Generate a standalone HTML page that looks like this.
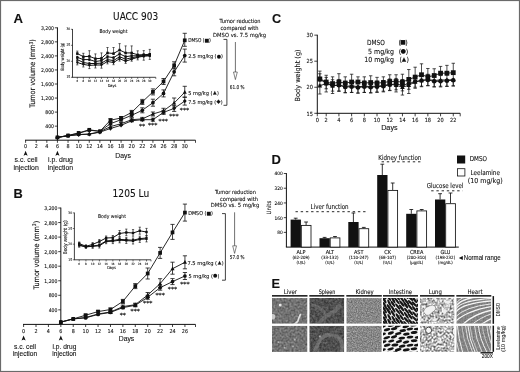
<!DOCTYPE html>
<html lang="en"><head><meta charset="utf-8"><title>Figure</title>
<style>html,body{margin:0;padding:0;background:#fff;width:520px;height:372px;overflow:hidden}svg{display:block}text{white-space:pre;stroke-width:0.1px}</style>
</head><body>
<svg width="520" height="372" viewBox="0 0 520 372">
<defs><filter id="soft" x="0" y="0" width="520" height="372" filterUnits="userSpaceOnUse" color-interpolation-filters="sRGB"><feGaussianBlur stdDeviation="0.32"/></filter><filter id="fliv" x="0" y="0" width="100%" height="100%" color-interpolation-filters="sRGB"><feTurbulence type="fractalNoise" baseFrequency="0.5" numOctaves="2" seed="4"/><feColorMatrix type="matrix" values="0 0 0 0.42 0.235  0 0 0 0.42 0.235  0 0 0 0.42 0.235  0 0 0 0 1" result="n"/><feComposite in="n" in2="SourceGraphic" operator="in"/></filter><filter id="fspl" x="0" y="0" width="100%" height="100%" color-interpolation-filters="sRGB"><feTurbulence type="fractalNoise" baseFrequency="0.45" numOctaves="2" seed="9"/><feColorMatrix type="matrix" values="0 0 0 0.36 0.13  0 0 0 0.36 0.13  0 0 0 0.36 0.13  0 0 0 0 1" result="n"/><feComposite in="n" in2="SourceGraphic" operator="in"/></filter><filter id="fkid" x="0" y="0" width="100%" height="100%" color-interpolation-filters="sRGB"><feTurbulence type="fractalNoise" baseFrequency="0.8" numOctaves="2" seed="17"/><feColorMatrix type="matrix" values="0 0 0 0.46 0.3  0 0 0 0.46 0.3  0 0 0 0.46 0.3  0 0 0 0 1" result="n"/><feComposite in="n" in2="SourceGraphic" operator="in"/></filter><filter id="flun" x="0" y="0" width="100%" height="100%" color-interpolation-filters="sRGB"><feTurbulence type="fractalNoise" baseFrequency="0.5" numOctaves="2" seed="31"/><feColorMatrix type="matrix" values="0 0 0 1.35 0.02  0 0 0 1.35 0.02  0 0 0 1.35 0.02  0 0 0 0 1" result="n"/><feComposite in="n" in2="SourceGraphic" operator="in"/></filter><filter id="fhea" x="0" y="0" width="100%" height="100%" color-interpolation-filters="sRGB"><feTurbulence type="fractalNoise" baseFrequency="0.6" numOctaves="2" seed="23"/><feColorMatrix type="matrix" values="0 0 0 0.24 0.39  0 0 0 0.24 0.39  0 0 0 0.24 0.39  0 0 0 0 1" result="n"/><feComposite in="n" in2="SourceGraphic" operator="in"/></filter><clipPath id="c00"><rect x="272.0" y="297.9" width="35.50" height="25.90"/></clipPath><clipPath id="c01"><rect x="272.0" y="325.7" width="35.50" height="26.20"/></clipPath><clipPath id="c10"><rect x="309.3" y="297.9" width="35.00" height="25.90"/></clipPath><clipPath id="c11"><rect x="309.3" y="325.7" width="35.00" height="26.20"/></clipPath><clipPath id="c20"><rect x="346.3" y="297.9" width="35.50" height="25.90"/></clipPath><clipPath id="c21"><rect x="346.3" y="325.7" width="35.50" height="26.20"/></clipPath><clipPath id="c30"><rect x="383.0" y="297.9" width="35.00" height="25.90"/></clipPath><clipPath id="c31"><rect x="383.0" y="325.7" width="35.00" height="26.20"/></clipPath><clipPath id="c40"><rect x="420.0" y="297.9" width="34.50" height="25.90"/></clipPath><clipPath id="c41"><rect x="420.0" y="325.7" width="34.50" height="26.20"/></clipPath><clipPath id="c50"><rect x="456.3" y="297.9" width="35.00" height="25.90"/></clipPath><clipPath id="c51"><rect x="456.3" y="325.7" width="35.00" height="26.20"/></clipPath></defs>
<rect x="0" y="0" width="520" height="372" fill="#fff"/>
<g filter="url(#soft)">
<text x="13.60" y="23.45" font-family="Liberation Sans,sans-serif" font-size="13.2" text-anchor="start" fill="#111" font-weight="bold" stroke="#111">A</text>
<text x="135.60" y="20.37" font-family="DejaVu Sans Condensed,DejaVu Sans,sans-serif" font-size="10.2" text-anchor="middle" fill="#111" stroke="#111" textLength="45" lengthAdjust="spacingAndGlyphs">UACC 903</text>
<line x1="25.00" y1="140.20" x2="195.50" y2="140.20" stroke="#111" stroke-width="1.0"/>
<line x1="57.43" y1="140.20" x2="57.43" y2="27.40" stroke="#111" stroke-width="1.0"/>
<line x1="54.83" y1="126.15" x2="57.43" y2="126.15" stroke="#111" stroke-width="0.8"/>
<text x="54.03" y="128.29" font-family="DejaVu Sans Condensed,DejaVu Sans,sans-serif" font-size="5.1" text-anchor="end" fill="#111" stroke="#111">400</text>
<line x1="54.83" y1="112.10" x2="57.43" y2="112.10" stroke="#111" stroke-width="0.8"/>
<text x="54.03" y="114.24" font-family="DejaVu Sans Condensed,DejaVu Sans,sans-serif" font-size="5.1" text-anchor="end" fill="#111" stroke="#111">800</text>
<line x1="54.83" y1="98.05" x2="57.43" y2="98.05" stroke="#111" stroke-width="0.8"/>
<text x="54.03" y="100.19" font-family="DejaVu Sans Condensed,DejaVu Sans,sans-serif" font-size="5.1" text-anchor="end" fill="#111" stroke="#111">1,200</text>
<line x1="54.83" y1="84.00" x2="57.43" y2="84.00" stroke="#111" stroke-width="0.8"/>
<text x="54.03" y="86.14" font-family="DejaVu Sans Condensed,DejaVu Sans,sans-serif" font-size="5.1" text-anchor="end" fill="#111" stroke="#111">1,600</text>
<line x1="54.83" y1="69.95" x2="57.43" y2="69.95" stroke="#111" stroke-width="0.8"/>
<text x="54.03" y="72.09" font-family="DejaVu Sans Condensed,DejaVu Sans,sans-serif" font-size="5.1" text-anchor="end" fill="#111" stroke="#111">2,000</text>
<line x1="54.83" y1="55.90" x2="57.43" y2="55.90" stroke="#111" stroke-width="0.8"/>
<text x="54.03" y="58.04" font-family="DejaVu Sans Condensed,DejaVu Sans,sans-serif" font-size="5.1" text-anchor="end" fill="#111" stroke="#111">2,400</text>
<line x1="54.83" y1="41.85" x2="57.43" y2="41.85" stroke="#111" stroke-width="0.8"/>
<text x="54.03" y="43.99" font-family="DejaVu Sans Condensed,DejaVu Sans,sans-serif" font-size="5.1" text-anchor="end" fill="#111" stroke="#111">2,800</text>
<line x1="54.83" y1="27.80" x2="57.43" y2="27.80" stroke="#111" stroke-width="0.8"/>
<text x="54.03" y="29.94" font-family="DejaVu Sans Condensed,DejaVu Sans,sans-serif" font-size="5.1" text-anchor="end" fill="#111" stroke="#111">3,200</text>
<line x1="25.60" y1="140.20" x2="25.60" y2="142.80" stroke="#111" stroke-width="0.8"/>
<text x="25.60" y="148.34" font-family="DejaVu Sans Condensed,DejaVu Sans,sans-serif" font-size="5.4" text-anchor="middle" fill="#111" stroke="#111">0</text>
<line x1="36.21" y1="140.20" x2="36.21" y2="142.80" stroke="#111" stroke-width="0.8"/>
<text x="36.21" y="148.34" font-family="DejaVu Sans Condensed,DejaVu Sans,sans-serif" font-size="5.4" text-anchor="middle" fill="#111" stroke="#111">2</text>
<line x1="46.82" y1="140.20" x2="46.82" y2="142.80" stroke="#111" stroke-width="0.8"/>
<text x="46.82" y="148.34" font-family="DejaVu Sans Condensed,DejaVu Sans,sans-serif" font-size="5.4" text-anchor="middle" fill="#111" stroke="#111">4</text>
<line x1="57.43" y1="140.20" x2="57.43" y2="142.80" stroke="#111" stroke-width="0.8"/>
<text x="57.43" y="148.34" font-family="DejaVu Sans Condensed,DejaVu Sans,sans-serif" font-size="5.4" text-anchor="middle" fill="#111" stroke="#111">6</text>
<line x1="68.04" y1="140.20" x2="68.04" y2="142.80" stroke="#111" stroke-width="0.8"/>
<text x="68.04" y="148.34" font-family="DejaVu Sans Condensed,DejaVu Sans,sans-serif" font-size="5.4" text-anchor="middle" fill="#111" stroke="#111">8</text>
<line x1="78.65" y1="140.20" x2="78.65" y2="142.80" stroke="#111" stroke-width="0.8"/>
<text x="78.65" y="148.34" font-family="DejaVu Sans Condensed,DejaVu Sans,sans-serif" font-size="5.4" text-anchor="middle" fill="#111" stroke="#111">10</text>
<line x1="89.26" y1="140.20" x2="89.26" y2="142.80" stroke="#111" stroke-width="0.8"/>
<text x="89.26" y="148.34" font-family="DejaVu Sans Condensed,DejaVu Sans,sans-serif" font-size="5.4" text-anchor="middle" fill="#111" stroke="#111">12</text>
<line x1="99.87" y1="140.20" x2="99.87" y2="142.80" stroke="#111" stroke-width="0.8"/>
<text x="99.87" y="148.34" font-family="DejaVu Sans Condensed,DejaVu Sans,sans-serif" font-size="5.4" text-anchor="middle" fill="#111" stroke="#111">14</text>
<line x1="110.48" y1="140.20" x2="110.48" y2="142.80" stroke="#111" stroke-width="0.8"/>
<text x="110.48" y="148.34" font-family="DejaVu Sans Condensed,DejaVu Sans,sans-serif" font-size="5.4" text-anchor="middle" fill="#111" stroke="#111">16</text>
<line x1="121.09" y1="140.20" x2="121.09" y2="142.80" stroke="#111" stroke-width="0.8"/>
<text x="121.09" y="148.34" font-family="DejaVu Sans Condensed,DejaVu Sans,sans-serif" font-size="5.4" text-anchor="middle" fill="#111" stroke="#111">18</text>
<line x1="131.70" y1="140.20" x2="131.70" y2="142.80" stroke="#111" stroke-width="0.8"/>
<text x="131.70" y="148.34" font-family="DejaVu Sans Condensed,DejaVu Sans,sans-serif" font-size="5.4" text-anchor="middle" fill="#111" stroke="#111">20</text>
<line x1="142.31" y1="140.20" x2="142.31" y2="142.80" stroke="#111" stroke-width="0.8"/>
<text x="142.31" y="148.34" font-family="DejaVu Sans Condensed,DejaVu Sans,sans-serif" font-size="5.4" text-anchor="middle" fill="#111" stroke="#111">22</text>
<line x1="152.92" y1="140.20" x2="152.92" y2="142.80" stroke="#111" stroke-width="0.8"/>
<text x="152.92" y="148.34" font-family="DejaVu Sans Condensed,DejaVu Sans,sans-serif" font-size="5.4" text-anchor="middle" fill="#111" stroke="#111">24</text>
<line x1="163.53" y1="140.20" x2="163.53" y2="142.80" stroke="#111" stroke-width="0.8"/>
<text x="163.53" y="148.34" font-family="DejaVu Sans Condensed,DejaVu Sans,sans-serif" font-size="5.4" text-anchor="middle" fill="#111" stroke="#111">26</text>
<line x1="174.14" y1="140.20" x2="174.14" y2="142.80" stroke="#111" stroke-width="0.8"/>
<text x="174.14" y="148.34" font-family="DejaVu Sans Condensed,DejaVu Sans,sans-serif" font-size="5.4" text-anchor="middle" fill="#111" stroke="#111">28</text>
<line x1="184.75" y1="140.20" x2="184.75" y2="142.80" stroke="#111" stroke-width="0.8"/>
<text x="184.75" y="148.34" font-family="DejaVu Sans Condensed,DejaVu Sans,sans-serif" font-size="5.4" text-anchor="middle" fill="#111" stroke="#111">30</text>
<line x1="195.50" y1="140.20" x2="195.50" y2="142.80" stroke="#111" stroke-width="0.8"/>
<text x="123.10" y="158.08" font-family="Liberation Sans,sans-serif" font-size="6.9" text-anchor="middle" fill="#111" stroke="#111" textLength="15.6" lengthAdjust="spacingAndGlyphs">Days</text>
<text x="32.60" y="76.10" font-family="DejaVu Sans Condensed,DejaVu Sans,sans-serif" font-size="7.5" text-anchor="middle" fill="#111" stroke="#111" textLength="68.6" lengthAdjust="spacingAndGlyphs" transform="rotate(-90 32.60 73.40)">Tumor volume (mm<tspan dy="-2.4" font-size="5.2">3</tspan><tspan dy="2.4">)</tspan></text>
<polygon points="25.60,150.80 27.65,155.80 25.60,154.80 23.55,155.80" fill="#111"/>
<text x="26.10" y="162.48" font-family="Liberation Sans,sans-serif" font-size="6.9" text-anchor="middle" fill="#111" stroke="#111">s.c. cell</text>
<text x="26.10" y="169.78" font-family="Liberation Sans,sans-serif" font-size="6.9" text-anchor="middle" fill="#111" stroke="#111">injection</text>
<polygon points="57.43,150.80 59.48,155.80 57.43,154.80 55.38,155.80" fill="#111"/>
<text x="60.43" y="162.48" font-family="Liberation Sans,sans-serif" font-size="6.9" text-anchor="middle" fill="#111" stroke="#111">i.p. drug</text>
<text x="60.43" y="169.78" font-family="Liberation Sans,sans-serif" font-size="6.9" text-anchor="middle" fill="#111" stroke="#111">injection</text>
<polyline fill="none" stroke="#111" stroke-width="0.9" points="57.43,137.40 68.04,135.90 78.65,134.70 89.26,134.20 99.87,132.20 110.48,128.50 121.09,125.30 131.70,120.80 142.31,119.70 152.92,119.70 163.53,112.40 174.14,108.40 184.75,101.10"/>
<polygon points="57.43,135.18 59.37,137.40 57.43,139.62 55.49,137.40" fill="#111"/>
<polygon points="68.04,133.68 69.98,135.90 68.04,138.12 66.10,135.90" fill="#111"/>
<polygon points="78.65,132.48 80.59,134.70 78.65,136.92 76.71,134.70" fill="#111"/>
<polygon points="89.26,131.98 91.20,134.20 89.26,136.42 87.32,134.20" fill="#111"/>
<polygon points="99.87,129.98 101.81,132.20 99.87,134.42 97.93,132.20" fill="#111"/>
<polygon points="110.48,126.28 112.42,128.50 110.48,130.72 108.54,128.50" fill="#111"/>
<polygon points="121.09,123.08 123.03,125.30 121.09,127.52 119.15,125.30" fill="#111"/>
<line x1="131.70" y1="120.80" x2="131.70" y2="119.80" stroke="#111" stroke-width="0.8"/>
<line x1="129.60" y1="119.80" x2="133.80" y2="119.80" stroke="#111" stroke-width="0.8"/>
<line x1="131.70" y1="120.80" x2="131.70" y2="121.80" stroke="#111" stroke-width="0.8"/>
<line x1="129.60" y1="121.80" x2="133.80" y2="121.80" stroke="#111" stroke-width="0.8"/>
<polygon points="131.70,118.58 133.64,120.80 131.70,123.02 129.76,120.80" fill="#111"/>
<line x1="142.31" y1="119.70" x2="142.31" y2="118.50" stroke="#111" stroke-width="0.8"/>
<line x1="140.21" y1="118.50" x2="144.41" y2="118.50" stroke="#111" stroke-width="0.8"/>
<line x1="142.31" y1="119.70" x2="142.31" y2="120.90" stroke="#111" stroke-width="0.8"/>
<line x1="140.21" y1="120.90" x2="144.41" y2="120.90" stroke="#111" stroke-width="0.8"/>
<polygon points="142.31,117.48 144.25,119.70 142.31,121.92 140.37,119.70" fill="#111"/>
<line x1="152.92" y1="119.70" x2="152.92" y2="118.20" stroke="#111" stroke-width="0.8"/>
<line x1="150.82" y1="118.20" x2="155.02" y2="118.20" stroke="#111" stroke-width="0.8"/>
<line x1="152.92" y1="119.70" x2="152.92" y2="121.20" stroke="#111" stroke-width="0.8"/>
<line x1="150.82" y1="121.20" x2="155.02" y2="121.20" stroke="#111" stroke-width="0.8"/>
<polygon points="152.92,117.48 154.86,119.70 152.92,121.92 150.98,119.70" fill="#111"/>
<line x1="163.53" y1="112.40" x2="163.53" y2="110.40" stroke="#111" stroke-width="0.8"/>
<line x1="161.43" y1="110.40" x2="165.63" y2="110.40" stroke="#111" stroke-width="0.8"/>
<line x1="163.53" y1="112.40" x2="163.53" y2="114.40" stroke="#111" stroke-width="0.8"/>
<line x1="161.43" y1="114.40" x2="165.63" y2="114.40" stroke="#111" stroke-width="0.8"/>
<polygon points="163.53,110.18 165.47,112.40 163.53,114.62 161.59,112.40" fill="#111"/>
<line x1="174.14" y1="108.40" x2="174.14" y2="105.40" stroke="#111" stroke-width="0.8"/>
<line x1="172.04" y1="105.40" x2="176.24" y2="105.40" stroke="#111" stroke-width="0.8"/>
<line x1="174.14" y1="108.40" x2="174.14" y2="111.40" stroke="#111" stroke-width="0.8"/>
<line x1="172.04" y1="111.40" x2="176.24" y2="111.40" stroke="#111" stroke-width="0.8"/>
<polygon points="174.14,106.18 176.08,108.40 174.14,110.62 172.20,108.40" fill="#111"/>
<line x1="184.75" y1="101.10" x2="184.75" y2="97.10" stroke="#111" stroke-width="0.8"/>
<line x1="182.65" y1="97.10" x2="186.85" y2="97.10" stroke="#111" stroke-width="0.8"/>
<line x1="184.75" y1="101.10" x2="184.75" y2="105.10" stroke="#111" stroke-width="0.8"/>
<line x1="182.65" y1="105.10" x2="186.85" y2="105.10" stroke="#111" stroke-width="0.8"/>
<polygon points="184.75,98.88 186.69,101.10 184.75,103.32 182.81,101.10" fill="#111"/>
<polyline fill="none" stroke="#111" stroke-width="0.9" points="57.43,137.40 68.04,135.70 78.65,134.50 89.26,134.00 99.87,131.80 110.48,126.60 121.09,123.70 131.70,119.70 142.31,118.90 152.92,114.00 163.53,110.80 174.14,103.00 184.75,92.30"/>
<polygon points="57.43,135.18 59.47,138.97 55.39,138.97" fill="#111"/>
<polygon points="68.04,133.48 70.07,137.27 66.00,137.27" fill="#111"/>
<polygon points="78.65,132.28 80.69,136.07 76.62,136.07" fill="#111"/>
<polygon points="89.26,131.78 91.29,135.57 87.22,135.57" fill="#111"/>
<polygon points="99.87,129.58 101.91,133.37 97.84,133.37" fill="#111"/>
<polygon points="110.48,124.38 112.51,128.17 108.44,128.17" fill="#111"/>
<line x1="121.09" y1="123.70" x2="121.09" y2="122.50" stroke="#111" stroke-width="0.8"/>
<line x1="118.99" y1="122.50" x2="123.19" y2="122.50" stroke="#111" stroke-width="0.8"/>
<line x1="121.09" y1="123.70" x2="121.09" y2="124.90" stroke="#111" stroke-width="0.8"/>
<line x1="118.99" y1="124.90" x2="123.19" y2="124.90" stroke="#111" stroke-width="0.8"/>
<polygon points="121.09,121.48 123.12,125.27 119.06,125.27" fill="#111"/>
<line x1="131.70" y1="119.70" x2="131.70" y2="118.20" stroke="#111" stroke-width="0.8"/>
<line x1="129.60" y1="118.20" x2="133.80" y2="118.20" stroke="#111" stroke-width="0.8"/>
<line x1="131.70" y1="119.70" x2="131.70" y2="121.20" stroke="#111" stroke-width="0.8"/>
<line x1="129.60" y1="121.20" x2="133.80" y2="121.20" stroke="#111" stroke-width="0.8"/>
<polygon points="131.70,117.48 133.73,121.27 129.66,121.27" fill="#111"/>
<line x1="142.31" y1="118.90" x2="142.31" y2="117.40" stroke="#111" stroke-width="0.8"/>
<line x1="140.21" y1="117.40" x2="144.41" y2="117.40" stroke="#111" stroke-width="0.8"/>
<line x1="142.31" y1="118.90" x2="142.31" y2="120.40" stroke="#111" stroke-width="0.8"/>
<line x1="140.21" y1="120.40" x2="144.41" y2="120.40" stroke="#111" stroke-width="0.8"/>
<polygon points="142.31,116.68 144.34,120.47 140.28,120.47" fill="#111"/>
<line x1="152.92" y1="114.00" x2="152.92" y2="112.00" stroke="#111" stroke-width="0.8"/>
<line x1="150.82" y1="112.00" x2="155.02" y2="112.00" stroke="#111" stroke-width="0.8"/>
<line x1="152.92" y1="114.00" x2="152.92" y2="116.00" stroke="#111" stroke-width="0.8"/>
<line x1="150.82" y1="116.00" x2="155.02" y2="116.00" stroke="#111" stroke-width="0.8"/>
<polygon points="152.92,111.78 154.95,115.57 150.88,115.57" fill="#111"/>
<line x1="163.53" y1="110.80" x2="163.53" y2="108.30" stroke="#111" stroke-width="0.8"/>
<line x1="161.43" y1="108.30" x2="165.63" y2="108.30" stroke="#111" stroke-width="0.8"/>
<line x1="163.53" y1="110.80" x2="163.53" y2="113.30" stroke="#111" stroke-width="0.8"/>
<line x1="161.43" y1="113.30" x2="165.63" y2="113.30" stroke="#111" stroke-width="0.8"/>
<polygon points="163.53,108.58 165.56,112.37 161.50,112.37" fill="#111"/>
<line x1="174.14" y1="103.00" x2="174.14" y2="98.00" stroke="#111" stroke-width="0.8"/>
<line x1="172.04" y1="98.00" x2="176.24" y2="98.00" stroke="#111" stroke-width="0.8"/>
<line x1="174.14" y1="103.00" x2="174.14" y2="107.00" stroke="#111" stroke-width="0.8"/>
<line x1="172.04" y1="107.00" x2="176.24" y2="107.00" stroke="#111" stroke-width="0.8"/>
<polygon points="174.14,100.78 176.17,104.57 172.10,104.57" fill="#111"/>
<line x1="184.75" y1="92.30" x2="184.75" y2="86.30" stroke="#111" stroke-width="0.8"/>
<line x1="182.65" y1="86.30" x2="186.85" y2="86.30" stroke="#111" stroke-width="0.8"/>
<line x1="184.75" y1="92.30" x2="184.75" y2="97.30" stroke="#111" stroke-width="0.8"/>
<line x1="182.65" y1="97.30" x2="186.85" y2="97.30" stroke="#111" stroke-width="0.8"/>
<polygon points="184.75,90.08 186.78,93.87 182.71,93.87" fill="#111"/>
<polyline fill="none" stroke="#111" stroke-width="0.9" points="57.43,137.40 68.04,135.50 78.65,133.30 89.26,130.20 99.87,131.30 110.48,123.70 121.09,119.70 131.70,115.30 142.31,110.30 152.92,102.70 163.53,93.40 174.14,71.80 184.75,55.60"/>
<circle cx="57.43" cy="137.40" r="1.85" fill="#111"/>
<circle cx="68.04" cy="135.50" r="1.85" fill="#111"/>
<circle cx="78.65" cy="133.30" r="1.85" fill="#111"/>
<circle cx="89.26" cy="130.20" r="1.85" fill="#111"/>
<circle cx="99.87" cy="131.30" r="1.85" fill="#111"/>
<line x1="110.48" y1="123.70" x2="110.48" y2="122.50" stroke="#111" stroke-width="0.8"/>
<line x1="108.38" y1="122.50" x2="112.58" y2="122.50" stroke="#111" stroke-width="0.8"/>
<line x1="110.48" y1="123.70" x2="110.48" y2="124.90" stroke="#111" stroke-width="0.8"/>
<line x1="108.38" y1="124.90" x2="112.58" y2="124.90" stroke="#111" stroke-width="0.8"/>
<circle cx="110.48" cy="123.70" r="1.85" fill="#111"/>
<line x1="121.09" y1="119.70" x2="121.09" y2="118.20" stroke="#111" stroke-width="0.8"/>
<line x1="118.99" y1="118.20" x2="123.19" y2="118.20" stroke="#111" stroke-width="0.8"/>
<line x1="121.09" y1="119.70" x2="121.09" y2="121.20" stroke="#111" stroke-width="0.8"/>
<line x1="118.99" y1="121.20" x2="123.19" y2="121.20" stroke="#111" stroke-width="0.8"/>
<circle cx="121.09" cy="119.70" r="1.85" fill="#111"/>
<line x1="131.70" y1="115.30" x2="131.70" y2="113.30" stroke="#111" stroke-width="0.8"/>
<line x1="129.60" y1="113.30" x2="133.80" y2="113.30" stroke="#111" stroke-width="0.8"/>
<line x1="131.70" y1="115.30" x2="131.70" y2="117.30" stroke="#111" stroke-width="0.8"/>
<line x1="129.60" y1="117.30" x2="133.80" y2="117.30" stroke="#111" stroke-width="0.8"/>
<circle cx="131.70" cy="115.30" r="1.85" fill="#111"/>
<line x1="142.31" y1="110.30" x2="142.31" y2="107.80" stroke="#111" stroke-width="0.8"/>
<line x1="140.21" y1="107.80" x2="144.41" y2="107.80" stroke="#111" stroke-width="0.8"/>
<line x1="142.31" y1="110.30" x2="142.31" y2="112.80" stroke="#111" stroke-width="0.8"/>
<line x1="140.21" y1="112.80" x2="144.41" y2="112.80" stroke="#111" stroke-width="0.8"/>
<circle cx="142.31" cy="110.30" r="1.85" fill="#111"/>
<line x1="152.92" y1="102.70" x2="152.92" y2="99.20" stroke="#111" stroke-width="0.8"/>
<line x1="150.82" y1="99.20" x2="155.02" y2="99.20" stroke="#111" stroke-width="0.8"/>
<line x1="152.92" y1="102.70" x2="152.92" y2="106.20" stroke="#111" stroke-width="0.8"/>
<line x1="150.82" y1="106.20" x2="155.02" y2="106.20" stroke="#111" stroke-width="0.8"/>
<circle cx="152.92" cy="102.70" r="1.85" fill="#111"/>
<line x1="163.53" y1="93.40" x2="163.53" y2="89.90" stroke="#111" stroke-width="0.8"/>
<line x1="161.43" y1="89.90" x2="165.63" y2="89.90" stroke="#111" stroke-width="0.8"/>
<line x1="163.53" y1="93.40" x2="163.53" y2="96.90" stroke="#111" stroke-width="0.8"/>
<line x1="161.43" y1="96.90" x2="165.63" y2="96.90" stroke="#111" stroke-width="0.8"/>
<circle cx="163.53" cy="93.40" r="1.85" fill="#111"/>
<line x1="174.14" y1="71.80" x2="174.14" y2="67.80" stroke="#111" stroke-width="0.8"/>
<line x1="172.04" y1="67.80" x2="176.24" y2="67.80" stroke="#111" stroke-width="0.8"/>
<line x1="174.14" y1="71.80" x2="174.14" y2="75.80" stroke="#111" stroke-width="0.8"/>
<line x1="172.04" y1="75.80" x2="176.24" y2="75.80" stroke="#111" stroke-width="0.8"/>
<circle cx="174.14" cy="71.80" r="1.85" fill="#111"/>
<line x1="184.75" y1="55.60" x2="184.75" y2="49.10" stroke="#111" stroke-width="0.8"/>
<line x1="182.65" y1="49.10" x2="186.85" y2="49.10" stroke="#111" stroke-width="0.8"/>
<line x1="184.75" y1="55.60" x2="184.75" y2="62.10" stroke="#111" stroke-width="0.8"/>
<line x1="182.65" y1="62.10" x2="186.85" y2="62.10" stroke="#111" stroke-width="0.8"/>
<circle cx="184.75" cy="55.60" r="1.85" fill="#111"/>
<polyline fill="none" stroke="#111" stroke-width="0.9" points="57.43,137.40 68.04,135.50 78.65,132.90 89.26,129.80 99.87,131.30 110.48,120.20 121.09,118.00 131.70,112.40 142.31,101.90 152.92,91.90 163.53,81.50 174.14,65.30 184.75,40.30"/>
<rect x="55.58" y="135.55" width="3.7" height="3.7" fill="#111"/>
<rect x="66.19" y="133.65" width="3.7" height="3.7" fill="#111"/>
<rect x="76.80" y="131.05" width="3.7" height="3.7" fill="#111"/>
<rect x="87.41" y="127.95" width="3.7" height="3.7" fill="#111"/>
<rect x="98.02" y="129.45" width="3.7" height="3.7" fill="#111"/>
<line x1="110.48" y1="120.20" x2="110.48" y2="118.70" stroke="#111" stroke-width="0.8"/>
<line x1="108.38" y1="118.70" x2="112.58" y2="118.70" stroke="#111" stroke-width="0.8"/>
<line x1="110.48" y1="120.20" x2="110.48" y2="121.70" stroke="#111" stroke-width="0.8"/>
<line x1="108.38" y1="121.70" x2="112.58" y2="121.70" stroke="#111" stroke-width="0.8"/>
<rect x="108.63" y="118.35" width="3.7" height="3.7" fill="#111"/>
<line x1="121.09" y1="118.00" x2="121.09" y2="116.50" stroke="#111" stroke-width="0.8"/>
<line x1="118.99" y1="116.50" x2="123.19" y2="116.50" stroke="#111" stroke-width="0.8"/>
<line x1="121.09" y1="118.00" x2="121.09" y2="119.50" stroke="#111" stroke-width="0.8"/>
<line x1="118.99" y1="119.50" x2="123.19" y2="119.50" stroke="#111" stroke-width="0.8"/>
<rect x="119.24" y="116.15" width="3.7" height="3.7" fill="#111"/>
<line x1="131.70" y1="112.40" x2="131.70" y2="110.40" stroke="#111" stroke-width="0.8"/>
<line x1="129.60" y1="110.40" x2="133.80" y2="110.40" stroke="#111" stroke-width="0.8"/>
<line x1="131.70" y1="112.40" x2="131.70" y2="114.40" stroke="#111" stroke-width="0.8"/>
<line x1="129.60" y1="114.40" x2="133.80" y2="114.40" stroke="#111" stroke-width="0.8"/>
<rect x="129.85" y="110.55" width="3.7" height="3.7" fill="#111"/>
<line x1="142.31" y1="101.90" x2="142.31" y2="99.40" stroke="#111" stroke-width="0.8"/>
<line x1="140.21" y1="99.40" x2="144.41" y2="99.40" stroke="#111" stroke-width="0.8"/>
<line x1="142.31" y1="101.90" x2="142.31" y2="104.40" stroke="#111" stroke-width="0.8"/>
<line x1="140.21" y1="104.40" x2="144.41" y2="104.40" stroke="#111" stroke-width="0.8"/>
<rect x="140.46" y="100.05" width="3.7" height="3.7" fill="#111"/>
<line x1="152.92" y1="91.90" x2="152.92" y2="88.90" stroke="#111" stroke-width="0.8"/>
<line x1="150.82" y1="88.90" x2="155.02" y2="88.90" stroke="#111" stroke-width="0.8"/>
<line x1="152.92" y1="91.90" x2="152.92" y2="94.90" stroke="#111" stroke-width="0.8"/>
<line x1="150.82" y1="94.90" x2="155.02" y2="94.90" stroke="#111" stroke-width="0.8"/>
<rect x="151.07" y="90.05" width="3.7" height="3.7" fill="#111"/>
<line x1="163.53" y1="81.50" x2="163.53" y2="78.50" stroke="#111" stroke-width="0.8"/>
<line x1="161.43" y1="78.50" x2="165.63" y2="78.50" stroke="#111" stroke-width="0.8"/>
<line x1="163.53" y1="81.50" x2="163.53" y2="84.50" stroke="#111" stroke-width="0.8"/>
<line x1="161.43" y1="84.50" x2="165.63" y2="84.50" stroke="#111" stroke-width="0.8"/>
<rect x="161.68" y="79.65" width="3.7" height="3.7" fill="#111"/>
<line x1="174.14" y1="65.30" x2="174.14" y2="61.80" stroke="#111" stroke-width="0.8"/>
<line x1="172.04" y1="61.80" x2="176.24" y2="61.80" stroke="#111" stroke-width="0.8"/>
<line x1="174.14" y1="65.30" x2="174.14" y2="68.80" stroke="#111" stroke-width="0.8"/>
<line x1="172.04" y1="68.80" x2="176.24" y2="68.80" stroke="#111" stroke-width="0.8"/>
<rect x="172.29" y="63.45" width="3.7" height="3.7" fill="#111"/>
<line x1="184.75" y1="40.30" x2="184.75" y2="33.30" stroke="#111" stroke-width="0.8"/>
<line x1="182.65" y1="33.30" x2="186.85" y2="33.30" stroke="#111" stroke-width="0.8"/>
<line x1="184.75" y1="40.30" x2="184.75" y2="46.30" stroke="#111" stroke-width="0.8"/>
<line x1="182.65" y1="46.30" x2="186.85" y2="46.30" stroke="#111" stroke-width="0.8"/>
<rect x="182.90" y="38.45" width="3.7" height="3.7" fill="#111"/>
<text x="142.01" y="128.00" font-family="DejaVu Sans,sans-serif" font-size="5.8" text-anchor="middle" fill="#111" font-weight="bold" stroke="#111" textLength="6.2" lengthAdjust="spacingAndGlyphs">**</text>
<text x="152.62" y="127.30" font-family="DejaVu Sans,sans-serif" font-size="5.8" text-anchor="middle" fill="#111" font-weight="bold" stroke="#111" textLength="9.3" lengthAdjust="spacingAndGlyphs">***</text>
<text x="163.23" y="122.70" font-family="DejaVu Sans,sans-serif" font-size="5.8" text-anchor="middle" fill="#111" font-weight="bold" stroke="#111" textLength="9.3" lengthAdjust="spacingAndGlyphs">***</text>
<text x="173.84" y="118.30" font-family="DejaVu Sans,sans-serif" font-size="5.8" text-anchor="middle" fill="#111" font-weight="bold" stroke="#111" textLength="9.3" lengthAdjust="spacingAndGlyphs">***</text>
<text x="184.45" y="111.50" font-family="DejaVu Sans,sans-serif" font-size="5.8" text-anchor="middle" fill="#111" font-weight="bold" stroke="#111" textLength="9.3" lengthAdjust="spacingAndGlyphs">***</text>
<text x="188.20" y="42.11" font-family="DejaVu Sans Condensed,DejaVu Sans,sans-serif" font-size="5.3" text-anchor="start" fill="#111" stroke="#111" textLength="16.2" lengthAdjust="spacingAndGlyphs">DMSO (</text>
<text x="206.80" y="41.53" font-family="DejaVu Sans,sans-serif" font-size="5.0" text-anchor="middle" fill="#111" stroke="#111">■</text>
<text x="209.00" y="42.11" font-family="DejaVu Sans Condensed,DejaVu Sans,sans-serif" font-size="5.3" text-anchor="start" fill="#111" stroke="#111">)</text>
<text x="188.20" y="58.21" font-family="DejaVu Sans Condensed,DejaVu Sans,sans-serif" font-size="5.3" text-anchor="start" fill="#111" stroke="#111" textLength="28.3" lengthAdjust="spacingAndGlyphs">2.5 mg/kg (</text>
<text x="218.90" y="57.62" font-family="DejaVu Sans,sans-serif" font-size="5.0" text-anchor="middle" fill="#111" stroke="#111">●</text>
<text x="221.10" y="58.21" font-family="DejaVu Sans Condensed,DejaVu Sans,sans-serif" font-size="5.3" text-anchor="start" fill="#111" stroke="#111">)</text>
<text x="188.20" y="94.71" font-family="DejaVu Sans Condensed,DejaVu Sans,sans-serif" font-size="5.3" text-anchor="start" fill="#111" stroke="#111" textLength="24.2" lengthAdjust="spacingAndGlyphs">5 mg/kg (</text>
<text x="214.80" y="94.06" font-family="DejaVu Sans,sans-serif" font-size="4.74" text-anchor="middle" fill="#111" stroke="#111">▲</text>
<text x="217.00" y="94.71" font-family="DejaVu Sans Condensed,DejaVu Sans,sans-serif" font-size="5.3" text-anchor="start" fill="#111" stroke="#111">)</text>
<text x="188.20" y="103.51" font-family="DejaVu Sans Condensed,DejaVu Sans,sans-serif" font-size="5.3" text-anchor="start" fill="#111" stroke="#111" textLength="27.9" lengthAdjust="spacingAndGlyphs">7.5 mg/kg (</text>
<text x="218.50" y="102.99" font-family="DejaVu Sans,sans-serif" font-size="5.26" text-anchor="middle" fill="#111" stroke="#111">◆</text>
<text x="220.70" y="103.51" font-family="DejaVu Sans Condensed,DejaVu Sans,sans-serif" font-size="5.3" text-anchor="start" fill="#111" stroke="#111">)</text>
<text x="240.00" y="22.92" font-family="DejaVu Sans Condensed,DejaVu Sans,sans-serif" font-size="5.6" text-anchor="middle" fill="#111" stroke="#111" textLength="41" lengthAdjust="spacingAndGlyphs">Tumor reduction</text>
<text x="239.50" y="29.72" font-family="DejaVu Sans Condensed,DejaVu Sans,sans-serif" font-size="5.6" text-anchor="middle" fill="#111" stroke="#111" textLength="38" lengthAdjust="spacingAndGlyphs">compared with</text>
<text x="239.60" y="36.92" font-family="DejaVu Sans Condensed,DejaVu Sans,sans-serif" font-size="5.6" text-anchor="middle" fill="#111" stroke="#111" textLength="53" lengthAdjust="spacingAndGlyphs">DMSO vs. 7.5 mg/kg</text>
<polyline fill="none" stroke="#111" stroke-width="0.8" points="223.50,39.40 226.90,39.40 226.90,105.30 223.50,105.30"/>
<line x1="235.40" y1="42.00" x2="235.40" y2="72.60" stroke="#333" stroke-width="0.7"/>
<polygon points="233.50,72.00 237.30,72.00 235.40,79.60" fill="#fff" stroke="#333" stroke-width="0.6"/>
<text x="229.80" y="89.31" font-family="DejaVu Sans Condensed,DejaVu Sans,sans-serif" font-size="5.3" text-anchor="start" fill="#111" stroke="#111" textLength="14.8" lengthAdjust="spacingAndGlyphs">61.0 %</text>
<line x1="72.50" y1="29.00" x2="72.50" y2="77.30" stroke="#111" stroke-width="0.8"/>
<line x1="72.10" y1="77.30" x2="155.80" y2="77.30" stroke="#111" stroke-width="0.8"/>
<line x1="70.90" y1="29.30" x2="72.50" y2="29.30" stroke="#111" stroke-width="0.6"/>
<text x="70.20" y="30.49" font-family="DejaVu Sans Condensed,DejaVu Sans,sans-serif" font-size="3.3" text-anchor="end" fill="#111" stroke="#111">30</text>
<line x1="70.90" y1="45.30" x2="72.50" y2="45.30" stroke="#111" stroke-width="0.6"/>
<text x="70.20" y="46.49" font-family="DejaVu Sans Condensed,DejaVu Sans,sans-serif" font-size="3.3" text-anchor="end" fill="#111" stroke="#111">25</text>
<line x1="70.90" y1="61.30" x2="72.50" y2="61.30" stroke="#111" stroke-width="0.6"/>
<text x="70.20" y="62.49" font-family="DejaVu Sans Condensed,DejaVu Sans,sans-serif" font-size="3.3" text-anchor="end" fill="#111" stroke="#111">20</text>
<line x1="70.90" y1="77.30" x2="72.50" y2="77.30" stroke="#111" stroke-width="0.6"/>
<text x="70.20" y="78.49" font-family="DejaVu Sans Condensed,DejaVu Sans,sans-serif" font-size="3.3" text-anchor="end" fill="#111" stroke="#111">15</text>
<line x1="77.30" y1="77.30" x2="77.30" y2="78.90" stroke="#111" stroke-width="0.6"/>
<text x="77.30" y="82.04" font-family="DejaVu Sans Condensed,DejaVu Sans,sans-serif" font-size="2.9" text-anchor="middle" fill="#111" stroke="#111">6</text>
<line x1="83.34" y1="77.30" x2="83.34" y2="78.90" stroke="#111" stroke-width="0.6"/>
<text x="83.34" y="82.04" font-family="DejaVu Sans Condensed,DejaVu Sans,sans-serif" font-size="2.9" text-anchor="middle" fill="#111" stroke="#111">8</text>
<line x1="89.38" y1="77.30" x2="89.38" y2="78.90" stroke="#111" stroke-width="0.6"/>
<text x="89.38" y="82.04" font-family="DejaVu Sans Condensed,DejaVu Sans,sans-serif" font-size="2.9" text-anchor="middle" fill="#111" stroke="#111">10</text>
<line x1="95.42" y1="77.30" x2="95.42" y2="78.90" stroke="#111" stroke-width="0.6"/>
<text x="95.42" y="82.04" font-family="DejaVu Sans Condensed,DejaVu Sans,sans-serif" font-size="2.9" text-anchor="middle" fill="#111" stroke="#111">12</text>
<line x1="101.46" y1="77.30" x2="101.46" y2="78.90" stroke="#111" stroke-width="0.6"/>
<text x="101.46" y="82.04" font-family="DejaVu Sans Condensed,DejaVu Sans,sans-serif" font-size="2.9" text-anchor="middle" fill="#111" stroke="#111">14</text>
<line x1="107.50" y1="77.30" x2="107.50" y2="78.90" stroke="#111" stroke-width="0.6"/>
<text x="107.50" y="82.04" font-family="DejaVu Sans Condensed,DejaVu Sans,sans-serif" font-size="2.9" text-anchor="middle" fill="#111" stroke="#111">16</text>
<line x1="113.54" y1="77.30" x2="113.54" y2="78.90" stroke="#111" stroke-width="0.6"/>
<text x="113.54" y="82.04" font-family="DejaVu Sans Condensed,DejaVu Sans,sans-serif" font-size="2.9" text-anchor="middle" fill="#111" stroke="#111">18</text>
<line x1="119.58" y1="77.30" x2="119.58" y2="78.90" stroke="#111" stroke-width="0.6"/>
<text x="119.58" y="82.04" font-family="DejaVu Sans Condensed,DejaVu Sans,sans-serif" font-size="2.9" text-anchor="middle" fill="#111" stroke="#111">20</text>
<line x1="125.62" y1="77.30" x2="125.62" y2="78.90" stroke="#111" stroke-width="0.6"/>
<text x="125.62" y="82.04" font-family="DejaVu Sans Condensed,DejaVu Sans,sans-serif" font-size="2.9" text-anchor="middle" fill="#111" stroke="#111">22</text>
<line x1="131.66" y1="77.30" x2="131.66" y2="78.90" stroke="#111" stroke-width="0.6"/>
<text x="131.66" y="82.04" font-family="DejaVu Sans Condensed,DejaVu Sans,sans-serif" font-size="2.9" text-anchor="middle" fill="#111" stroke="#111">24</text>
<line x1="137.70" y1="77.30" x2="137.70" y2="78.90" stroke="#111" stroke-width="0.6"/>
<text x="137.70" y="82.04" font-family="DejaVu Sans Condensed,DejaVu Sans,sans-serif" font-size="2.9" text-anchor="middle" fill="#111" stroke="#111">26</text>
<line x1="143.74" y1="77.30" x2="143.74" y2="78.90" stroke="#111" stroke-width="0.6"/>
<text x="143.74" y="82.04" font-family="DejaVu Sans Condensed,DejaVu Sans,sans-serif" font-size="2.9" text-anchor="middle" fill="#111" stroke="#111">28</text>
<line x1="149.78" y1="77.30" x2="149.78" y2="78.90" stroke="#111" stroke-width="0.6"/>
<text x="149.78" y="82.04" font-family="DejaVu Sans Condensed,DejaVu Sans,sans-serif" font-size="2.9" text-anchor="middle" fill="#111" stroke="#111">30</text>
<line x1="155.80" y1="77.30" x2="155.80" y2="78.90" stroke="#111" stroke-width="0.6"/>
<text x="113.50" y="32.80" font-family="DejaVu Sans Condensed,DejaVu Sans,sans-serif" font-size="5.0" text-anchor="middle" fill="#111" stroke="#111">Body weight</text>
<text x="112.00" y="87.40" font-family="DejaVu Sans Condensed,DejaVu Sans,sans-serif" font-size="3.9" text-anchor="middle" fill="#111" stroke="#111">Days</text>
<text x="62.30" y="58.12" font-family="DejaVu Sans Condensed,DejaVu Sans,sans-serif" font-size="4.5" text-anchor="middle" fill="#111" stroke="#111" textLength="28" lengthAdjust="spacingAndGlyphs" transform="rotate(-90 62.30 56.50)">Body weight (g)</text>
<polyline fill="none" stroke="#111" stroke-width="1.0" points="77.30,53.50 83.34,56.70 89.38,56.30 95.42,58.70 101.46,58.30 107.50,52.90 113.54,53.50 119.58,50.00 125.62,52.90 131.66,52.90 137.70,54.80 143.74,54.80 149.78,54.20"/>
<line x1="77.30" y1="53.50" x2="77.30" y2="51.10" stroke="#111" stroke-width="0.65"/>
<line x1="76.20" y1="51.10" x2="78.40" y2="51.10" stroke="#111" stroke-width="0.65"/>
<line x1="77.30" y1="53.50" x2="77.30" y2="54.50" stroke="#111" stroke-width="0.65"/>
<line x1="76.20" y1="54.50" x2="78.40" y2="54.50" stroke="#111" stroke-width="0.65"/>
<rect x="76.10" y="52.30" width="2.4" height="2.4" fill="#111"/>
<line x1="83.34" y1="56.70" x2="83.34" y2="53.30" stroke="#111" stroke-width="0.65"/>
<line x1="82.24" y1="53.30" x2="84.44" y2="53.30" stroke="#111" stroke-width="0.65"/>
<line x1="83.34" y1="56.70" x2="83.34" y2="57.70" stroke="#111" stroke-width="0.65"/>
<line x1="82.24" y1="57.70" x2="84.44" y2="57.70" stroke="#111" stroke-width="0.65"/>
<rect x="82.14" y="55.50" width="2.4" height="2.4" fill="#111"/>
<line x1="89.38" y1="56.30" x2="89.38" y2="50.70" stroke="#111" stroke-width="0.65"/>
<line x1="88.28" y1="50.70" x2="90.48" y2="50.70" stroke="#111" stroke-width="0.65"/>
<line x1="89.38" y1="56.30" x2="89.38" y2="57.30" stroke="#111" stroke-width="0.65"/>
<line x1="88.28" y1="57.30" x2="90.48" y2="57.30" stroke="#111" stroke-width="0.65"/>
<rect x="88.18" y="55.10" width="2.4" height="2.4" fill="#111"/>
<line x1="95.42" y1="58.70" x2="95.42" y2="53.90" stroke="#111" stroke-width="0.65"/>
<line x1="94.32" y1="53.90" x2="96.52" y2="53.90" stroke="#111" stroke-width="0.65"/>
<line x1="95.42" y1="58.70" x2="95.42" y2="59.70" stroke="#111" stroke-width="0.65"/>
<line x1="94.32" y1="59.70" x2="96.52" y2="59.70" stroke="#111" stroke-width="0.65"/>
<rect x="94.22" y="57.50" width="2.4" height="2.4" fill="#111"/>
<line x1="101.46" y1="58.30" x2="101.46" y2="52.90" stroke="#111" stroke-width="0.65"/>
<line x1="100.36" y1="52.90" x2="102.56" y2="52.90" stroke="#111" stroke-width="0.65"/>
<line x1="101.46" y1="58.30" x2="101.46" y2="59.30" stroke="#111" stroke-width="0.65"/>
<line x1="100.36" y1="59.30" x2="102.56" y2="59.30" stroke="#111" stroke-width="0.65"/>
<rect x="100.26" y="57.10" width="2.4" height="2.4" fill="#111"/>
<line x1="107.50" y1="52.90" x2="107.50" y2="47.50" stroke="#111" stroke-width="0.65"/>
<line x1="106.40" y1="47.50" x2="108.60" y2="47.50" stroke="#111" stroke-width="0.65"/>
<line x1="107.50" y1="52.90" x2="107.50" y2="53.90" stroke="#111" stroke-width="0.65"/>
<line x1="106.40" y1="53.90" x2="108.60" y2="53.90" stroke="#111" stroke-width="0.65"/>
<rect x="106.30" y="51.70" width="2.4" height="2.4" fill="#111"/>
<line x1="113.54" y1="53.50" x2="113.54" y2="47.50" stroke="#111" stroke-width="0.65"/>
<line x1="112.44" y1="47.50" x2="114.64" y2="47.50" stroke="#111" stroke-width="0.65"/>
<line x1="113.54" y1="53.50" x2="113.54" y2="54.50" stroke="#111" stroke-width="0.65"/>
<line x1="112.44" y1="54.50" x2="114.64" y2="54.50" stroke="#111" stroke-width="0.65"/>
<rect x="112.34" y="52.30" width="2.4" height="2.4" fill="#111"/>
<line x1="119.58" y1="50.00" x2="119.58" y2="43.60" stroke="#111" stroke-width="0.65"/>
<line x1="118.48" y1="43.60" x2="120.68" y2="43.60" stroke="#111" stroke-width="0.65"/>
<line x1="119.58" y1="50.00" x2="119.58" y2="51.00" stroke="#111" stroke-width="0.65"/>
<line x1="118.48" y1="51.00" x2="120.68" y2="51.00" stroke="#111" stroke-width="0.65"/>
<rect x="118.38" y="48.80" width="2.4" height="2.4" fill="#111"/>
<line x1="125.62" y1="52.90" x2="125.62" y2="45.90" stroke="#111" stroke-width="0.65"/>
<line x1="124.52" y1="45.90" x2="126.72" y2="45.90" stroke="#111" stroke-width="0.65"/>
<line x1="125.62" y1="52.90" x2="125.62" y2="53.90" stroke="#111" stroke-width="0.65"/>
<line x1="124.52" y1="53.90" x2="126.72" y2="53.90" stroke="#111" stroke-width="0.65"/>
<rect x="124.42" y="51.70" width="2.4" height="2.4" fill="#111"/>
<line x1="131.66" y1="52.90" x2="131.66" y2="45.90" stroke="#111" stroke-width="0.65"/>
<line x1="130.56" y1="45.90" x2="132.76" y2="45.90" stroke="#111" stroke-width="0.65"/>
<line x1="131.66" y1="52.90" x2="131.66" y2="53.90" stroke="#111" stroke-width="0.65"/>
<line x1="130.56" y1="53.90" x2="132.76" y2="53.90" stroke="#111" stroke-width="0.65"/>
<rect x="130.46" y="51.70" width="2.4" height="2.4" fill="#111"/>
<line x1="137.70" y1="54.80" x2="137.70" y2="50.80" stroke="#111" stroke-width="0.65"/>
<line x1="136.60" y1="50.80" x2="138.80" y2="50.80" stroke="#111" stroke-width="0.65"/>
<line x1="137.70" y1="54.80" x2="137.70" y2="55.80" stroke="#111" stroke-width="0.65"/>
<line x1="136.60" y1="55.80" x2="138.80" y2="55.80" stroke="#111" stroke-width="0.65"/>
<rect x="136.50" y="53.60" width="2.4" height="2.4" fill="#111"/>
<line x1="143.74" y1="54.80" x2="143.74" y2="50.60" stroke="#111" stroke-width="0.65"/>
<line x1="142.64" y1="50.60" x2="144.84" y2="50.60" stroke="#111" stroke-width="0.65"/>
<line x1="143.74" y1="54.80" x2="143.74" y2="55.80" stroke="#111" stroke-width="0.65"/>
<line x1="142.64" y1="55.80" x2="144.84" y2="55.80" stroke="#111" stroke-width="0.65"/>
<rect x="142.54" y="53.60" width="2.4" height="2.4" fill="#111"/>
<line x1="149.78" y1="54.20" x2="149.78" y2="49.40" stroke="#111" stroke-width="0.65"/>
<line x1="148.68" y1="49.40" x2="150.88" y2="49.40" stroke="#111" stroke-width="0.65"/>
<line x1="149.78" y1="54.20" x2="149.78" y2="55.20" stroke="#111" stroke-width="0.65"/>
<line x1="148.68" y1="55.20" x2="150.88" y2="55.20" stroke="#111" stroke-width="0.65"/>
<rect x="148.58" y="53.00" width="2.4" height="2.4" fill="#111"/>
<polyline fill="none" stroke="#111" stroke-width="1.0" points="77.30,57.30 83.34,59.60 89.38,59.60 95.42,61.50 101.46,60.60 107.50,56.70 113.54,57.70 119.58,53.80 125.62,56.70 131.66,55.80 137.70,55.80 143.74,55.00 149.78,54.80"/>
<line x1="77.30" y1="57.30" x2="77.30" y2="56.30" stroke="#111" stroke-width="0.65"/>
<line x1="76.20" y1="56.30" x2="78.40" y2="56.30" stroke="#111" stroke-width="0.65"/>
<line x1="77.30" y1="57.30" x2="77.30" y2="58.30" stroke="#111" stroke-width="0.65"/>
<line x1="76.20" y1="58.30" x2="78.40" y2="58.30" stroke="#111" stroke-width="0.65"/>
<circle cx="77.30" cy="57.30" r="1.20" fill="#111"/>
<line x1="83.34" y1="59.60" x2="83.34" y2="58.60" stroke="#111" stroke-width="0.65"/>
<line x1="82.24" y1="58.60" x2="84.44" y2="58.60" stroke="#111" stroke-width="0.65"/>
<line x1="83.34" y1="59.60" x2="83.34" y2="60.60" stroke="#111" stroke-width="0.65"/>
<line x1="82.24" y1="60.60" x2="84.44" y2="60.60" stroke="#111" stroke-width="0.65"/>
<circle cx="83.34" cy="59.60" r="1.20" fill="#111"/>
<line x1="89.38" y1="59.60" x2="89.38" y2="58.60" stroke="#111" stroke-width="0.65"/>
<line x1="88.28" y1="58.60" x2="90.48" y2="58.60" stroke="#111" stroke-width="0.65"/>
<line x1="89.38" y1="59.60" x2="89.38" y2="60.60" stroke="#111" stroke-width="0.65"/>
<line x1="88.28" y1="60.60" x2="90.48" y2="60.60" stroke="#111" stroke-width="0.65"/>
<circle cx="89.38" cy="59.60" r="1.20" fill="#111"/>
<line x1="95.42" y1="61.50" x2="95.42" y2="60.50" stroke="#111" stroke-width="0.65"/>
<line x1="94.32" y1="60.50" x2="96.52" y2="60.50" stroke="#111" stroke-width="0.65"/>
<line x1="95.42" y1="61.50" x2="95.42" y2="62.50" stroke="#111" stroke-width="0.65"/>
<line x1="94.32" y1="62.50" x2="96.52" y2="62.50" stroke="#111" stroke-width="0.65"/>
<circle cx="95.42" cy="61.50" r="1.20" fill="#111"/>
<line x1="101.46" y1="60.60" x2="101.46" y2="59.60" stroke="#111" stroke-width="0.65"/>
<line x1="100.36" y1="59.60" x2="102.56" y2="59.60" stroke="#111" stroke-width="0.65"/>
<line x1="101.46" y1="60.60" x2="101.46" y2="61.60" stroke="#111" stroke-width="0.65"/>
<line x1="100.36" y1="61.60" x2="102.56" y2="61.60" stroke="#111" stroke-width="0.65"/>
<circle cx="101.46" cy="60.60" r="1.20" fill="#111"/>
<line x1="107.50" y1="56.70" x2="107.50" y2="55.70" stroke="#111" stroke-width="0.65"/>
<line x1="106.40" y1="55.70" x2="108.60" y2="55.70" stroke="#111" stroke-width="0.65"/>
<line x1="107.50" y1="56.70" x2="107.50" y2="57.70" stroke="#111" stroke-width="0.65"/>
<line x1="106.40" y1="57.70" x2="108.60" y2="57.70" stroke="#111" stroke-width="0.65"/>
<circle cx="107.50" cy="56.70" r="1.20" fill="#111"/>
<line x1="113.54" y1="57.70" x2="113.54" y2="56.70" stroke="#111" stroke-width="0.65"/>
<line x1="112.44" y1="56.70" x2="114.64" y2="56.70" stroke="#111" stroke-width="0.65"/>
<line x1="113.54" y1="57.70" x2="113.54" y2="58.70" stroke="#111" stroke-width="0.65"/>
<line x1="112.44" y1="58.70" x2="114.64" y2="58.70" stroke="#111" stroke-width="0.65"/>
<circle cx="113.54" cy="57.70" r="1.20" fill="#111"/>
<line x1="119.58" y1="53.80" x2="119.58" y2="52.80" stroke="#111" stroke-width="0.65"/>
<line x1="118.48" y1="52.80" x2="120.68" y2="52.80" stroke="#111" stroke-width="0.65"/>
<line x1="119.58" y1="53.80" x2="119.58" y2="54.80" stroke="#111" stroke-width="0.65"/>
<line x1="118.48" y1="54.80" x2="120.68" y2="54.80" stroke="#111" stroke-width="0.65"/>
<circle cx="119.58" cy="53.80" r="1.20" fill="#111"/>
<line x1="125.62" y1="56.70" x2="125.62" y2="55.70" stroke="#111" stroke-width="0.65"/>
<line x1="124.52" y1="55.70" x2="126.72" y2="55.70" stroke="#111" stroke-width="0.65"/>
<line x1="125.62" y1="56.70" x2="125.62" y2="57.70" stroke="#111" stroke-width="0.65"/>
<line x1="124.52" y1="57.70" x2="126.72" y2="57.70" stroke="#111" stroke-width="0.65"/>
<circle cx="125.62" cy="56.70" r="1.20" fill="#111"/>
<line x1="131.66" y1="55.80" x2="131.66" y2="54.80" stroke="#111" stroke-width="0.65"/>
<line x1="130.56" y1="54.80" x2="132.76" y2="54.80" stroke="#111" stroke-width="0.65"/>
<line x1="131.66" y1="55.80" x2="131.66" y2="56.80" stroke="#111" stroke-width="0.65"/>
<line x1="130.56" y1="56.80" x2="132.76" y2="56.80" stroke="#111" stroke-width="0.65"/>
<circle cx="131.66" cy="55.80" r="1.20" fill="#111"/>
<line x1="137.70" y1="55.80" x2="137.70" y2="54.80" stroke="#111" stroke-width="0.65"/>
<line x1="136.60" y1="54.80" x2="138.80" y2="54.80" stroke="#111" stroke-width="0.65"/>
<line x1="137.70" y1="55.80" x2="137.70" y2="56.80" stroke="#111" stroke-width="0.65"/>
<line x1="136.60" y1="56.80" x2="138.80" y2="56.80" stroke="#111" stroke-width="0.65"/>
<circle cx="137.70" cy="55.80" r="1.20" fill="#111"/>
<line x1="143.74" y1="55.00" x2="143.74" y2="54.00" stroke="#111" stroke-width="0.65"/>
<line x1="142.64" y1="54.00" x2="144.84" y2="54.00" stroke="#111" stroke-width="0.65"/>
<line x1="143.74" y1="55.00" x2="143.74" y2="56.00" stroke="#111" stroke-width="0.65"/>
<line x1="142.64" y1="56.00" x2="144.84" y2="56.00" stroke="#111" stroke-width="0.65"/>
<circle cx="143.74" cy="55.00" r="1.20" fill="#111"/>
<line x1="149.78" y1="54.80" x2="149.78" y2="53.80" stroke="#111" stroke-width="0.65"/>
<line x1="148.68" y1="53.80" x2="150.88" y2="53.80" stroke="#111" stroke-width="0.65"/>
<line x1="149.78" y1="54.80" x2="149.78" y2="55.80" stroke="#111" stroke-width="0.65"/>
<line x1="148.68" y1="55.80" x2="150.88" y2="55.80" stroke="#111" stroke-width="0.65"/>
<circle cx="149.78" cy="54.80" r="1.20" fill="#111"/>
<polyline fill="none" stroke="#111" stroke-width="1.0" points="77.30,59.60 83.34,62.50 89.38,63.50 95.42,63.50 101.46,63.10 107.50,59.60 113.54,60.60 119.58,56.70 125.62,59.20 131.66,57.70 137.70,56.70 143.74,55.80 149.78,55.40"/>
<line x1="77.30" y1="59.60" x2="77.30" y2="58.60" stroke="#111" stroke-width="0.65"/>
<line x1="76.20" y1="58.60" x2="78.40" y2="58.60" stroke="#111" stroke-width="0.65"/>
<line x1="77.30" y1="59.60" x2="77.30" y2="60.80" stroke="#111" stroke-width="0.65"/>
<line x1="76.20" y1="60.80" x2="78.40" y2="60.80" stroke="#111" stroke-width="0.65"/>
<polygon points="77.30,58.16 78.62,60.62 75.98,60.62" fill="#111"/>
<line x1="83.34" y1="62.50" x2="83.34" y2="61.50" stroke="#111" stroke-width="0.65"/>
<line x1="82.24" y1="61.50" x2="84.44" y2="61.50" stroke="#111" stroke-width="0.65"/>
<line x1="83.34" y1="62.50" x2="83.34" y2="63.70" stroke="#111" stroke-width="0.65"/>
<line x1="82.24" y1="63.70" x2="84.44" y2="63.70" stroke="#111" stroke-width="0.65"/>
<polygon points="83.34,61.06 84.66,63.52 82.02,63.52" fill="#111"/>
<line x1="89.38" y1="63.50" x2="89.38" y2="62.50" stroke="#111" stroke-width="0.65"/>
<line x1="88.28" y1="62.50" x2="90.48" y2="62.50" stroke="#111" stroke-width="0.65"/>
<line x1="89.38" y1="63.50" x2="89.38" y2="64.70" stroke="#111" stroke-width="0.65"/>
<line x1="88.28" y1="64.70" x2="90.48" y2="64.70" stroke="#111" stroke-width="0.65"/>
<polygon points="89.38,62.06 90.70,64.52 88.06,64.52" fill="#111"/>
<line x1="95.42" y1="63.50" x2="95.42" y2="62.50" stroke="#111" stroke-width="0.65"/>
<line x1="94.32" y1="62.50" x2="96.52" y2="62.50" stroke="#111" stroke-width="0.65"/>
<line x1="95.42" y1="63.50" x2="95.42" y2="64.70" stroke="#111" stroke-width="0.65"/>
<line x1="94.32" y1="64.70" x2="96.52" y2="64.70" stroke="#111" stroke-width="0.65"/>
<polygon points="95.42,62.06 96.74,64.52 94.10,64.52" fill="#111"/>
<line x1="101.46" y1="63.10" x2="101.46" y2="62.10" stroke="#111" stroke-width="0.65"/>
<line x1="100.36" y1="62.10" x2="102.56" y2="62.10" stroke="#111" stroke-width="0.65"/>
<line x1="101.46" y1="63.10" x2="101.46" y2="64.30" stroke="#111" stroke-width="0.65"/>
<line x1="100.36" y1="64.30" x2="102.56" y2="64.30" stroke="#111" stroke-width="0.65"/>
<polygon points="101.46,61.66 102.78,64.12 100.14,64.12" fill="#111"/>
<line x1="107.50" y1="59.60" x2="107.50" y2="58.60" stroke="#111" stroke-width="0.65"/>
<line x1="106.40" y1="58.60" x2="108.60" y2="58.60" stroke="#111" stroke-width="0.65"/>
<line x1="107.50" y1="59.60" x2="107.50" y2="60.80" stroke="#111" stroke-width="0.65"/>
<line x1="106.40" y1="60.80" x2="108.60" y2="60.80" stroke="#111" stroke-width="0.65"/>
<polygon points="107.50,58.16 108.82,60.62 106.18,60.62" fill="#111"/>
<line x1="113.54" y1="60.60" x2="113.54" y2="59.60" stroke="#111" stroke-width="0.65"/>
<line x1="112.44" y1="59.60" x2="114.64" y2="59.60" stroke="#111" stroke-width="0.65"/>
<line x1="113.54" y1="60.60" x2="113.54" y2="61.80" stroke="#111" stroke-width="0.65"/>
<line x1="112.44" y1="61.80" x2="114.64" y2="61.80" stroke="#111" stroke-width="0.65"/>
<polygon points="113.54,59.16 114.86,61.62 112.22,61.62" fill="#111"/>
<line x1="119.58" y1="56.70" x2="119.58" y2="55.70" stroke="#111" stroke-width="0.65"/>
<line x1="118.48" y1="55.70" x2="120.68" y2="55.70" stroke="#111" stroke-width="0.65"/>
<line x1="119.58" y1="56.70" x2="119.58" y2="57.90" stroke="#111" stroke-width="0.65"/>
<line x1="118.48" y1="57.90" x2="120.68" y2="57.90" stroke="#111" stroke-width="0.65"/>
<polygon points="119.58,55.26 120.90,57.72 118.26,57.72" fill="#111"/>
<line x1="125.62" y1="59.20" x2="125.62" y2="58.20" stroke="#111" stroke-width="0.65"/>
<line x1="124.52" y1="58.20" x2="126.72" y2="58.20" stroke="#111" stroke-width="0.65"/>
<line x1="125.62" y1="59.20" x2="125.62" y2="60.40" stroke="#111" stroke-width="0.65"/>
<line x1="124.52" y1="60.40" x2="126.72" y2="60.40" stroke="#111" stroke-width="0.65"/>
<polygon points="125.62,57.76 126.94,60.22 124.30,60.22" fill="#111"/>
<line x1="131.66" y1="57.70" x2="131.66" y2="56.70" stroke="#111" stroke-width="0.65"/>
<line x1="130.56" y1="56.70" x2="132.76" y2="56.70" stroke="#111" stroke-width="0.65"/>
<line x1="131.66" y1="57.70" x2="131.66" y2="58.90" stroke="#111" stroke-width="0.65"/>
<line x1="130.56" y1="58.90" x2="132.76" y2="58.90" stroke="#111" stroke-width="0.65"/>
<polygon points="131.66,56.26 132.98,58.72 130.34,58.72" fill="#111"/>
<line x1="137.70" y1="56.70" x2="137.70" y2="55.70" stroke="#111" stroke-width="0.65"/>
<line x1="136.60" y1="55.70" x2="138.80" y2="55.70" stroke="#111" stroke-width="0.65"/>
<line x1="137.70" y1="56.70" x2="137.70" y2="57.90" stroke="#111" stroke-width="0.65"/>
<line x1="136.60" y1="57.90" x2="138.80" y2="57.90" stroke="#111" stroke-width="0.65"/>
<polygon points="137.70,55.26 139.02,57.72 136.38,57.72" fill="#111"/>
<line x1="143.74" y1="55.80" x2="143.74" y2="54.80" stroke="#111" stroke-width="0.65"/>
<line x1="142.64" y1="54.80" x2="144.84" y2="54.80" stroke="#111" stroke-width="0.65"/>
<line x1="143.74" y1="55.80" x2="143.74" y2="57.00" stroke="#111" stroke-width="0.65"/>
<line x1="142.64" y1="57.00" x2="144.84" y2="57.00" stroke="#111" stroke-width="0.65"/>
<polygon points="143.74,54.36 145.06,56.82 142.42,56.82" fill="#111"/>
<line x1="149.78" y1="55.40" x2="149.78" y2="54.40" stroke="#111" stroke-width="0.65"/>
<line x1="148.68" y1="54.40" x2="150.88" y2="54.40" stroke="#111" stroke-width="0.65"/>
<line x1="149.78" y1="55.40" x2="149.78" y2="56.60" stroke="#111" stroke-width="0.65"/>
<line x1="148.68" y1="56.60" x2="150.88" y2="56.60" stroke="#111" stroke-width="0.65"/>
<polygon points="149.78,53.96 151.10,56.42 148.46,56.42" fill="#111"/>
<polyline fill="none" stroke="#111" stroke-width="1.0" points="77.30,62.50 83.34,64.40 89.38,65.40 95.42,65.00 101.46,65.00 107.50,61.50 113.54,62.50 119.58,58.70 125.62,61.20 131.66,59.20 137.70,57.30 143.74,56.20 149.78,55.80"/>
<line x1="77.30" y1="62.50" x2="77.30" y2="61.70" stroke="#111" stroke-width="0.65"/>
<line x1="76.20" y1="61.70" x2="78.40" y2="61.70" stroke="#111" stroke-width="0.65"/>
<line x1="77.30" y1="62.50" x2="77.30" y2="64.90" stroke="#111" stroke-width="0.65"/>
<line x1="76.20" y1="64.90" x2="78.40" y2="64.90" stroke="#111" stroke-width="0.65"/>
<polygon points="77.30,61.06 78.56,62.50 77.30,63.94 76.04,62.50" fill="#111"/>
<line x1="83.34" y1="64.40" x2="83.34" y2="63.60" stroke="#111" stroke-width="0.65"/>
<line x1="82.24" y1="63.60" x2="84.44" y2="63.60" stroke="#111" stroke-width="0.65"/>
<line x1="83.34" y1="64.40" x2="83.34" y2="67.00" stroke="#111" stroke-width="0.65"/>
<line x1="82.24" y1="67.00" x2="84.44" y2="67.00" stroke="#111" stroke-width="0.65"/>
<polygon points="83.34,62.96 84.60,64.40 83.34,65.84 82.08,64.40" fill="#111"/>
<line x1="89.38" y1="65.40" x2="89.38" y2="64.60" stroke="#111" stroke-width="0.65"/>
<line x1="88.28" y1="64.60" x2="90.48" y2="64.60" stroke="#111" stroke-width="0.65"/>
<line x1="89.38" y1="65.40" x2="89.38" y2="68.60" stroke="#111" stroke-width="0.65"/>
<line x1="88.28" y1="68.60" x2="90.48" y2="68.60" stroke="#111" stroke-width="0.65"/>
<polygon points="89.38,63.96 90.64,65.40 89.38,66.84 88.12,65.40" fill="#111"/>
<line x1="95.42" y1="65.00" x2="95.42" y2="64.20" stroke="#111" stroke-width="0.65"/>
<line x1="94.32" y1="64.20" x2="96.52" y2="64.20" stroke="#111" stroke-width="0.65"/>
<line x1="95.42" y1="65.00" x2="95.42" y2="68.00" stroke="#111" stroke-width="0.65"/>
<line x1="94.32" y1="68.00" x2="96.52" y2="68.00" stroke="#111" stroke-width="0.65"/>
<polygon points="95.42,63.56 96.68,65.00 95.42,66.44 94.16,65.00" fill="#111"/>
<line x1="101.46" y1="65.00" x2="101.46" y2="64.20" stroke="#111" stroke-width="0.65"/>
<line x1="100.36" y1="64.20" x2="102.56" y2="64.20" stroke="#111" stroke-width="0.65"/>
<line x1="101.46" y1="65.00" x2="101.46" y2="68.20" stroke="#111" stroke-width="0.65"/>
<line x1="100.36" y1="68.20" x2="102.56" y2="68.20" stroke="#111" stroke-width="0.65"/>
<polygon points="101.46,63.56 102.72,65.00 101.46,66.44 100.20,65.00" fill="#111"/>
<line x1="107.50" y1="61.50" x2="107.50" y2="60.70" stroke="#111" stroke-width="0.65"/>
<line x1="106.40" y1="60.70" x2="108.60" y2="60.70" stroke="#111" stroke-width="0.65"/>
<line x1="107.50" y1="61.50" x2="107.50" y2="63.90" stroke="#111" stroke-width="0.65"/>
<line x1="106.40" y1="63.90" x2="108.60" y2="63.90" stroke="#111" stroke-width="0.65"/>
<polygon points="107.50,60.06 108.76,61.50 107.50,62.94 106.24,61.50" fill="#111"/>
<line x1="113.54" y1="62.50" x2="113.54" y2="61.70" stroke="#111" stroke-width="0.65"/>
<line x1="112.44" y1="61.70" x2="114.64" y2="61.70" stroke="#111" stroke-width="0.65"/>
<line x1="113.54" y1="62.50" x2="113.54" y2="64.70" stroke="#111" stroke-width="0.65"/>
<line x1="112.44" y1="64.70" x2="114.64" y2="64.70" stroke="#111" stroke-width="0.65"/>
<polygon points="113.54,61.06 114.80,62.50 113.54,63.94 112.28,62.50" fill="#111"/>
<line x1="119.58" y1="58.70" x2="119.58" y2="57.90" stroke="#111" stroke-width="0.65"/>
<line x1="118.48" y1="57.90" x2="120.68" y2="57.90" stroke="#111" stroke-width="0.65"/>
<line x1="119.58" y1="58.70" x2="119.58" y2="61.10" stroke="#111" stroke-width="0.65"/>
<line x1="118.48" y1="61.10" x2="120.68" y2="61.10" stroke="#111" stroke-width="0.65"/>
<polygon points="119.58,57.26 120.84,58.70 119.58,60.14 118.32,58.70" fill="#111"/>
<line x1="125.62" y1="61.20" x2="125.62" y2="60.40" stroke="#111" stroke-width="0.65"/>
<line x1="124.52" y1="60.40" x2="126.72" y2="60.40" stroke="#111" stroke-width="0.65"/>
<line x1="125.62" y1="61.20" x2="125.62" y2="63.40" stroke="#111" stroke-width="0.65"/>
<line x1="124.52" y1="63.40" x2="126.72" y2="63.40" stroke="#111" stroke-width="0.65"/>
<polygon points="125.62,59.76 126.88,61.20 125.62,62.64 124.36,61.20" fill="#111"/>
<line x1="131.66" y1="59.20" x2="131.66" y2="58.40" stroke="#111" stroke-width="0.65"/>
<line x1="130.56" y1="58.40" x2="132.76" y2="58.40" stroke="#111" stroke-width="0.65"/>
<line x1="131.66" y1="59.20" x2="131.66" y2="61.20" stroke="#111" stroke-width="0.65"/>
<line x1="130.56" y1="61.20" x2="132.76" y2="61.20" stroke="#111" stroke-width="0.65"/>
<polygon points="131.66,57.76 132.92,59.20 131.66,60.64 130.40,59.20" fill="#111"/>
<line x1="137.70" y1="57.30" x2="137.70" y2="56.50" stroke="#111" stroke-width="0.65"/>
<line x1="136.60" y1="56.50" x2="138.80" y2="56.50" stroke="#111" stroke-width="0.65"/>
<line x1="137.70" y1="57.30" x2="137.70" y2="59.90" stroke="#111" stroke-width="0.65"/>
<line x1="136.60" y1="59.90" x2="138.80" y2="59.90" stroke="#111" stroke-width="0.65"/>
<polygon points="137.70,55.86 138.96,57.30 137.70,58.74 136.44,57.30" fill="#111"/>
<line x1="143.74" y1="56.20" x2="143.74" y2="55.40" stroke="#111" stroke-width="0.65"/>
<line x1="142.64" y1="55.40" x2="144.84" y2="55.40" stroke="#111" stroke-width="0.65"/>
<line x1="143.74" y1="56.20" x2="143.74" y2="60.20" stroke="#111" stroke-width="0.65"/>
<line x1="142.64" y1="60.20" x2="144.84" y2="60.20" stroke="#111" stroke-width="0.65"/>
<polygon points="143.74,54.76 145.00,56.20 143.74,57.64 142.48,56.20" fill="#111"/>
<line x1="149.78" y1="55.80" x2="149.78" y2="55.00" stroke="#111" stroke-width="0.65"/>
<line x1="148.68" y1="55.00" x2="150.88" y2="55.00" stroke="#111" stroke-width="0.65"/>
<line x1="149.78" y1="55.80" x2="149.78" y2="59.40" stroke="#111" stroke-width="0.65"/>
<line x1="148.68" y1="59.40" x2="150.88" y2="59.40" stroke="#111" stroke-width="0.65"/>
<polygon points="149.78,54.36 151.04,55.80 149.78,57.24 148.52,55.80" fill="#111"/>
<text x="13.60" y="198.31" font-family="Liberation Sans,sans-serif" font-size="12.8" text-anchor="start" fill="#111" font-weight="bold" stroke="#111">B</text>
<text x="130.90" y="196.60" font-family="DejaVu Sans Condensed,DejaVu Sans,sans-serif" font-size="10.0" text-anchor="middle" fill="#111" stroke="#111" textLength="36.6" lengthAdjust="spacingAndGlyphs">1205 Lu</text>
<line x1="23.00" y1="324.40" x2="195.50" y2="324.40" stroke="#111" stroke-width="1.0"/>
<line x1="60.83" y1="324.40" x2="60.83" y2="207.60" stroke="#111" stroke-width="1.0"/>
<line x1="58.23" y1="309.85" x2="60.83" y2="309.85" stroke="#111" stroke-width="0.8"/>
<text x="57.43" y="311.99" font-family="DejaVu Sans Condensed,DejaVu Sans,sans-serif" font-size="5.1" text-anchor="end" fill="#111" stroke="#111">400</text>
<line x1="58.23" y1="295.30" x2="60.83" y2="295.30" stroke="#111" stroke-width="0.8"/>
<text x="57.43" y="297.44" font-family="DejaVu Sans Condensed,DejaVu Sans,sans-serif" font-size="5.1" text-anchor="end" fill="#111" stroke="#111">800</text>
<line x1="58.23" y1="280.75" x2="60.83" y2="280.75" stroke="#111" stroke-width="0.8"/>
<text x="57.43" y="282.89" font-family="DejaVu Sans Condensed,DejaVu Sans,sans-serif" font-size="5.1" text-anchor="end" fill="#111" stroke="#111">1,200</text>
<line x1="58.23" y1="266.20" x2="60.83" y2="266.20" stroke="#111" stroke-width="0.8"/>
<text x="57.43" y="268.34" font-family="DejaVu Sans Condensed,DejaVu Sans,sans-serif" font-size="5.1" text-anchor="end" fill="#111" stroke="#111">1,600</text>
<line x1="58.23" y1="251.65" x2="60.83" y2="251.65" stroke="#111" stroke-width="0.8"/>
<text x="57.43" y="253.79" font-family="DejaVu Sans Condensed,DejaVu Sans,sans-serif" font-size="5.1" text-anchor="end" fill="#111" stroke="#111">2,000</text>
<line x1="58.23" y1="237.10" x2="60.83" y2="237.10" stroke="#111" stroke-width="0.8"/>
<text x="57.43" y="239.24" font-family="DejaVu Sans Condensed,DejaVu Sans,sans-serif" font-size="5.1" text-anchor="end" fill="#111" stroke="#111">2,400</text>
<line x1="58.23" y1="222.55" x2="60.83" y2="222.55" stroke="#111" stroke-width="0.8"/>
<text x="57.43" y="224.69" font-family="DejaVu Sans Condensed,DejaVu Sans,sans-serif" font-size="5.1" text-anchor="end" fill="#111" stroke="#111">2,800</text>
<line x1="58.23" y1="208.00" x2="60.83" y2="208.00" stroke="#111" stroke-width="0.8"/>
<text x="57.43" y="210.14" font-family="DejaVu Sans Condensed,DejaVu Sans,sans-serif" font-size="5.1" text-anchor="end" fill="#111" stroke="#111">3,200</text>
<line x1="23.60" y1="324.40" x2="23.60" y2="327.00" stroke="#111" stroke-width="0.8"/>
<text x="23.60" y="332.54" font-family="DejaVu Sans Condensed,DejaVu Sans,sans-serif" font-size="5.4" text-anchor="middle" fill="#111" stroke="#111">0</text>
<line x1="36.01" y1="324.40" x2="36.01" y2="327.00" stroke="#111" stroke-width="0.8"/>
<text x="36.01" y="332.54" font-family="DejaVu Sans Condensed,DejaVu Sans,sans-serif" font-size="5.4" text-anchor="middle" fill="#111" stroke="#111">2</text>
<line x1="48.42" y1="324.40" x2="48.42" y2="327.00" stroke="#111" stroke-width="0.8"/>
<text x="48.42" y="332.54" font-family="DejaVu Sans Condensed,DejaVu Sans,sans-serif" font-size="5.4" text-anchor="middle" fill="#111" stroke="#111">4</text>
<line x1="60.83" y1="324.40" x2="60.83" y2="327.00" stroke="#111" stroke-width="0.8"/>
<text x="60.83" y="332.54" font-family="DejaVu Sans Condensed,DejaVu Sans,sans-serif" font-size="5.4" text-anchor="middle" fill="#111" stroke="#111">6</text>
<line x1="73.24" y1="324.40" x2="73.24" y2="327.00" stroke="#111" stroke-width="0.8"/>
<text x="73.24" y="332.54" font-family="DejaVu Sans Condensed,DejaVu Sans,sans-serif" font-size="5.4" text-anchor="middle" fill="#111" stroke="#111">8</text>
<line x1="85.65" y1="324.40" x2="85.65" y2="327.00" stroke="#111" stroke-width="0.8"/>
<text x="85.65" y="332.54" font-family="DejaVu Sans Condensed,DejaVu Sans,sans-serif" font-size="5.4" text-anchor="middle" fill="#111" stroke="#111">10</text>
<line x1="98.06" y1="324.40" x2="98.06" y2="327.00" stroke="#111" stroke-width="0.8"/>
<text x="98.06" y="332.54" font-family="DejaVu Sans Condensed,DejaVu Sans,sans-serif" font-size="5.4" text-anchor="middle" fill="#111" stroke="#111">12</text>
<line x1="110.47" y1="324.40" x2="110.47" y2="327.00" stroke="#111" stroke-width="0.8"/>
<text x="110.47" y="332.54" font-family="DejaVu Sans Condensed,DejaVu Sans,sans-serif" font-size="5.4" text-anchor="middle" fill="#111" stroke="#111">14</text>
<line x1="122.88" y1="324.40" x2="122.88" y2="327.00" stroke="#111" stroke-width="0.8"/>
<text x="122.88" y="332.54" font-family="DejaVu Sans Condensed,DejaVu Sans,sans-serif" font-size="5.4" text-anchor="middle" fill="#111" stroke="#111">16</text>
<line x1="135.29" y1="324.40" x2="135.29" y2="327.00" stroke="#111" stroke-width="0.8"/>
<text x="135.29" y="332.54" font-family="DejaVu Sans Condensed,DejaVu Sans,sans-serif" font-size="5.4" text-anchor="middle" fill="#111" stroke="#111">18</text>
<line x1="147.70" y1="324.40" x2="147.70" y2="327.00" stroke="#111" stroke-width="0.8"/>
<text x="147.70" y="332.54" font-family="DejaVu Sans Condensed,DejaVu Sans,sans-serif" font-size="5.4" text-anchor="middle" fill="#111" stroke="#111">20</text>
<line x1="160.11" y1="324.40" x2="160.11" y2="327.00" stroke="#111" stroke-width="0.8"/>
<text x="160.11" y="332.54" font-family="DejaVu Sans Condensed,DejaVu Sans,sans-serif" font-size="5.4" text-anchor="middle" fill="#111" stroke="#111">22</text>
<line x1="172.52" y1="324.40" x2="172.52" y2="327.00" stroke="#111" stroke-width="0.8"/>
<text x="172.52" y="332.54" font-family="DejaVu Sans Condensed,DejaVu Sans,sans-serif" font-size="5.4" text-anchor="middle" fill="#111" stroke="#111">24</text>
<line x1="184.93" y1="324.40" x2="184.93" y2="327.00" stroke="#111" stroke-width="0.8"/>
<text x="184.93" y="332.54" font-family="DejaVu Sans Condensed,DejaVu Sans,sans-serif" font-size="5.4" text-anchor="middle" fill="#111" stroke="#111">26</text>
<line x1="195.50" y1="324.40" x2="195.50" y2="327.00" stroke="#111" stroke-width="0.8"/>
<text x="126.50" y="341.28" font-family="Liberation Sans,sans-serif" font-size="6.9" text-anchor="middle" fill="#111" stroke="#111" textLength="15.6" lengthAdjust="spacingAndGlyphs">Days</text>
<text x="36.20" y="257.80" font-family="DejaVu Sans Condensed,DejaVu Sans,sans-serif" font-size="7.5" text-anchor="middle" fill="#111" stroke="#111" textLength="68.6" lengthAdjust="spacingAndGlyphs" transform="rotate(-90 36.20 255.10)">Tumor volume (mm<tspan dy="-2.4" font-size="5.2">3</tspan><tspan dy="2.4">)</tspan></text>
<polygon points="23.60,335.60 25.65,340.60 23.60,339.60 21.55,340.60" fill="#111"/>
<text x="25.00" y="348.58" font-family="Liberation Sans,sans-serif" font-size="6.6" text-anchor="middle" fill="#111" stroke="#111">s.c. cell</text>
<text x="25.00" y="355.88" font-family="Liberation Sans,sans-serif" font-size="6.6" text-anchor="middle" fill="#111" stroke="#111">injection</text>
<polygon points="60.83,335.60 62.88,340.60 60.83,339.60 58.78,340.60" fill="#111"/>
<text x="64.43" y="348.58" font-family="Liberation Sans,sans-serif" font-size="6.6" text-anchor="middle" fill="#111" stroke="#111">i.p. drug</text>
<text x="64.43" y="355.88" font-family="Liberation Sans,sans-serif" font-size="6.6" text-anchor="middle" fill="#111" stroke="#111">injection</text>
<polyline fill="none" stroke="#111" stroke-width="0.9" points="60.83,322.10 73.24,318.90 85.65,317.90 98.06,314.40 110.47,312.40 122.88,307.60 135.29,305.30 147.70,297.30 160.11,287.70 172.52,281.60 184.93,276.00"/>
<circle cx="60.83" cy="322.10" r="1.85" fill="#111"/>
<circle cx="73.24" cy="318.90" r="1.85" fill="#111"/>
<circle cx="85.65" cy="317.90" r="1.85" fill="#111"/>
<circle cx="98.06" cy="314.40" r="1.85" fill="#111"/>
<line x1="110.47" y1="312.40" x2="110.47" y2="311.40" stroke="#111" stroke-width="0.8"/>
<line x1="108.37" y1="311.40" x2="112.57" y2="311.40" stroke="#111" stroke-width="0.8"/>
<line x1="110.47" y1="312.40" x2="110.47" y2="313.40" stroke="#111" stroke-width="0.8"/>
<line x1="108.37" y1="313.40" x2="112.57" y2="313.40" stroke="#111" stroke-width="0.8"/>
<circle cx="110.47" cy="312.40" r="1.85" fill="#111"/>
<line x1="122.88" y1="307.60" x2="122.88" y2="306.40" stroke="#111" stroke-width="0.8"/>
<line x1="120.78" y1="306.40" x2="124.98" y2="306.40" stroke="#111" stroke-width="0.8"/>
<line x1="122.88" y1="307.60" x2="122.88" y2="308.80" stroke="#111" stroke-width="0.8"/>
<line x1="120.78" y1="308.80" x2="124.98" y2="308.80" stroke="#111" stroke-width="0.8"/>
<circle cx="122.88" cy="307.60" r="1.85" fill="#111"/>
<line x1="135.29" y1="305.30" x2="135.29" y2="303.80" stroke="#111" stroke-width="0.8"/>
<line x1="133.19" y1="303.80" x2="137.39" y2="303.80" stroke="#111" stroke-width="0.8"/>
<line x1="135.29" y1="305.30" x2="135.29" y2="306.80" stroke="#111" stroke-width="0.8"/>
<line x1="133.19" y1="306.80" x2="137.39" y2="306.80" stroke="#111" stroke-width="0.8"/>
<circle cx="135.29" cy="305.30" r="1.85" fill="#111"/>
<line x1="147.70" y1="297.30" x2="147.70" y2="295.30" stroke="#111" stroke-width="0.8"/>
<line x1="145.60" y1="295.30" x2="149.80" y2="295.30" stroke="#111" stroke-width="0.8"/>
<line x1="147.70" y1="297.30" x2="147.70" y2="299.30" stroke="#111" stroke-width="0.8"/>
<line x1="145.60" y1="299.30" x2="149.80" y2="299.30" stroke="#111" stroke-width="0.8"/>
<circle cx="147.70" cy="297.30" r="1.85" fill="#111"/>
<line x1="160.11" y1="287.70" x2="160.11" y2="285.20" stroke="#111" stroke-width="0.8"/>
<line x1="158.01" y1="285.20" x2="162.21" y2="285.20" stroke="#111" stroke-width="0.8"/>
<line x1="160.11" y1="287.70" x2="160.11" y2="290.20" stroke="#111" stroke-width="0.8"/>
<line x1="158.01" y1="290.20" x2="162.21" y2="290.20" stroke="#111" stroke-width="0.8"/>
<circle cx="160.11" cy="287.70" r="1.85" fill="#111"/>
<line x1="172.52" y1="281.60" x2="172.52" y2="278.60" stroke="#111" stroke-width="0.8"/>
<line x1="170.42" y1="278.60" x2="174.62" y2="278.60" stroke="#111" stroke-width="0.8"/>
<line x1="172.52" y1="281.60" x2="172.52" y2="284.60" stroke="#111" stroke-width="0.8"/>
<line x1="170.42" y1="284.60" x2="174.62" y2="284.60" stroke="#111" stroke-width="0.8"/>
<circle cx="172.52" cy="281.60" r="1.85" fill="#111"/>
<line x1="184.93" y1="276.00" x2="184.93" y2="272.50" stroke="#111" stroke-width="0.8"/>
<line x1="182.83" y1="272.50" x2="187.03" y2="272.50" stroke="#111" stroke-width="0.8"/>
<line x1="184.93" y1="276.00" x2="184.93" y2="279.50" stroke="#111" stroke-width="0.8"/>
<line x1="182.83" y1="279.50" x2="187.03" y2="279.50" stroke="#111" stroke-width="0.8"/>
<circle cx="184.93" cy="276.00" r="1.85" fill="#111"/>
<polyline fill="none" stroke="#111" stroke-width="0.9" points="60.83,322.10 73.24,318.90 85.65,317.50 98.06,314.00 110.47,312.00 122.88,306.60 135.29,304.70 147.70,295.00 160.11,283.70 172.52,268.70 184.93,262.30"/>
<polygon points="60.83,319.88 62.87,323.67 58.80,323.67" fill="#111"/>
<polygon points="73.24,316.68 75.28,320.47 71.21,320.47" fill="#111"/>
<polygon points="85.65,315.28 87.69,319.07 83.62,319.07" fill="#111"/>
<polygon points="98.06,311.78 100.09,315.57 96.03,315.57" fill="#111"/>
<line x1="110.47" y1="312.00" x2="110.47" y2="311.00" stroke="#111" stroke-width="0.8"/>
<line x1="108.37" y1="311.00" x2="112.57" y2="311.00" stroke="#111" stroke-width="0.8"/>
<line x1="110.47" y1="312.00" x2="110.47" y2="313.00" stroke="#111" stroke-width="0.8"/>
<line x1="108.37" y1="313.00" x2="112.57" y2="313.00" stroke="#111" stroke-width="0.8"/>
<polygon points="110.47,309.78 112.50,313.57 108.44,313.57" fill="#111"/>
<line x1="122.88" y1="306.60" x2="122.88" y2="305.10" stroke="#111" stroke-width="0.8"/>
<line x1="120.78" y1="305.10" x2="124.98" y2="305.10" stroke="#111" stroke-width="0.8"/>
<line x1="122.88" y1="306.60" x2="122.88" y2="308.10" stroke="#111" stroke-width="0.8"/>
<line x1="120.78" y1="308.10" x2="124.98" y2="308.10" stroke="#111" stroke-width="0.8"/>
<polygon points="122.88,304.38 124.91,308.17 120.84,308.17" fill="#111"/>
<line x1="135.29" y1="304.70" x2="135.29" y2="303.20" stroke="#111" stroke-width="0.8"/>
<line x1="133.19" y1="303.20" x2="137.39" y2="303.20" stroke="#111" stroke-width="0.8"/>
<line x1="135.29" y1="304.70" x2="135.29" y2="306.20" stroke="#111" stroke-width="0.8"/>
<line x1="133.19" y1="306.20" x2="137.39" y2="306.20" stroke="#111" stroke-width="0.8"/>
<polygon points="135.29,302.48 137.32,306.27 133.25,306.27" fill="#111"/>
<line x1="147.70" y1="295.00" x2="147.70" y2="292.50" stroke="#111" stroke-width="0.8"/>
<line x1="145.60" y1="292.50" x2="149.80" y2="292.50" stroke="#111" stroke-width="0.8"/>
<line x1="147.70" y1="295.00" x2="147.70" y2="297.50" stroke="#111" stroke-width="0.8"/>
<line x1="145.60" y1="297.50" x2="149.80" y2="297.50" stroke="#111" stroke-width="0.8"/>
<polygon points="147.70,292.78 149.73,296.57 145.66,296.57" fill="#111"/>
<line x1="160.11" y1="283.70" x2="160.11" y2="278.70" stroke="#111" stroke-width="0.8"/>
<line x1="158.01" y1="278.70" x2="162.21" y2="278.70" stroke="#111" stroke-width="0.8"/>
<line x1="160.11" y1="283.70" x2="160.11" y2="287.70" stroke="#111" stroke-width="0.8"/>
<line x1="158.01" y1="287.70" x2="162.21" y2="287.70" stroke="#111" stroke-width="0.8"/>
<polygon points="160.11,281.48 162.14,285.27 158.07,285.27" fill="#111"/>
<line x1="172.52" y1="268.70" x2="172.52" y2="262.20" stroke="#111" stroke-width="0.8"/>
<line x1="170.42" y1="262.20" x2="174.62" y2="262.20" stroke="#111" stroke-width="0.8"/>
<line x1="172.52" y1="268.70" x2="172.52" y2="274.20" stroke="#111" stroke-width="0.8"/>
<line x1="170.42" y1="274.20" x2="174.62" y2="274.20" stroke="#111" stroke-width="0.8"/>
<polygon points="172.52,266.48 174.56,270.27 170.49,270.27" fill="#111"/>
<line x1="184.93" y1="262.30" x2="184.93" y2="255.80" stroke="#111" stroke-width="0.8"/>
<line x1="182.83" y1="255.80" x2="187.03" y2="255.80" stroke="#111" stroke-width="0.8"/>
<line x1="184.93" y1="262.30" x2="184.93" y2="268.80" stroke="#111" stroke-width="0.8"/>
<line x1="182.83" y1="268.80" x2="187.03" y2="268.80" stroke="#111" stroke-width="0.8"/>
<polygon points="184.93,260.08 186.97,263.87 182.90,263.87" fill="#111"/>
<polyline fill="none" stroke="#111" stroke-width="0.9" points="60.83,322.10 73.24,318.90 85.65,315.20 98.06,311.60 110.47,309.50 122.88,301.40 135.29,286.10 147.70,273.50 160.11,252.90 172.52,232.40 184.93,212.60"/>
<rect x="58.98" y="320.25" width="3.7" height="3.7" fill="#111"/>
<rect x="71.39" y="317.05" width="3.7" height="3.7" fill="#111"/>
<line x1="85.65" y1="315.20" x2="85.65" y2="314.20" stroke="#111" stroke-width="0.8"/>
<line x1="83.55" y1="314.20" x2="87.75" y2="314.20" stroke="#111" stroke-width="0.8"/>
<line x1="85.65" y1="315.20" x2="85.65" y2="316.20" stroke="#111" stroke-width="0.8"/>
<line x1="83.55" y1="316.20" x2="87.75" y2="316.20" stroke="#111" stroke-width="0.8"/>
<rect x="83.80" y="313.35" width="3.7" height="3.7" fill="#111"/>
<line x1="98.06" y1="311.60" x2="98.06" y2="310.40" stroke="#111" stroke-width="0.8"/>
<line x1="95.96" y1="310.40" x2="100.16" y2="310.40" stroke="#111" stroke-width="0.8"/>
<line x1="98.06" y1="311.60" x2="98.06" y2="312.80" stroke="#111" stroke-width="0.8"/>
<line x1="95.96" y1="312.80" x2="100.16" y2="312.80" stroke="#111" stroke-width="0.8"/>
<rect x="96.21" y="309.75" width="3.7" height="3.7" fill="#111"/>
<line x1="110.47" y1="309.50" x2="110.47" y2="308.00" stroke="#111" stroke-width="0.8"/>
<line x1="108.37" y1="308.00" x2="112.57" y2="308.00" stroke="#111" stroke-width="0.8"/>
<line x1="110.47" y1="309.50" x2="110.47" y2="311.00" stroke="#111" stroke-width="0.8"/>
<line x1="108.37" y1="311.00" x2="112.57" y2="311.00" stroke="#111" stroke-width="0.8"/>
<rect x="108.62" y="307.65" width="3.7" height="3.7" fill="#111"/>
<line x1="122.88" y1="301.40" x2="122.88" y2="299.40" stroke="#111" stroke-width="0.8"/>
<line x1="120.78" y1="299.40" x2="124.98" y2="299.40" stroke="#111" stroke-width="0.8"/>
<line x1="122.88" y1="301.40" x2="122.88" y2="303.40" stroke="#111" stroke-width="0.8"/>
<line x1="120.78" y1="303.40" x2="124.98" y2="303.40" stroke="#111" stroke-width="0.8"/>
<rect x="121.03" y="299.55" width="3.7" height="3.7" fill="#111"/>
<line x1="135.29" y1="286.10" x2="135.29" y2="283.60" stroke="#111" stroke-width="0.8"/>
<line x1="133.19" y1="283.60" x2="137.39" y2="283.60" stroke="#111" stroke-width="0.8"/>
<line x1="135.29" y1="286.10" x2="135.29" y2="288.60" stroke="#111" stroke-width="0.8"/>
<line x1="133.19" y1="288.60" x2="137.39" y2="288.60" stroke="#111" stroke-width="0.8"/>
<rect x="133.44" y="284.25" width="3.7" height="3.7" fill="#111"/>
<line x1="147.70" y1="273.50" x2="147.70" y2="268.00" stroke="#111" stroke-width="0.8"/>
<line x1="145.60" y1="268.00" x2="149.80" y2="268.00" stroke="#111" stroke-width="0.8"/>
<line x1="147.70" y1="273.50" x2="147.70" y2="279.00" stroke="#111" stroke-width="0.8"/>
<line x1="145.60" y1="279.00" x2="149.80" y2="279.00" stroke="#111" stroke-width="0.8"/>
<rect x="145.85" y="271.65" width="3.7" height="3.7" fill="#111"/>
<line x1="160.11" y1="252.90" x2="160.11" y2="247.40" stroke="#111" stroke-width="0.8"/>
<line x1="158.01" y1="247.40" x2="162.21" y2="247.40" stroke="#111" stroke-width="0.8"/>
<line x1="160.11" y1="252.90" x2="160.11" y2="258.40" stroke="#111" stroke-width="0.8"/>
<line x1="158.01" y1="258.40" x2="162.21" y2="258.40" stroke="#111" stroke-width="0.8"/>
<rect x="158.26" y="251.05" width="3.7" height="3.7" fill="#111"/>
<line x1="172.52" y1="232.40" x2="172.52" y2="224.40" stroke="#111" stroke-width="0.8"/>
<line x1="170.42" y1="224.40" x2="174.62" y2="224.40" stroke="#111" stroke-width="0.8"/>
<line x1="172.52" y1="232.40" x2="172.52" y2="239.40" stroke="#111" stroke-width="0.8"/>
<line x1="170.42" y1="239.40" x2="174.62" y2="239.40" stroke="#111" stroke-width="0.8"/>
<rect x="170.67" y="230.55" width="3.7" height="3.7" fill="#111"/>
<line x1="184.93" y1="212.60" x2="184.93" y2="204.10" stroke="#111" stroke-width="0.8"/>
<line x1="182.83" y1="204.10" x2="187.03" y2="204.10" stroke="#111" stroke-width="0.8"/>
<line x1="184.93" y1="212.60" x2="184.93" y2="221.10" stroke="#111" stroke-width="0.8"/>
<line x1="182.83" y1="221.10" x2="187.03" y2="221.10" stroke="#111" stroke-width="0.8"/>
<rect x="183.08" y="210.75" width="3.7" height="3.7" fill="#111"/>
<text x="122.88" y="317.30" font-family="DejaVu Sans,sans-serif" font-size="5.8" text-anchor="middle" fill="#111" font-weight="bold" stroke="#111" textLength="6.2" lengthAdjust="spacingAndGlyphs">**</text>
<text x="135.29" y="312.70" font-family="DejaVu Sans,sans-serif" font-size="5.8" text-anchor="middle" fill="#111" font-weight="bold" stroke="#111" textLength="9.3" lengthAdjust="spacingAndGlyphs">***</text>
<text x="147.70" y="304.80" font-family="DejaVu Sans,sans-serif" font-size="5.8" text-anchor="middle" fill="#111" font-weight="bold" stroke="#111" textLength="9.3" lengthAdjust="spacingAndGlyphs">***</text>
<text x="160.11" y="296.60" font-family="DejaVu Sans,sans-serif" font-size="5.8" text-anchor="middle" fill="#111" font-weight="bold" stroke="#111" textLength="9.3" lengthAdjust="spacingAndGlyphs">***</text>
<text x="172.52" y="290.60" font-family="DejaVu Sans,sans-serif" font-size="5.8" text-anchor="middle" fill="#111" font-weight="bold" stroke="#111" textLength="9.3" lengthAdjust="spacingAndGlyphs">***</text>
<text x="184.93" y="286.00" font-family="DejaVu Sans,sans-serif" font-size="5.8" text-anchor="middle" fill="#111" font-weight="bold" stroke="#111" textLength="9.3" lengthAdjust="spacingAndGlyphs">***</text>
<text x="188.20" y="215.31" font-family="DejaVu Sans Condensed,DejaVu Sans,sans-serif" font-size="5.3" text-anchor="start" fill="#111" stroke="#111" textLength="18.2" lengthAdjust="spacingAndGlyphs">DMSO (</text>
<text x="208.80" y="214.72" font-family="DejaVu Sans,sans-serif" font-size="5.0" text-anchor="middle" fill="#111" stroke="#111">■</text>
<text x="211.00" y="215.31" font-family="DejaVu Sans Condensed,DejaVu Sans,sans-serif" font-size="5.3" text-anchor="start" fill="#111" stroke="#111">)</text>
<text x="187.40" y="264.51" font-family="DejaVu Sans Condensed,DejaVu Sans,sans-serif" font-size="5.3" text-anchor="start" fill="#111" stroke="#111" textLength="29.7" lengthAdjust="spacingAndGlyphs">7.5 mg/kg (</text>
<text x="219.50" y="263.86" font-family="DejaVu Sans,sans-serif" font-size="4.74" text-anchor="middle" fill="#111" stroke="#111">▲</text>
<text x="221.70" y="264.51" font-family="DejaVu Sans Condensed,DejaVu Sans,sans-serif" font-size="5.3" text-anchor="start" fill="#111" stroke="#111">)</text>
<text x="188.50" y="277.81" font-family="DejaVu Sans Condensed,DejaVu Sans,sans-serif" font-size="5.3" text-anchor="start" fill="#111" stroke="#111" textLength="24.4" lengthAdjust="spacingAndGlyphs">5 mg/kg (</text>
<text x="215.30" y="277.22" font-family="DejaVu Sans,sans-serif" font-size="5.0" text-anchor="middle" fill="#111" stroke="#111">●</text>
<text x="217.50" y="277.81" font-family="DejaVu Sans Condensed,DejaVu Sans,sans-serif" font-size="5.3" text-anchor="start" fill="#111" stroke="#111">)</text>
<text x="235.40" y="193.62" font-family="DejaVu Sans Condensed,DejaVu Sans,sans-serif" font-size="5.6" text-anchor="middle" fill="#111" stroke="#111" textLength="41" lengthAdjust="spacingAndGlyphs">Tumor reduction</text>
<text x="239.00" y="200.62" font-family="DejaVu Sans Condensed,DejaVu Sans,sans-serif" font-size="5.6" text-anchor="middle" fill="#111" stroke="#111" textLength="38" lengthAdjust="spacingAndGlyphs">compared with</text>
<text x="235.00" y="207.42" font-family="DejaVu Sans Condensed,DejaVu Sans,sans-serif" font-size="5.6" text-anchor="middle" fill="#111" stroke="#111" textLength="48.5" lengthAdjust="spacingAndGlyphs">DMSO vs. 5 mg/kg</text>
<polyline fill="none" stroke="#111" stroke-width="0.8" points="222.00,213.60 225.40,213.60 225.40,280.20 222.00,280.20"/>
<line x1="234.60" y1="212.30" x2="234.60" y2="246.40" stroke="#333" stroke-width="0.7"/>
<polygon points="232.70,245.80 236.50,245.80 234.60,253.40" fill="#fff" stroke="#333" stroke-width="0.6"/>
<text x="229.80" y="259.11" font-family="DejaVu Sans Condensed,DejaVu Sans,sans-serif" font-size="5.3" text-anchor="start" fill="#111" stroke="#111" textLength="14.8" lengthAdjust="spacingAndGlyphs">57.0 %</text>
<line x1="74.40" y1="212.60" x2="74.40" y2="259.80" stroke="#111" stroke-width="0.8"/>
<line x1="74.00" y1="259.80" x2="151.00" y2="259.80" stroke="#111" stroke-width="0.8"/>
<line x1="72.80" y1="212.90" x2="74.40" y2="212.90" stroke="#111" stroke-width="0.6"/>
<text x="72.10" y="214.09" font-family="DejaVu Sans Condensed,DejaVu Sans,sans-serif" font-size="3.3" text-anchor="end" fill="#111" stroke="#111">30</text>
<line x1="72.80" y1="228.53" x2="74.40" y2="228.53" stroke="#111" stroke-width="0.6"/>
<text x="72.10" y="229.72" font-family="DejaVu Sans Condensed,DejaVu Sans,sans-serif" font-size="3.3" text-anchor="end" fill="#111" stroke="#111">25</text>
<line x1="72.80" y1="244.17" x2="74.40" y2="244.17" stroke="#111" stroke-width="0.6"/>
<text x="72.10" y="245.35" font-family="DejaVu Sans Condensed,DejaVu Sans,sans-serif" font-size="3.3" text-anchor="end" fill="#111" stroke="#111">20</text>
<line x1="72.80" y1="259.80" x2="74.40" y2="259.80" stroke="#111" stroke-width="0.6"/>
<text x="72.10" y="260.99" font-family="DejaVu Sans Condensed,DejaVu Sans,sans-serif" font-size="3.3" text-anchor="end" fill="#111" stroke="#111">15</text>
<line x1="79.20" y1="259.80" x2="79.20" y2="261.40" stroke="#111" stroke-width="0.6"/>
<text x="79.20" y="264.54" font-family="DejaVu Sans Condensed,DejaVu Sans,sans-serif" font-size="2.9" text-anchor="middle" fill="#111" stroke="#111">6</text>
<line x1="85.93" y1="259.80" x2="85.93" y2="261.40" stroke="#111" stroke-width="0.6"/>
<text x="85.93" y="264.54" font-family="DejaVu Sans Condensed,DejaVu Sans,sans-serif" font-size="2.9" text-anchor="middle" fill="#111" stroke="#111">8</text>
<line x1="92.66" y1="259.80" x2="92.66" y2="261.40" stroke="#111" stroke-width="0.6"/>
<text x="92.66" y="264.54" font-family="DejaVu Sans Condensed,DejaVu Sans,sans-serif" font-size="2.9" text-anchor="middle" fill="#111" stroke="#111">10</text>
<line x1="99.39" y1="259.80" x2="99.39" y2="261.40" stroke="#111" stroke-width="0.6"/>
<text x="99.39" y="264.54" font-family="DejaVu Sans Condensed,DejaVu Sans,sans-serif" font-size="2.9" text-anchor="middle" fill="#111" stroke="#111">12</text>
<line x1="106.12" y1="259.80" x2="106.12" y2="261.40" stroke="#111" stroke-width="0.6"/>
<text x="106.12" y="264.54" font-family="DejaVu Sans Condensed,DejaVu Sans,sans-serif" font-size="2.9" text-anchor="middle" fill="#111" stroke="#111">14</text>
<line x1="112.85" y1="259.80" x2="112.85" y2="261.40" stroke="#111" stroke-width="0.6"/>
<text x="112.85" y="264.54" font-family="DejaVu Sans Condensed,DejaVu Sans,sans-serif" font-size="2.9" text-anchor="middle" fill="#111" stroke="#111">16</text>
<line x1="119.58" y1="259.80" x2="119.58" y2="261.40" stroke="#111" stroke-width="0.6"/>
<text x="119.58" y="264.54" font-family="DejaVu Sans Condensed,DejaVu Sans,sans-serif" font-size="2.9" text-anchor="middle" fill="#111" stroke="#111">18</text>
<line x1="126.31" y1="259.80" x2="126.31" y2="261.40" stroke="#111" stroke-width="0.6"/>
<text x="126.31" y="264.54" font-family="DejaVu Sans Condensed,DejaVu Sans,sans-serif" font-size="2.9" text-anchor="middle" fill="#111" stroke="#111">20</text>
<line x1="133.04" y1="259.80" x2="133.04" y2="261.40" stroke="#111" stroke-width="0.6"/>
<text x="133.04" y="264.54" font-family="DejaVu Sans Condensed,DejaVu Sans,sans-serif" font-size="2.9" text-anchor="middle" fill="#111" stroke="#111">22</text>
<line x1="139.77" y1="259.80" x2="139.77" y2="261.40" stroke="#111" stroke-width="0.6"/>
<text x="139.77" y="264.54" font-family="DejaVu Sans Condensed,DejaVu Sans,sans-serif" font-size="2.9" text-anchor="middle" fill="#111" stroke="#111">24</text>
<line x1="146.50" y1="259.80" x2="146.50" y2="261.40" stroke="#111" stroke-width="0.6"/>
<text x="146.50" y="264.54" font-family="DejaVu Sans Condensed,DejaVu Sans,sans-serif" font-size="2.9" text-anchor="middle" fill="#111" stroke="#111">26</text>
<line x1="151.00" y1="259.80" x2="151.00" y2="261.40" stroke="#111" stroke-width="0.6"/>
<text x="112.00" y="217.80" font-family="DejaVu Sans Condensed,DejaVu Sans,sans-serif" font-size="5.0" text-anchor="middle" fill="#111" stroke="#111">Body weight</text>
<text x="111.50" y="269.40" font-family="DejaVu Sans Condensed,DejaVu Sans,sans-serif" font-size="3.9" text-anchor="middle" fill="#111" stroke="#111">Days</text>
<text x="65.00" y="239.21" font-family="DejaVu Sans Condensed,DejaVu Sans,sans-serif" font-size="5.3" text-anchor="middle" fill="#111" stroke="#111" textLength="34" lengthAdjust="spacingAndGlyphs" transform="rotate(-90 65.00 237.30)">Body weight (g)</text>
<polyline fill="none" stroke="#111" stroke-width="1.0" points="79.20,243.50 85.93,246.30 92.66,244.40 99.39,241.50 106.12,238.00 112.85,237.70 119.58,233.50 126.31,232.50 133.04,233.00 139.77,230.80 146.50,232.00"/>
<line x1="79.20" y1="243.50" x2="79.20" y2="242.00" stroke="#111" stroke-width="0.65"/>
<line x1="78.10" y1="242.00" x2="80.30" y2="242.00" stroke="#111" stroke-width="0.65"/>
<line x1="79.20" y1="243.50" x2="79.20" y2="244.50" stroke="#111" stroke-width="0.65"/>
<line x1="78.10" y1="244.50" x2="80.30" y2="244.50" stroke="#111" stroke-width="0.65"/>
<rect x="78.00" y="242.30" width="2.4" height="2.4" fill="#111"/>
<line x1="85.93" y1="246.30" x2="85.93" y2="244.80" stroke="#111" stroke-width="0.65"/>
<line x1="84.83" y1="244.80" x2="87.03" y2="244.80" stroke="#111" stroke-width="0.65"/>
<line x1="85.93" y1="246.30" x2="85.93" y2="247.30" stroke="#111" stroke-width="0.65"/>
<line x1="84.83" y1="247.30" x2="87.03" y2="247.30" stroke="#111" stroke-width="0.65"/>
<rect x="84.73" y="245.10" width="2.4" height="2.4" fill="#111"/>
<line x1="92.66" y1="244.40" x2="92.66" y2="242.60" stroke="#111" stroke-width="0.65"/>
<line x1="91.56" y1="242.60" x2="93.76" y2="242.60" stroke="#111" stroke-width="0.65"/>
<line x1="92.66" y1="244.40" x2="92.66" y2="245.40" stroke="#111" stroke-width="0.65"/>
<line x1="91.56" y1="245.40" x2="93.76" y2="245.40" stroke="#111" stroke-width="0.65"/>
<rect x="91.46" y="243.20" width="2.4" height="2.4" fill="#111"/>
<line x1="99.39" y1="241.50" x2="99.39" y2="239.50" stroke="#111" stroke-width="0.65"/>
<line x1="98.29" y1="239.50" x2="100.49" y2="239.50" stroke="#111" stroke-width="0.65"/>
<line x1="99.39" y1="241.50" x2="99.39" y2="243.00" stroke="#111" stroke-width="0.65"/>
<line x1="98.29" y1="243.00" x2="100.49" y2="243.00" stroke="#111" stroke-width="0.65"/>
<rect x="98.19" y="240.30" width="2.4" height="2.4" fill="#111"/>
<line x1="106.12" y1="238.00" x2="106.12" y2="236.00" stroke="#111" stroke-width="0.65"/>
<line x1="105.02" y1="236.00" x2="107.22" y2="236.00" stroke="#111" stroke-width="0.65"/>
<line x1="106.12" y1="238.00" x2="106.12" y2="240.00" stroke="#111" stroke-width="0.65"/>
<line x1="105.02" y1="240.00" x2="107.22" y2="240.00" stroke="#111" stroke-width="0.65"/>
<rect x="104.92" y="236.80" width="2.4" height="2.4" fill="#111"/>
<line x1="112.85" y1="237.70" x2="112.85" y2="235.50" stroke="#111" stroke-width="0.65"/>
<line x1="111.75" y1="235.50" x2="113.95" y2="235.50" stroke="#111" stroke-width="0.65"/>
<line x1="112.85" y1="237.70" x2="112.85" y2="239.70" stroke="#111" stroke-width="0.65"/>
<line x1="111.75" y1="239.70" x2="113.95" y2="239.70" stroke="#111" stroke-width="0.65"/>
<rect x="111.65" y="236.50" width="2.4" height="2.4" fill="#111"/>
<line x1="119.58" y1="233.50" x2="119.58" y2="230.50" stroke="#111" stroke-width="0.65"/>
<line x1="118.48" y1="230.50" x2="120.68" y2="230.50" stroke="#111" stroke-width="0.65"/>
<line x1="119.58" y1="233.50" x2="119.58" y2="236.50" stroke="#111" stroke-width="0.65"/>
<line x1="118.48" y1="236.50" x2="120.68" y2="236.50" stroke="#111" stroke-width="0.65"/>
<rect x="118.38" y="232.30" width="2.4" height="2.4" fill="#111"/>
<line x1="126.31" y1="232.50" x2="126.31" y2="229.10" stroke="#111" stroke-width="0.65"/>
<line x1="125.21" y1="229.10" x2="127.41" y2="229.10" stroke="#111" stroke-width="0.65"/>
<line x1="126.31" y1="232.50" x2="126.31" y2="235.70" stroke="#111" stroke-width="0.65"/>
<line x1="125.21" y1="235.70" x2="127.41" y2="235.70" stroke="#111" stroke-width="0.65"/>
<rect x="125.11" y="231.30" width="2.4" height="2.4" fill="#111"/>
<line x1="133.04" y1="233.00" x2="133.04" y2="229.60" stroke="#111" stroke-width="0.65"/>
<line x1="131.94" y1="229.60" x2="134.14" y2="229.60" stroke="#111" stroke-width="0.65"/>
<line x1="133.04" y1="233.00" x2="133.04" y2="236.20" stroke="#111" stroke-width="0.65"/>
<line x1="131.94" y1="236.20" x2="134.14" y2="236.20" stroke="#111" stroke-width="0.65"/>
<rect x="131.84" y="231.80" width="2.4" height="2.4" fill="#111"/>
<line x1="139.77" y1="230.80" x2="139.77" y2="227.20" stroke="#111" stroke-width="0.65"/>
<line x1="138.67" y1="227.20" x2="140.87" y2="227.20" stroke="#111" stroke-width="0.65"/>
<line x1="139.77" y1="230.80" x2="139.77" y2="234.20" stroke="#111" stroke-width="0.65"/>
<line x1="138.67" y1="234.20" x2="140.87" y2="234.20" stroke="#111" stroke-width="0.65"/>
<rect x="138.57" y="229.60" width="2.4" height="2.4" fill="#111"/>
<line x1="146.50" y1="232.00" x2="146.50" y2="228.40" stroke="#111" stroke-width="0.65"/>
<line x1="145.40" y1="228.40" x2="147.60" y2="228.40" stroke="#111" stroke-width="0.65"/>
<line x1="146.50" y1="232.00" x2="146.50" y2="235.40" stroke="#111" stroke-width="0.65"/>
<line x1="145.40" y1="235.40" x2="147.60" y2="235.40" stroke="#111" stroke-width="0.65"/>
<rect x="145.30" y="230.80" width="2.4" height="2.4" fill="#111"/>
<polyline fill="none" stroke="#111" stroke-width="1.0" points="79.20,245.00 85.93,246.70 92.66,246.00 99.39,245.00 106.12,240.90 112.85,240.50 119.58,239.40 126.31,239.80 133.04,240.20 139.77,238.60 146.50,238.00"/>
<line x1="79.20" y1="245.00" x2="79.20" y2="244.20" stroke="#111" stroke-width="0.65"/>
<line x1="78.10" y1="244.20" x2="80.30" y2="244.20" stroke="#111" stroke-width="0.65"/>
<line x1="79.20" y1="245.00" x2="79.20" y2="245.80" stroke="#111" stroke-width="0.65"/>
<line x1="78.10" y1="245.80" x2="80.30" y2="245.80" stroke="#111" stroke-width="0.65"/>
<circle cx="79.20" cy="245.00" r="1.20" fill="#111"/>
<line x1="85.93" y1="246.70" x2="85.93" y2="245.90" stroke="#111" stroke-width="0.65"/>
<line x1="84.83" y1="245.90" x2="87.03" y2="245.90" stroke="#111" stroke-width="0.65"/>
<line x1="85.93" y1="246.70" x2="85.93" y2="247.50" stroke="#111" stroke-width="0.65"/>
<line x1="84.83" y1="247.50" x2="87.03" y2="247.50" stroke="#111" stroke-width="0.65"/>
<circle cx="85.93" cy="246.70" r="1.20" fill="#111"/>
<line x1="92.66" y1="246.00" x2="92.66" y2="245.20" stroke="#111" stroke-width="0.65"/>
<line x1="91.56" y1="245.20" x2="93.76" y2="245.20" stroke="#111" stroke-width="0.65"/>
<line x1="92.66" y1="246.00" x2="92.66" y2="246.80" stroke="#111" stroke-width="0.65"/>
<line x1="91.56" y1="246.80" x2="93.76" y2="246.80" stroke="#111" stroke-width="0.65"/>
<circle cx="92.66" cy="246.00" r="1.20" fill="#111"/>
<line x1="99.39" y1="245.00" x2="99.39" y2="244.20" stroke="#111" stroke-width="0.65"/>
<line x1="98.29" y1="244.20" x2="100.49" y2="244.20" stroke="#111" stroke-width="0.65"/>
<line x1="99.39" y1="245.00" x2="99.39" y2="245.80" stroke="#111" stroke-width="0.65"/>
<line x1="98.29" y1="245.80" x2="100.49" y2="245.80" stroke="#111" stroke-width="0.65"/>
<circle cx="99.39" cy="245.00" r="1.20" fill="#111"/>
<line x1="106.12" y1="240.90" x2="106.12" y2="240.10" stroke="#111" stroke-width="0.65"/>
<line x1="105.02" y1="240.10" x2="107.22" y2="240.10" stroke="#111" stroke-width="0.65"/>
<line x1="106.12" y1="240.90" x2="106.12" y2="241.70" stroke="#111" stroke-width="0.65"/>
<line x1="105.02" y1="241.70" x2="107.22" y2="241.70" stroke="#111" stroke-width="0.65"/>
<circle cx="106.12" cy="240.90" r="1.20" fill="#111"/>
<line x1="112.85" y1="240.50" x2="112.85" y2="239.70" stroke="#111" stroke-width="0.65"/>
<line x1="111.75" y1="239.70" x2="113.95" y2="239.70" stroke="#111" stroke-width="0.65"/>
<line x1="112.85" y1="240.50" x2="112.85" y2="241.30" stroke="#111" stroke-width="0.65"/>
<line x1="111.75" y1="241.30" x2="113.95" y2="241.30" stroke="#111" stroke-width="0.65"/>
<circle cx="112.85" cy="240.50" r="1.20" fill="#111"/>
<line x1="119.58" y1="239.40" x2="119.58" y2="238.60" stroke="#111" stroke-width="0.65"/>
<line x1="118.48" y1="238.60" x2="120.68" y2="238.60" stroke="#111" stroke-width="0.65"/>
<line x1="119.58" y1="239.40" x2="119.58" y2="240.20" stroke="#111" stroke-width="0.65"/>
<line x1="118.48" y1="240.20" x2="120.68" y2="240.20" stroke="#111" stroke-width="0.65"/>
<circle cx="119.58" cy="239.40" r="1.20" fill="#111"/>
<line x1="126.31" y1="239.80" x2="126.31" y2="239.00" stroke="#111" stroke-width="0.65"/>
<line x1="125.21" y1="239.00" x2="127.41" y2="239.00" stroke="#111" stroke-width="0.65"/>
<line x1="126.31" y1="239.80" x2="126.31" y2="240.60" stroke="#111" stroke-width="0.65"/>
<line x1="125.21" y1="240.60" x2="127.41" y2="240.60" stroke="#111" stroke-width="0.65"/>
<circle cx="126.31" cy="239.80" r="1.20" fill="#111"/>
<line x1="133.04" y1="240.20" x2="133.04" y2="239.40" stroke="#111" stroke-width="0.65"/>
<line x1="131.94" y1="239.40" x2="134.14" y2="239.40" stroke="#111" stroke-width="0.65"/>
<line x1="133.04" y1="240.20" x2="133.04" y2="241.00" stroke="#111" stroke-width="0.65"/>
<line x1="131.94" y1="241.00" x2="134.14" y2="241.00" stroke="#111" stroke-width="0.65"/>
<circle cx="133.04" cy="240.20" r="1.20" fill="#111"/>
<line x1="139.77" y1="238.60" x2="139.77" y2="237.80" stroke="#111" stroke-width="0.65"/>
<line x1="138.67" y1="237.80" x2="140.87" y2="237.80" stroke="#111" stroke-width="0.65"/>
<line x1="139.77" y1="238.60" x2="139.77" y2="239.40" stroke="#111" stroke-width="0.65"/>
<line x1="138.67" y1="239.40" x2="140.87" y2="239.40" stroke="#111" stroke-width="0.65"/>
<circle cx="139.77" cy="238.60" r="1.20" fill="#111"/>
<line x1="146.50" y1="238.00" x2="146.50" y2="237.20" stroke="#111" stroke-width="0.65"/>
<line x1="145.40" y1="237.20" x2="147.60" y2="237.20" stroke="#111" stroke-width="0.65"/>
<line x1="146.50" y1="238.00" x2="146.50" y2="238.80" stroke="#111" stroke-width="0.65"/>
<line x1="145.40" y1="238.80" x2="147.60" y2="238.80" stroke="#111" stroke-width="0.65"/>
<circle cx="146.50" cy="238.00" r="1.20" fill="#111"/>
<polyline fill="none" stroke="#111" stroke-width="1.0" points="79.20,245.40 85.93,246.90 92.66,246.30 99.39,245.80 106.12,241.50 112.85,241.20 119.58,240.20 126.31,240.60 133.04,241.00 139.77,239.40 146.50,238.90"/>
<line x1="79.20" y1="245.40" x2="79.20" y2="244.40" stroke="#111" stroke-width="0.65"/>
<line x1="78.10" y1="244.40" x2="80.30" y2="244.40" stroke="#111" stroke-width="0.65"/>
<line x1="79.20" y1="245.40" x2="79.20" y2="247.20" stroke="#111" stroke-width="0.65"/>
<line x1="78.10" y1="247.20" x2="80.30" y2="247.20" stroke="#111" stroke-width="0.65"/>
<polygon points="79.20,243.96 80.52,246.42 77.88,246.42" fill="#111"/>
<line x1="85.93" y1="246.90" x2="85.93" y2="245.90" stroke="#111" stroke-width="0.65"/>
<line x1="84.83" y1="245.90" x2="87.03" y2="245.90" stroke="#111" stroke-width="0.65"/>
<line x1="85.93" y1="246.90" x2="85.93" y2="248.50" stroke="#111" stroke-width="0.65"/>
<line x1="84.83" y1="248.50" x2="87.03" y2="248.50" stroke="#111" stroke-width="0.65"/>
<polygon points="85.93,245.46 87.25,247.92 84.61,247.92" fill="#111"/>
<line x1="92.66" y1="246.30" x2="92.66" y2="245.30" stroke="#111" stroke-width="0.65"/>
<line x1="91.56" y1="245.30" x2="93.76" y2="245.30" stroke="#111" stroke-width="0.65"/>
<line x1="92.66" y1="246.30" x2="92.66" y2="248.30" stroke="#111" stroke-width="0.65"/>
<line x1="91.56" y1="248.30" x2="93.76" y2="248.30" stroke="#111" stroke-width="0.65"/>
<polygon points="92.66,244.86 93.98,247.32 91.34,247.32" fill="#111"/>
<line x1="99.39" y1="245.80" x2="99.39" y2="244.30" stroke="#111" stroke-width="0.65"/>
<line x1="98.29" y1="244.30" x2="100.49" y2="244.30" stroke="#111" stroke-width="0.65"/>
<line x1="99.39" y1="245.80" x2="99.39" y2="248.00" stroke="#111" stroke-width="0.65"/>
<line x1="98.29" y1="248.00" x2="100.49" y2="248.00" stroke="#111" stroke-width="0.65"/>
<polygon points="99.39,244.36 100.71,246.82 98.07,246.82" fill="#111"/>
<line x1="106.12" y1="241.50" x2="106.12" y2="239.50" stroke="#111" stroke-width="0.65"/>
<line x1="105.02" y1="239.50" x2="107.22" y2="239.50" stroke="#111" stroke-width="0.65"/>
<line x1="106.12" y1="241.50" x2="106.12" y2="243.70" stroke="#111" stroke-width="0.65"/>
<line x1="105.02" y1="243.70" x2="107.22" y2="243.70" stroke="#111" stroke-width="0.65"/>
<polygon points="106.12,240.06 107.44,242.52 104.80,242.52" fill="#111"/>
<line x1="112.85" y1="241.20" x2="112.85" y2="239.20" stroke="#111" stroke-width="0.65"/>
<line x1="111.75" y1="239.20" x2="113.95" y2="239.20" stroke="#111" stroke-width="0.65"/>
<line x1="112.85" y1="241.20" x2="112.85" y2="243.60" stroke="#111" stroke-width="0.65"/>
<line x1="111.75" y1="243.60" x2="113.95" y2="243.60" stroke="#111" stroke-width="0.65"/>
<polygon points="112.85,239.76 114.17,242.22 111.53,242.22" fill="#111"/>
<line x1="119.58" y1="240.20" x2="119.58" y2="237.40" stroke="#111" stroke-width="0.65"/>
<line x1="118.48" y1="237.40" x2="120.68" y2="237.40" stroke="#111" stroke-width="0.65"/>
<line x1="119.58" y1="240.20" x2="119.58" y2="242.80" stroke="#111" stroke-width="0.65"/>
<line x1="118.48" y1="242.80" x2="120.68" y2="242.80" stroke="#111" stroke-width="0.65"/>
<polygon points="119.58,238.76 120.90,241.22 118.26,241.22" fill="#111"/>
<line x1="126.31" y1="240.60" x2="126.31" y2="237.60" stroke="#111" stroke-width="0.65"/>
<line x1="125.21" y1="237.60" x2="127.41" y2="237.60" stroke="#111" stroke-width="0.65"/>
<line x1="126.31" y1="240.60" x2="126.31" y2="243.40" stroke="#111" stroke-width="0.65"/>
<line x1="125.21" y1="243.40" x2="127.41" y2="243.40" stroke="#111" stroke-width="0.65"/>
<polygon points="126.31,239.16 127.63,241.62 124.99,241.62" fill="#111"/>
<line x1="133.04" y1="241.00" x2="133.04" y2="238.00" stroke="#111" stroke-width="0.65"/>
<line x1="131.94" y1="238.00" x2="134.14" y2="238.00" stroke="#111" stroke-width="0.65"/>
<line x1="133.04" y1="241.00" x2="133.04" y2="244.00" stroke="#111" stroke-width="0.65"/>
<line x1="131.94" y1="244.00" x2="134.14" y2="244.00" stroke="#111" stroke-width="0.65"/>
<polygon points="133.04,239.56 134.36,242.02 131.72,242.02" fill="#111"/>
<line x1="139.77" y1="239.40" x2="139.77" y2="236.20" stroke="#111" stroke-width="0.65"/>
<line x1="138.67" y1="236.20" x2="140.87" y2="236.20" stroke="#111" stroke-width="0.65"/>
<line x1="139.77" y1="239.40" x2="139.77" y2="242.40" stroke="#111" stroke-width="0.65"/>
<line x1="138.67" y1="242.40" x2="140.87" y2="242.40" stroke="#111" stroke-width="0.65"/>
<polygon points="139.77,237.96 141.09,240.42 138.45,240.42" fill="#111"/>
<line x1="146.50" y1="238.90" x2="146.50" y2="235.70" stroke="#111" stroke-width="0.65"/>
<line x1="145.40" y1="235.70" x2="147.60" y2="235.70" stroke="#111" stroke-width="0.65"/>
<line x1="146.50" y1="238.90" x2="146.50" y2="241.90" stroke="#111" stroke-width="0.65"/>
<line x1="145.40" y1="241.90" x2="147.60" y2="241.90" stroke="#111" stroke-width="0.65"/>
<polygon points="146.50,237.46 147.82,239.92 145.18,239.92" fill="#111"/>
<text x="272.00" y="22.87" font-family="Liberation Sans,sans-serif" font-size="12.7" text-anchor="start" fill="#111" font-weight="bold" stroke="#111">C</text>
<line x1="317.30" y1="34.75" x2="317.30" y2="113.30" stroke="#111" stroke-width="1.0"/>
<line x1="316.80" y1="113.30" x2="460.20" y2="113.30" stroke="#111" stroke-width="1.0"/>
<line x1="314.30" y1="113.30" x2="317.30" y2="113.30" stroke="#111" stroke-width="0.8"/>
<text x="312.90" y="115.52" font-family="DejaVu Sans Condensed,DejaVu Sans,sans-serif" font-size="5.6" text-anchor="end" fill="#111" stroke="#111">15</text>
<line x1="314.30" y1="87.25" x2="317.30" y2="87.25" stroke="#111" stroke-width="0.8"/>
<text x="312.90" y="89.47" font-family="DejaVu Sans Condensed,DejaVu Sans,sans-serif" font-size="5.6" text-anchor="end" fill="#111" stroke="#111">20</text>
<line x1="314.30" y1="61.20" x2="317.30" y2="61.20" stroke="#111" stroke-width="0.8"/>
<text x="312.90" y="63.42" font-family="DejaVu Sans Condensed,DejaVu Sans,sans-serif" font-size="5.6" text-anchor="end" fill="#111" stroke="#111">25</text>
<line x1="314.30" y1="35.15" x2="317.30" y2="35.15" stroke="#111" stroke-width="0.8"/>
<text x="312.90" y="37.37" font-family="DejaVu Sans Condensed,DejaVu Sans,sans-serif" font-size="5.6" text-anchor="end" fill="#111" stroke="#111">30</text>
<line x1="317.30" y1="113.30" x2="317.30" y2="116.30" stroke="#111" stroke-width="0.8"/>
<text x="317.30" y="121.92" font-family="DejaVu Sans Condensed,DejaVu Sans,sans-serif" font-size="5.6" text-anchor="middle" fill="#111" stroke="#111">0</text>
<line x1="326.21" y1="113.30" x2="326.21" y2="116.30" stroke="#111" stroke-width="0.8"/>
<text x="326.21" y="121.92" font-family="DejaVu Sans Condensed,DejaVu Sans,sans-serif" font-size="5.6" text-anchor="middle" fill="#111" stroke="#111">2</text>
<line x1="338.91" y1="113.30" x2="338.91" y2="116.30" stroke="#111" stroke-width="0.8"/>
<text x="338.91" y="121.92" font-family="DejaVu Sans Condensed,DejaVu Sans,sans-serif" font-size="5.6" text-anchor="middle" fill="#111" stroke="#111">4</text>
<line x1="351.62" y1="113.30" x2="351.62" y2="116.30" stroke="#111" stroke-width="0.8"/>
<text x="351.62" y="121.92" font-family="DejaVu Sans Condensed,DejaVu Sans,sans-serif" font-size="5.6" text-anchor="middle" fill="#111" stroke="#111">6</text>
<line x1="364.32" y1="113.30" x2="364.32" y2="116.30" stroke="#111" stroke-width="0.8"/>
<text x="364.32" y="121.92" font-family="DejaVu Sans Condensed,DejaVu Sans,sans-serif" font-size="5.6" text-anchor="middle" fill="#111" stroke="#111">8</text>
<line x1="377.03" y1="113.30" x2="377.03" y2="116.30" stroke="#111" stroke-width="0.8"/>
<text x="377.03" y="121.92" font-family="DejaVu Sans Condensed,DejaVu Sans,sans-serif" font-size="5.6" text-anchor="middle" fill="#111" stroke="#111">10</text>
<line x1="389.74" y1="113.30" x2="389.74" y2="116.30" stroke="#111" stroke-width="0.8"/>
<text x="389.74" y="121.92" font-family="DejaVu Sans Condensed,DejaVu Sans,sans-serif" font-size="5.6" text-anchor="middle" fill="#111" stroke="#111">12</text>
<line x1="402.44" y1="113.30" x2="402.44" y2="116.30" stroke="#111" stroke-width="0.8"/>
<text x="402.44" y="121.92" font-family="DejaVu Sans Condensed,DejaVu Sans,sans-serif" font-size="5.6" text-anchor="middle" fill="#111" stroke="#111">14</text>
<line x1="415.15" y1="113.30" x2="415.15" y2="116.30" stroke="#111" stroke-width="0.8"/>
<text x="415.15" y="121.92" font-family="DejaVu Sans Condensed,DejaVu Sans,sans-serif" font-size="5.6" text-anchor="middle" fill="#111" stroke="#111">16</text>
<line x1="427.85" y1="113.30" x2="427.85" y2="116.30" stroke="#111" stroke-width="0.8"/>
<text x="427.85" y="121.92" font-family="DejaVu Sans Condensed,DejaVu Sans,sans-serif" font-size="5.6" text-anchor="middle" fill="#111" stroke="#111">18</text>
<line x1="440.56" y1="113.30" x2="440.56" y2="116.30" stroke="#111" stroke-width="0.8"/>
<text x="440.56" y="121.92" font-family="DejaVu Sans Condensed,DejaVu Sans,sans-serif" font-size="5.6" text-anchor="middle" fill="#111" stroke="#111">20</text>
<line x1="453.27" y1="113.30" x2="453.27" y2="116.30" stroke="#111" stroke-width="0.8"/>
<text x="453.27" y="121.92" font-family="DejaVu Sans Condensed,DejaVu Sans,sans-serif" font-size="5.6" text-anchor="middle" fill="#111" stroke="#111">22</text>
<line x1="460.20" y1="113.30" x2="460.20" y2="116.30" stroke="#111" stroke-width="0.8"/>
<text x="389.40" y="130.39" font-family="Liberation Sans,sans-serif" font-size="7.2" text-anchor="middle" fill="#111" stroke="#111" textLength="16.5" lengthAdjust="spacingAndGlyphs">Days</text>
<text x="297.40" y="77.92" font-family="DejaVu Sans Condensed,DejaVu Sans,sans-serif" font-size="7.0" text-anchor="middle" fill="#111" stroke="#111" textLength="52" lengthAdjust="spacingAndGlyphs" transform="rotate(-90 297.40 75.40)">Body weight (g)</text>
<text x="384.90" y="45.02" font-family="DejaVu Sans Condensed,DejaVu Sans,sans-serif" font-size="7.0" text-anchor="end" fill="#111" stroke="#111" textLength="17.8" lengthAdjust="spacingAndGlyphs">DMSO</text>
<text x="398.40" y="45.02" font-family="DejaVu Sans Condensed,DejaVu Sans,sans-serif" font-size="7.0" text-anchor="start" fill="#111" stroke="#111">(</text>
<text x="402.90" y="44.14" font-family="DejaVu Sans,sans-serif" font-size="6.18" text-anchor="middle" fill="#111" stroke="#111">■</text>
<text x="405.20" y="45.02" font-family="DejaVu Sans Condensed,DejaVu Sans,sans-serif" font-size="7.0" text-anchor="start" fill="#111" stroke="#111">)</text>
<text x="394.00" y="53.62" font-family="DejaVu Sans Condensed,DejaVu Sans,sans-serif" font-size="7.0" text-anchor="end" fill="#111" stroke="#111" textLength="25.9" lengthAdjust="spacingAndGlyphs">5 mg/kg</text>
<text x="398.80" y="53.62" font-family="DejaVu Sans Condensed,DejaVu Sans,sans-serif" font-size="7.0" text-anchor="start" fill="#111" stroke="#111">(</text>
<text x="403.30" y="52.77" font-family="DejaVu Sans,sans-serif" font-size="6.32" text-anchor="middle" fill="#111" stroke="#111">●</text>
<text x="405.70" y="53.62" font-family="DejaVu Sans Condensed,DejaVu Sans,sans-serif" font-size="7.0" text-anchor="start" fill="#111" stroke="#111">)</text>
<text x="394.00" y="62.12" font-family="DejaVu Sans Condensed,DejaVu Sans,sans-serif" font-size="7.0" text-anchor="end" fill="#111" stroke="#111" textLength="29.8" lengthAdjust="spacingAndGlyphs">10 mg/kg</text>
<text x="399.50" y="62.12" font-family="DejaVu Sans Condensed,DejaVu Sans,sans-serif" font-size="7.0" text-anchor="start" fill="#111" stroke="#111">(</text>
<text x="404.10" y="61.13" font-family="DejaVu Sans,sans-serif" font-size="5.79" text-anchor="middle" fill="#111" stroke="#111">▲</text>
<text x="406.60" y="62.12" font-family="DejaVu Sans Condensed,DejaVu Sans,sans-serif" font-size="7.0" text-anchor="start" fill="#111" stroke="#111">)</text>
<polyline fill="none" stroke="#111" stroke-width="0.9" points="319.85,85.69 326.21,83.60 332.56,85.69 338.91,85.17 345.26,86.47 351.62,85.69 357.97,86.73 364.32,86.21 370.68,86.47 377.03,86.21 383.38,85.43 389.74,84.38 396.09,85.17 402.44,87.25 408.80,85.17 415.15,82.04 421.50,80.48 427.85,79.44 434.21,80.48 440.56,79.96 446.91,79.96 453.27,79.70"/>
<line x1="319.85" y1="85.69" x2="319.85" y2="94.02" stroke="#111" stroke-width="0.75"/>
<line x1="318.15" y1="94.02" x2="321.55" y2="94.02" stroke="#111" stroke-width="0.75"/>
<polygon points="319.85,83.17 322.16,87.47 317.54,87.47" fill="#111"/>
<line x1="326.21" y1="83.60" x2="326.21" y2="91.94" stroke="#111" stroke-width="0.75"/>
<line x1="324.51" y1="91.94" x2="327.91" y2="91.94" stroke="#111" stroke-width="0.75"/>
<polygon points="326.21,81.08 328.52,85.39 323.90,85.39" fill="#111"/>
<line x1="332.56" y1="85.69" x2="332.56" y2="93.50" stroke="#111" stroke-width="0.75"/>
<line x1="330.86" y1="93.50" x2="334.26" y2="93.50" stroke="#111" stroke-width="0.75"/>
<polygon points="332.56,83.17 334.87,87.47 330.25,87.47" fill="#111"/>
<line x1="338.91" y1="85.17" x2="338.91" y2="91.42" stroke="#111" stroke-width="0.75"/>
<line x1="337.21" y1="91.42" x2="340.61" y2="91.42" stroke="#111" stroke-width="0.75"/>
<polygon points="338.91,82.65 341.22,86.95 336.60,86.95" fill="#111"/>
<line x1="345.26" y1="86.47" x2="345.26" y2="92.72" stroke="#111" stroke-width="0.75"/>
<line x1="343.56" y1="92.72" x2="346.96" y2="92.72" stroke="#111" stroke-width="0.75"/>
<polygon points="345.26,83.95 347.57,88.25 342.95,88.25" fill="#111"/>
<line x1="351.62" y1="85.69" x2="351.62" y2="92.46" stroke="#111" stroke-width="0.75"/>
<line x1="349.92" y1="92.46" x2="353.32" y2="92.46" stroke="#111" stroke-width="0.75"/>
<polygon points="351.62,83.17 353.93,87.47 349.31,87.47" fill="#111"/>
<line x1="357.97" y1="86.73" x2="357.97" y2="92.98" stroke="#111" stroke-width="0.75"/>
<line x1="356.27" y1="92.98" x2="359.67" y2="92.98" stroke="#111" stroke-width="0.75"/>
<polygon points="357.97,84.21 360.28,88.51 355.66,88.51" fill="#111"/>
<line x1="364.32" y1="86.21" x2="364.32" y2="92.46" stroke="#111" stroke-width="0.75"/>
<line x1="362.62" y1="92.46" x2="366.02" y2="92.46" stroke="#111" stroke-width="0.75"/>
<polygon points="364.32,83.69 366.63,87.99 362.01,87.99" fill="#111"/>
<line x1="370.68" y1="86.47" x2="370.68" y2="92.72" stroke="#111" stroke-width="0.75"/>
<line x1="368.98" y1="92.72" x2="372.38" y2="92.72" stroke="#111" stroke-width="0.75"/>
<polygon points="370.68,83.95 372.99,88.25 368.37,88.25" fill="#111"/>
<line x1="377.03" y1="86.21" x2="377.03" y2="91.94" stroke="#111" stroke-width="0.75"/>
<line x1="375.33" y1="91.94" x2="378.73" y2="91.94" stroke="#111" stroke-width="0.75"/>
<polygon points="377.03,83.69 379.34,87.99 374.72,87.99" fill="#111"/>
<line x1="383.38" y1="85.43" x2="383.38" y2="91.16" stroke="#111" stroke-width="0.75"/>
<line x1="381.68" y1="91.16" x2="385.08" y2="91.16" stroke="#111" stroke-width="0.75"/>
<polygon points="383.38,82.91 385.69,87.21 381.07,87.21" fill="#111"/>
<line x1="389.74" y1="84.38" x2="389.74" y2="90.64" stroke="#111" stroke-width="0.75"/>
<line x1="388.04" y1="90.64" x2="391.44" y2="90.64" stroke="#111" stroke-width="0.75"/>
<polygon points="389.74,81.86 392.05,86.17 387.43,86.17" fill="#111"/>
<line x1="396.09" y1="85.17" x2="396.09" y2="91.94" stroke="#111" stroke-width="0.75"/>
<line x1="394.39" y1="91.94" x2="397.79" y2="91.94" stroke="#111" stroke-width="0.75"/>
<polygon points="396.09,82.65 398.40,86.95 393.78,86.95" fill="#111"/>
<line x1="402.44" y1="87.25" x2="402.44" y2="95.06" stroke="#111" stroke-width="0.75"/>
<line x1="400.74" y1="95.06" x2="404.14" y2="95.06" stroke="#111" stroke-width="0.75"/>
<polygon points="402.44,84.73 404.75,89.03 400.13,89.03" fill="#111"/>
<line x1="408.80" y1="85.17" x2="408.80" y2="93.50" stroke="#111" stroke-width="0.75"/>
<line x1="407.10" y1="93.50" x2="410.50" y2="93.50" stroke="#111" stroke-width="0.75"/>
<polygon points="408.80,82.65 411.11,86.95 406.49,86.95" fill="#111"/>
<line x1="415.15" y1="82.04" x2="415.15" y2="88.29" stroke="#111" stroke-width="0.75"/>
<line x1="413.45" y1="88.29" x2="416.85" y2="88.29" stroke="#111" stroke-width="0.75"/>
<polygon points="415.15,79.52 417.46,83.82 412.84,83.82" fill="#111"/>
<line x1="421.50" y1="80.48" x2="421.50" y2="86.73" stroke="#111" stroke-width="0.75"/>
<line x1="419.80" y1="86.73" x2="423.20" y2="86.73" stroke="#111" stroke-width="0.75"/>
<polygon points="421.50,77.96 423.81,82.26 419.19,82.26" fill="#111"/>
<line x1="427.85" y1="79.44" x2="427.85" y2="85.69" stroke="#111" stroke-width="0.75"/>
<line x1="426.15" y1="85.69" x2="429.55" y2="85.69" stroke="#111" stroke-width="0.75"/>
<polygon points="427.85,76.92 430.16,81.22 425.54,81.22" fill="#111"/>
<line x1="434.21" y1="80.48" x2="434.21" y2="86.73" stroke="#111" stroke-width="0.75"/>
<line x1="432.51" y1="86.73" x2="435.91" y2="86.73" stroke="#111" stroke-width="0.75"/>
<polygon points="434.21,77.96 436.52,82.26 431.90,82.26" fill="#111"/>
<line x1="440.56" y1="79.96" x2="440.56" y2="86.21" stroke="#111" stroke-width="0.75"/>
<line x1="438.86" y1="86.21" x2="442.26" y2="86.21" stroke="#111" stroke-width="0.75"/>
<polygon points="440.56,77.44 442.87,81.74 438.25,81.74" fill="#111"/>
<line x1="446.91" y1="79.96" x2="446.91" y2="86.21" stroke="#111" stroke-width="0.75"/>
<line x1="445.21" y1="86.21" x2="448.61" y2="86.21" stroke="#111" stroke-width="0.75"/>
<polygon points="446.91,77.44 449.22,81.74 444.60,81.74" fill="#111"/>
<line x1="453.27" y1="79.70" x2="453.27" y2="85.95" stroke="#111" stroke-width="0.75"/>
<line x1="451.57" y1="85.95" x2="454.97" y2="85.95" stroke="#111" stroke-width="0.75"/>
<polygon points="453.27,77.18 455.58,81.48 450.96,81.48" fill="#111"/>
<polyline fill="none" stroke="#111" stroke-width="0.9" points="319.85,79.44 326.21,83.08 332.56,85.43 338.91,85.17 345.26,86.99 351.62,86.73 357.97,87.51 364.32,86.73 370.68,87.25 377.03,86.73 383.38,86.21 389.74,84.64 396.09,84.12 402.44,85.17 408.80,83.60 415.15,81.52 421.50,80.48 427.85,79.96 434.21,81.26 440.56,81.26 446.91,80.74 453.27,80.22"/>
<line x1="319.85" y1="79.44" x2="319.85" y2="73.75" stroke="#111" stroke-width="0.75"/>
<line x1="318.15" y1="73.75" x2="321.55" y2="73.75" stroke="#111" stroke-width="0.75"/>
<line x1="319.85" y1="79.44" x2="319.85" y2="85.12" stroke="#111" stroke-width="0.75"/>
<line x1="318.15" y1="85.12" x2="321.55" y2="85.12" stroke="#111" stroke-width="0.75"/>
<circle cx="319.85" cy="79.44" r="2.30" fill="#111"/>
<line x1="326.21" y1="83.08" x2="326.21" y2="77.39" stroke="#111" stroke-width="0.75"/>
<line x1="324.51" y1="77.39" x2="327.91" y2="77.39" stroke="#111" stroke-width="0.75"/>
<line x1="326.21" y1="83.08" x2="326.21" y2="88.77" stroke="#111" stroke-width="0.75"/>
<line x1="324.51" y1="88.77" x2="327.91" y2="88.77" stroke="#111" stroke-width="0.75"/>
<circle cx="326.21" cy="83.08" r="2.30" fill="#111"/>
<line x1="332.56" y1="85.43" x2="332.56" y2="79.74" stroke="#111" stroke-width="0.75"/>
<line x1="330.86" y1="79.74" x2="334.26" y2="79.74" stroke="#111" stroke-width="0.75"/>
<line x1="332.56" y1="85.43" x2="332.56" y2="91.12" stroke="#111" stroke-width="0.75"/>
<line x1="330.86" y1="91.12" x2="334.26" y2="91.12" stroke="#111" stroke-width="0.75"/>
<circle cx="332.56" cy="85.43" r="2.30" fill="#111"/>
<line x1="338.91" y1="85.17" x2="338.91" y2="79.48" stroke="#111" stroke-width="0.75"/>
<line x1="337.21" y1="79.48" x2="340.61" y2="79.48" stroke="#111" stroke-width="0.75"/>
<line x1="338.91" y1="85.17" x2="338.91" y2="90.86" stroke="#111" stroke-width="0.75"/>
<line x1="337.21" y1="90.86" x2="340.61" y2="90.86" stroke="#111" stroke-width="0.75"/>
<circle cx="338.91" cy="85.17" r="2.30" fill="#111"/>
<line x1="345.26" y1="86.99" x2="345.26" y2="81.30" stroke="#111" stroke-width="0.75"/>
<line x1="343.56" y1="81.30" x2="346.96" y2="81.30" stroke="#111" stroke-width="0.75"/>
<line x1="345.26" y1="86.99" x2="345.26" y2="92.68" stroke="#111" stroke-width="0.75"/>
<line x1="343.56" y1="92.68" x2="346.96" y2="92.68" stroke="#111" stroke-width="0.75"/>
<circle cx="345.26" cy="86.99" r="2.30" fill="#111"/>
<line x1="351.62" y1="86.73" x2="351.62" y2="81.04" stroke="#111" stroke-width="0.75"/>
<line x1="349.92" y1="81.04" x2="353.32" y2="81.04" stroke="#111" stroke-width="0.75"/>
<line x1="351.62" y1="86.73" x2="351.62" y2="92.42" stroke="#111" stroke-width="0.75"/>
<line x1="349.92" y1="92.42" x2="353.32" y2="92.42" stroke="#111" stroke-width="0.75"/>
<circle cx="351.62" cy="86.73" r="2.30" fill="#111"/>
<line x1="357.97" y1="87.51" x2="357.97" y2="81.82" stroke="#111" stroke-width="0.75"/>
<line x1="356.27" y1="81.82" x2="359.67" y2="81.82" stroke="#111" stroke-width="0.75"/>
<line x1="357.97" y1="87.51" x2="357.97" y2="93.20" stroke="#111" stroke-width="0.75"/>
<line x1="356.27" y1="93.20" x2="359.67" y2="93.20" stroke="#111" stroke-width="0.75"/>
<circle cx="357.97" cy="87.51" r="2.30" fill="#111"/>
<line x1="364.32" y1="86.73" x2="364.32" y2="81.04" stroke="#111" stroke-width="0.75"/>
<line x1="362.62" y1="81.04" x2="366.02" y2="81.04" stroke="#111" stroke-width="0.75"/>
<line x1="364.32" y1="86.73" x2="364.32" y2="92.42" stroke="#111" stroke-width="0.75"/>
<line x1="362.62" y1="92.42" x2="366.02" y2="92.42" stroke="#111" stroke-width="0.75"/>
<circle cx="364.32" cy="86.73" r="2.30" fill="#111"/>
<line x1="370.68" y1="87.25" x2="370.68" y2="81.56" stroke="#111" stroke-width="0.75"/>
<line x1="368.98" y1="81.56" x2="372.38" y2="81.56" stroke="#111" stroke-width="0.75"/>
<line x1="370.68" y1="87.25" x2="370.68" y2="92.94" stroke="#111" stroke-width="0.75"/>
<line x1="368.98" y1="92.94" x2="372.38" y2="92.94" stroke="#111" stroke-width="0.75"/>
<circle cx="370.68" cy="87.25" r="2.30" fill="#111"/>
<line x1="377.03" y1="86.73" x2="377.03" y2="81.04" stroke="#111" stroke-width="0.75"/>
<line x1="375.33" y1="81.04" x2="378.73" y2="81.04" stroke="#111" stroke-width="0.75"/>
<line x1="377.03" y1="86.73" x2="377.03" y2="92.42" stroke="#111" stroke-width="0.75"/>
<line x1="375.33" y1="92.42" x2="378.73" y2="92.42" stroke="#111" stroke-width="0.75"/>
<circle cx="377.03" cy="86.73" r="2.30" fill="#111"/>
<line x1="383.38" y1="86.21" x2="383.38" y2="80.52" stroke="#111" stroke-width="0.75"/>
<line x1="381.68" y1="80.52" x2="385.08" y2="80.52" stroke="#111" stroke-width="0.75"/>
<line x1="383.38" y1="86.21" x2="383.38" y2="91.90" stroke="#111" stroke-width="0.75"/>
<line x1="381.68" y1="91.90" x2="385.08" y2="91.90" stroke="#111" stroke-width="0.75"/>
<circle cx="383.38" cy="86.21" r="2.30" fill="#111"/>
<line x1="389.74" y1="84.64" x2="389.74" y2="78.96" stroke="#111" stroke-width="0.75"/>
<line x1="388.04" y1="78.96" x2="391.44" y2="78.96" stroke="#111" stroke-width="0.75"/>
<line x1="389.74" y1="84.64" x2="389.74" y2="90.33" stroke="#111" stroke-width="0.75"/>
<line x1="388.04" y1="90.33" x2="391.44" y2="90.33" stroke="#111" stroke-width="0.75"/>
<circle cx="389.74" cy="84.64" r="2.30" fill="#111"/>
<line x1="396.09" y1="84.12" x2="396.09" y2="78.44" stroke="#111" stroke-width="0.75"/>
<line x1="394.39" y1="78.44" x2="397.79" y2="78.44" stroke="#111" stroke-width="0.75"/>
<line x1="396.09" y1="84.12" x2="396.09" y2="89.81" stroke="#111" stroke-width="0.75"/>
<line x1="394.39" y1="89.81" x2="397.79" y2="89.81" stroke="#111" stroke-width="0.75"/>
<circle cx="396.09" cy="84.12" r="2.30" fill="#111"/>
<line x1="402.44" y1="85.17" x2="402.44" y2="79.48" stroke="#111" stroke-width="0.75"/>
<line x1="400.74" y1="79.48" x2="404.14" y2="79.48" stroke="#111" stroke-width="0.75"/>
<line x1="402.44" y1="85.17" x2="402.44" y2="90.86" stroke="#111" stroke-width="0.75"/>
<line x1="400.74" y1="90.86" x2="404.14" y2="90.86" stroke="#111" stroke-width="0.75"/>
<circle cx="402.44" cy="85.17" r="2.30" fill="#111"/>
<line x1="408.80" y1="83.60" x2="408.80" y2="77.91" stroke="#111" stroke-width="0.75"/>
<line x1="407.10" y1="77.91" x2="410.50" y2="77.91" stroke="#111" stroke-width="0.75"/>
<line x1="408.80" y1="83.60" x2="408.80" y2="89.29" stroke="#111" stroke-width="0.75"/>
<line x1="407.10" y1="89.29" x2="410.50" y2="89.29" stroke="#111" stroke-width="0.75"/>
<circle cx="408.80" cy="83.60" r="2.30" fill="#111"/>
<line x1="415.15" y1="81.52" x2="415.15" y2="75.83" stroke="#111" stroke-width="0.75"/>
<line x1="413.45" y1="75.83" x2="416.85" y2="75.83" stroke="#111" stroke-width="0.75"/>
<line x1="415.15" y1="81.52" x2="415.15" y2="87.21" stroke="#111" stroke-width="0.75"/>
<line x1="413.45" y1="87.21" x2="416.85" y2="87.21" stroke="#111" stroke-width="0.75"/>
<circle cx="415.15" cy="81.52" r="2.30" fill="#111"/>
<line x1="421.50" y1="80.48" x2="421.50" y2="74.79" stroke="#111" stroke-width="0.75"/>
<line x1="419.80" y1="74.79" x2="423.20" y2="74.79" stroke="#111" stroke-width="0.75"/>
<line x1="421.50" y1="80.48" x2="421.50" y2="86.17" stroke="#111" stroke-width="0.75"/>
<line x1="419.80" y1="86.17" x2="423.20" y2="86.17" stroke="#111" stroke-width="0.75"/>
<circle cx="421.50" cy="80.48" r="2.30" fill="#111"/>
<line x1="427.85" y1="79.96" x2="427.85" y2="74.27" stroke="#111" stroke-width="0.75"/>
<line x1="426.15" y1="74.27" x2="429.55" y2="74.27" stroke="#111" stroke-width="0.75"/>
<line x1="427.85" y1="79.96" x2="427.85" y2="85.65" stroke="#111" stroke-width="0.75"/>
<line x1="426.15" y1="85.65" x2="429.55" y2="85.65" stroke="#111" stroke-width="0.75"/>
<circle cx="427.85" cy="79.96" r="2.30" fill="#111"/>
<line x1="434.21" y1="81.26" x2="434.21" y2="75.57" stroke="#111" stroke-width="0.75"/>
<line x1="432.51" y1="75.57" x2="435.91" y2="75.57" stroke="#111" stroke-width="0.75"/>
<line x1="434.21" y1="81.26" x2="434.21" y2="86.95" stroke="#111" stroke-width="0.75"/>
<line x1="432.51" y1="86.95" x2="435.91" y2="86.95" stroke="#111" stroke-width="0.75"/>
<circle cx="434.21" cy="81.26" r="2.30" fill="#111"/>
<line x1="440.56" y1="81.26" x2="440.56" y2="75.57" stroke="#111" stroke-width="0.75"/>
<line x1="438.86" y1="75.57" x2="442.26" y2="75.57" stroke="#111" stroke-width="0.75"/>
<line x1="440.56" y1="81.26" x2="440.56" y2="86.95" stroke="#111" stroke-width="0.75"/>
<line x1="438.86" y1="86.95" x2="442.26" y2="86.95" stroke="#111" stroke-width="0.75"/>
<circle cx="440.56" cy="81.26" r="2.30" fill="#111"/>
<line x1="446.91" y1="80.74" x2="446.91" y2="75.05" stroke="#111" stroke-width="0.75"/>
<line x1="445.21" y1="75.05" x2="448.61" y2="75.05" stroke="#111" stroke-width="0.75"/>
<line x1="446.91" y1="80.74" x2="446.91" y2="86.43" stroke="#111" stroke-width="0.75"/>
<line x1="445.21" y1="86.43" x2="448.61" y2="86.43" stroke="#111" stroke-width="0.75"/>
<circle cx="446.91" cy="80.74" r="2.30" fill="#111"/>
<line x1="453.27" y1="80.22" x2="453.27" y2="74.53" stroke="#111" stroke-width="0.75"/>
<line x1="451.57" y1="74.53" x2="454.97" y2="74.53" stroke="#111" stroke-width="0.75"/>
<line x1="453.27" y1="80.22" x2="453.27" y2="85.91" stroke="#111" stroke-width="0.75"/>
<line x1="451.57" y1="85.91" x2="454.97" y2="85.91" stroke="#111" stroke-width="0.75"/>
<circle cx="453.27" cy="80.22" r="2.30" fill="#111"/>
<polyline fill="none" stroke="#111" stroke-width="0.9" points="319.85,78.91 326.21,82.04 332.56,83.60 338.91,82.04 345.26,83.08 351.62,82.04 357.97,82.04 364.32,83.08 370.68,82.56 377.03,83.08 383.38,82.56 389.74,81.52 396.09,81.52 402.44,82.04 408.80,79.44 415.15,77.09 421.50,74.75 427.85,76.83 434.21,75.53 440.56,73.18 446.91,73.18 453.27,72.66"/>
<line x1="319.85" y1="78.91" x2="319.85" y2="71.10" stroke="#111" stroke-width="0.75"/>
<line x1="318.15" y1="71.10" x2="321.55" y2="71.10" stroke="#111" stroke-width="0.75"/>
<rect x="317.45" y="76.51" width="4.8" height="4.8" fill="#111"/>
<line x1="326.21" y1="82.04" x2="326.21" y2="75.27" stroke="#111" stroke-width="0.75"/>
<line x1="324.51" y1="75.27" x2="327.91" y2="75.27" stroke="#111" stroke-width="0.75"/>
<rect x="323.81" y="79.64" width="4.8" height="4.8" fill="#111"/>
<line x1="332.56" y1="83.60" x2="332.56" y2="76.83" stroke="#111" stroke-width="0.75"/>
<line x1="330.86" y1="76.83" x2="334.26" y2="76.83" stroke="#111" stroke-width="0.75"/>
<rect x="330.16" y="81.20" width="4.8" height="4.8" fill="#111"/>
<line x1="338.91" y1="82.04" x2="338.91" y2="73.70" stroke="#111" stroke-width="0.75"/>
<line x1="337.21" y1="73.70" x2="340.61" y2="73.70" stroke="#111" stroke-width="0.75"/>
<rect x="336.51" y="79.64" width="4.8" height="4.8" fill="#111"/>
<line x1="345.26" y1="83.08" x2="345.26" y2="76.83" stroke="#111" stroke-width="0.75"/>
<line x1="343.56" y1="76.83" x2="346.96" y2="76.83" stroke="#111" stroke-width="0.75"/>
<rect x="342.87" y="80.68" width="4.8" height="4.8" fill="#111"/>
<line x1="351.62" y1="82.04" x2="351.62" y2="74.22" stroke="#111" stroke-width="0.75"/>
<line x1="349.92" y1="74.22" x2="353.32" y2="74.22" stroke="#111" stroke-width="0.75"/>
<rect x="349.22" y="79.64" width="4.8" height="4.8" fill="#111"/>
<line x1="357.97" y1="82.04" x2="357.97" y2="76.83" stroke="#111" stroke-width="0.75"/>
<line x1="356.27" y1="76.83" x2="359.67" y2="76.83" stroke="#111" stroke-width="0.75"/>
<rect x="355.57" y="79.64" width="4.8" height="4.8" fill="#111"/>
<line x1="364.32" y1="83.08" x2="364.32" y2="76.83" stroke="#111" stroke-width="0.75"/>
<line x1="362.62" y1="76.83" x2="366.02" y2="76.83" stroke="#111" stroke-width="0.75"/>
<rect x="361.92" y="80.68" width="4.8" height="4.8" fill="#111"/>
<line x1="370.68" y1="82.56" x2="370.68" y2="75.79" stroke="#111" stroke-width="0.75"/>
<line x1="368.98" y1="75.79" x2="372.38" y2="75.79" stroke="#111" stroke-width="0.75"/>
<rect x="368.28" y="80.16" width="4.8" height="4.8" fill="#111"/>
<line x1="377.03" y1="83.08" x2="377.03" y2="77.35" stroke="#111" stroke-width="0.75"/>
<line x1="375.33" y1="77.35" x2="378.73" y2="77.35" stroke="#111" stroke-width="0.75"/>
<rect x="374.63" y="80.68" width="4.8" height="4.8" fill="#111"/>
<line x1="383.38" y1="82.56" x2="383.38" y2="76.83" stroke="#111" stroke-width="0.75"/>
<line x1="381.68" y1="76.83" x2="385.08" y2="76.83" stroke="#111" stroke-width="0.75"/>
<rect x="380.98" y="80.16" width="4.8" height="4.8" fill="#111"/>
<line x1="389.74" y1="81.52" x2="389.74" y2="74.75" stroke="#111" stroke-width="0.75"/>
<line x1="388.04" y1="74.75" x2="391.44" y2="74.75" stroke="#111" stroke-width="0.75"/>
<rect x="387.34" y="79.12" width="4.8" height="4.8" fill="#111"/>
<line x1="396.09" y1="81.52" x2="396.09" y2="74.75" stroke="#111" stroke-width="0.75"/>
<line x1="394.39" y1="74.75" x2="397.79" y2="74.75" stroke="#111" stroke-width="0.75"/>
<rect x="393.69" y="79.12" width="4.8" height="4.8" fill="#111"/>
<line x1="402.44" y1="82.04" x2="402.44" y2="74.22" stroke="#111" stroke-width="0.75"/>
<line x1="400.74" y1="74.22" x2="404.14" y2="74.22" stroke="#111" stroke-width="0.75"/>
<rect x="400.04" y="79.64" width="4.8" height="4.8" fill="#111"/>
<line x1="408.80" y1="79.44" x2="408.80" y2="69.54" stroke="#111" stroke-width="0.75"/>
<line x1="407.10" y1="69.54" x2="410.50" y2="69.54" stroke="#111" stroke-width="0.75"/>
<rect x="406.40" y="77.03" width="4.8" height="4.8" fill="#111"/>
<line x1="415.15" y1="77.09" x2="415.15" y2="67.19" stroke="#111" stroke-width="0.75"/>
<line x1="413.45" y1="67.19" x2="416.85" y2="67.19" stroke="#111" stroke-width="0.75"/>
<rect x="412.75" y="74.69" width="4.8" height="4.8" fill="#111"/>
<line x1="421.50" y1="74.75" x2="421.50" y2="63.81" stroke="#111" stroke-width="0.75"/>
<line x1="419.80" y1="63.81" x2="423.20" y2="63.81" stroke="#111" stroke-width="0.75"/>
<rect x="419.10" y="72.35" width="4.8" height="4.8" fill="#111"/>
<line x1="427.85" y1="76.83" x2="427.85" y2="68.49" stroke="#111" stroke-width="0.75"/>
<line x1="426.15" y1="68.49" x2="429.55" y2="68.49" stroke="#111" stroke-width="0.75"/>
<rect x="425.45" y="74.43" width="4.8" height="4.8" fill="#111"/>
<line x1="434.21" y1="75.53" x2="434.21" y2="68.75" stroke="#111" stroke-width="0.75"/>
<line x1="432.51" y1="68.75" x2="435.91" y2="68.75" stroke="#111" stroke-width="0.75"/>
<rect x="431.81" y="73.13" width="4.8" height="4.8" fill="#111"/>
<line x1="440.56" y1="73.18" x2="440.56" y2="66.41" stroke="#111" stroke-width="0.75"/>
<line x1="438.86" y1="66.41" x2="442.26" y2="66.41" stroke="#111" stroke-width="0.75"/>
<rect x="438.16" y="70.78" width="4.8" height="4.8" fill="#111"/>
<line x1="446.91" y1="73.18" x2="446.91" y2="65.37" stroke="#111" stroke-width="0.75"/>
<line x1="445.21" y1="65.37" x2="448.61" y2="65.37" stroke="#111" stroke-width="0.75"/>
<rect x="444.51" y="70.78" width="4.8" height="4.8" fill="#111"/>
<line x1="453.27" y1="72.66" x2="453.27" y2="63.28" stroke="#111" stroke-width="0.75"/>
<line x1="451.57" y1="63.28" x2="454.97" y2="63.28" stroke="#111" stroke-width="0.75"/>
<rect x="450.87" y="70.26" width="4.8" height="4.8" fill="#111"/>
<text x="271.40" y="163.88" font-family="Liberation Sans,sans-serif" font-size="13.0" text-anchor="start" fill="#111" font-weight="bold" stroke="#111">D</text>
<line x1="286.40" y1="173.10" x2="286.40" y2="247.10" stroke="#111" stroke-width="1.0"/>
<line x1="285.90" y1="247.10" x2="458.80" y2="247.10" stroke="#111" stroke-width="1.0"/>
<line x1="283.80" y1="232.38" x2="286.40" y2="232.38" stroke="#111" stroke-width="0.8"/>
<text x="282.80" y="234.31" font-family="DejaVu Sans Condensed,DejaVu Sans,sans-serif" font-size="4.8" text-anchor="end" fill="#111" stroke="#111">80</text>
<line x1="283.80" y1="217.66" x2="286.40" y2="217.66" stroke="#111" stroke-width="0.8"/>
<text x="282.80" y="219.59" font-family="DejaVu Sans Condensed,DejaVu Sans,sans-serif" font-size="4.8" text-anchor="end" fill="#111" stroke="#111">160</text>
<line x1="283.80" y1="202.94" x2="286.40" y2="202.94" stroke="#111" stroke-width="0.8"/>
<text x="282.80" y="204.87" font-family="DejaVu Sans Condensed,DejaVu Sans,sans-serif" font-size="4.8" text-anchor="end" fill="#111" stroke="#111">240</text>
<line x1="283.80" y1="188.22" x2="286.40" y2="188.22" stroke="#111" stroke-width="0.8"/>
<text x="282.80" y="190.15" font-family="DejaVu Sans Condensed,DejaVu Sans,sans-serif" font-size="4.8" text-anchor="end" fill="#111" stroke="#111">320</text>
<line x1="283.80" y1="173.50" x2="286.40" y2="173.50" stroke="#111" stroke-width="0.8"/>
<text x="282.80" y="175.43" font-family="DejaVu Sans Condensed,DejaVu Sans,sans-serif" font-size="4.8" text-anchor="end" fill="#111" stroke="#111">400</text>
<text x="268.80" y="209.76" font-family="DejaVu Sans Condensed,DejaVu Sans,sans-serif" font-size="6.0" text-anchor="middle" fill="#111" stroke="#111" transform="rotate(-90 268.80 207.60)">Units</text>
<rect x="290.60" y="219.60" width="10.3" height="27.50" fill="#111"/>
<rect x="301.30" y="225.40" width="9.7" height="21.70" fill="#fff" stroke="#111" stroke-width="0.85"/>
<line x1="295.70" y1="219.60" x2="295.70" y2="218.20" stroke="#111" stroke-width="0.85"/>
<line x1="293.80" y1="218.20" x2="297.60" y2="218.20" stroke="#111" stroke-width="0.85"/>
<line x1="306.10" y1="225.00" x2="306.10" y2="222.00" stroke="#111" stroke-width="0.85"/>
<line x1="304.20" y1="222.00" x2="308.00" y2="222.00" stroke="#111" stroke-width="0.85"/>
<text x="301.00" y="254.28" font-family="DejaVu Sans Condensed,DejaVu Sans,sans-serif" font-size="5.5" text-anchor="middle" fill="#111" stroke="#111">ALP</text>
<text x="301.00" y="259.28" font-family="DejaVu Sans Condensed,DejaVu Sans,sans-serif" font-size="4.4" text-anchor="middle" fill="#111" stroke="#111">(62-209)</text>
<text x="301.00" y="264.41" font-family="DejaVu Sans Condensed,DejaVu Sans,sans-serif" font-size="4.2" text-anchor="middle" fill="#111" stroke="#111">(U/L)</text>
<rect x="319.50" y="238.20" width="10.3" height="8.90" fill="#111"/>
<rect x="330.20" y="237.90" width="9.7" height="9.20" fill="#fff" stroke="#111" stroke-width="0.85"/>
<line x1="324.60" y1="238.20" x2="324.60" y2="237.40" stroke="#111" stroke-width="0.85"/>
<line x1="322.70" y1="237.40" x2="326.50" y2="237.40" stroke="#111" stroke-width="0.85"/>
<line x1="335.00" y1="237.50" x2="335.00" y2="236.50" stroke="#111" stroke-width="0.85"/>
<line x1="333.10" y1="236.50" x2="336.90" y2="236.50" stroke="#111" stroke-width="0.85"/>
<text x="329.90" y="254.28" font-family="DejaVu Sans Condensed,DejaVu Sans,sans-serif" font-size="5.5" text-anchor="middle" fill="#111" stroke="#111">ALT</text>
<text x="329.90" y="259.28" font-family="DejaVu Sans Condensed,DejaVu Sans,sans-serif" font-size="4.4" text-anchor="middle" fill="#111" stroke="#111">(33-132)</text>
<text x="329.90" y="264.41" font-family="DejaVu Sans Condensed,DejaVu Sans,sans-serif" font-size="4.2" text-anchor="middle" fill="#111" stroke="#111">(U/L)</text>
<rect x="348.30" y="222.00" width="10.3" height="25.10" fill="#111"/>
<rect x="359.00" y="228.70" width="9.7" height="18.40" fill="#fff" stroke="#111" stroke-width="0.85"/>
<line x1="353.40" y1="222.00" x2="353.40" y2="213.00" stroke="#111" stroke-width="0.85"/>
<line x1="351.50" y1="213.00" x2="355.30" y2="213.00" stroke="#111" stroke-width="0.85"/>
<line x1="363.80" y1="228.30" x2="363.80" y2="227.40" stroke="#111" stroke-width="0.85"/>
<line x1="361.90" y1="227.40" x2="365.70" y2="227.40" stroke="#111" stroke-width="0.85"/>
<text x="358.70" y="254.28" font-family="DejaVu Sans Condensed,DejaVu Sans,sans-serif" font-size="5.5" text-anchor="middle" fill="#111" stroke="#111">AST</text>
<text x="358.70" y="259.28" font-family="DejaVu Sans Condensed,DejaVu Sans,sans-serif" font-size="4.4" text-anchor="middle" fill="#111" stroke="#111">(110-247)</text>
<text x="358.70" y="264.41" font-family="DejaVu Sans Condensed,DejaVu Sans,sans-serif" font-size="4.2" text-anchor="middle" fill="#111" stroke="#111">(U/L)</text>
<rect x="377.20" y="175.00" width="10.3" height="72.10" fill="#111"/>
<rect x="387.90" y="190.40" width="9.7" height="56.70" fill="#fff" stroke="#111" stroke-width="0.85"/>
<line x1="382.30" y1="175.00" x2="382.30" y2="164.20" stroke="#111" stroke-width="0.85"/>
<line x1="380.40" y1="164.20" x2="384.20" y2="164.20" stroke="#111" stroke-width="0.85"/>
<line x1="392.70" y1="190.00" x2="392.70" y2="183.00" stroke="#111" stroke-width="0.85"/>
<line x1="390.80" y1="183.00" x2="394.60" y2="183.00" stroke="#111" stroke-width="0.85"/>
<text x="387.60" y="254.28" font-family="DejaVu Sans Condensed,DejaVu Sans,sans-serif" font-size="5.5" text-anchor="middle" fill="#111" stroke="#111">CK</text>
<text x="387.60" y="259.28" font-family="DejaVu Sans Condensed,DejaVu Sans,sans-serif" font-size="4.4" text-anchor="middle" fill="#111" stroke="#111">(68-107)</text>
<text x="387.60" y="264.41" font-family="DejaVu Sans Condensed,DejaVu Sans,sans-serif" font-size="4.2" text-anchor="middle" fill="#111" stroke="#111">(U/L)</text>
<rect x="406.20" y="213.80" width="10.3" height="33.30" fill="#111"/>
<rect x="416.90" y="210.90" width="9.7" height="36.20" fill="#fff" stroke="#111" stroke-width="0.85"/>
<line x1="411.30" y1="213.80" x2="411.30" y2="209.50" stroke="#111" stroke-width="0.85"/>
<line x1="409.40" y1="209.50" x2="413.20" y2="209.50" stroke="#111" stroke-width="0.85"/>
<line x1="421.70" y1="210.50" x2="421.70" y2="209.50" stroke="#111" stroke-width="0.85"/>
<line x1="419.80" y1="209.50" x2="423.60" y2="209.50" stroke="#111" stroke-width="0.85"/>
<text x="416.60" y="254.28" font-family="DejaVu Sans Condensed,DejaVu Sans,sans-serif" font-size="5.5" text-anchor="middle" fill="#111" stroke="#111">CREA</text>
<text x="416.60" y="259.28" font-family="DejaVu Sans Condensed,DejaVu Sans,sans-serif" font-size="4.4" text-anchor="middle" fill="#111" stroke="#111">(200-310)</text>
<text x="416.60" y="264.41" font-family="DejaVu Sans Condensed,DejaVu Sans,sans-serif" font-size="4.2" text-anchor="middle" fill="#111" stroke="#111">(µg/dL)</text>
<rect x="435.00" y="199.50" width="10.3" height="47.60" fill="#111"/>
<rect x="445.70" y="203.70" width="9.7" height="43.40" fill="#fff" stroke="#111" stroke-width="0.85"/>
<line x1="440.10" y1="199.50" x2="440.10" y2="193.70" stroke="#111" stroke-width="0.85"/>
<line x1="438.20" y1="193.70" x2="442.00" y2="193.70" stroke="#111" stroke-width="0.85"/>
<line x1="450.50" y1="203.30" x2="450.50" y2="193.00" stroke="#111" stroke-width="0.85"/>
<line x1="448.60" y1="193.00" x2="452.40" y2="193.00" stroke="#111" stroke-width="0.85"/>
<text x="445.40" y="254.28" font-family="DejaVu Sans Condensed,DejaVu Sans,sans-serif" font-size="5.5" text-anchor="middle" fill="#111" stroke="#111">GLU</text>
<text x="445.40" y="259.28" font-family="DejaVu Sans Condensed,DejaVu Sans,sans-serif" font-size="4.4" text-anchor="middle" fill="#111" stroke="#111">(198-232)</text>
<text x="445.40" y="264.41" font-family="DejaVu Sans Condensed,DejaVu Sans,sans-serif" font-size="4.2" text-anchor="middle" fill="#111" stroke="#111">(mg/dL)</text>
<text x="329.60" y="209.05" font-family="DejaVu Sans Condensed,DejaVu Sans,sans-serif" font-size="6.8" text-anchor="middle" fill="#111" stroke="#111" textLength="38" lengthAdjust="spacingAndGlyphs">Liver function</text>
<line x1="295.50" y1="211.70" x2="366.40" y2="211.70" stroke="#111" stroke-width="0.9" stroke-dasharray="2.4 2.8"/>
<text x="399.80" y="160.05" font-family="DejaVu Sans Condensed,DejaVu Sans,sans-serif" font-size="6.8" text-anchor="middle" fill="#111" stroke="#111" textLength="43" lengthAdjust="spacingAndGlyphs">Kidney function</text>
<line x1="381.60" y1="161.80" x2="422.60" y2="161.80" stroke="#111" stroke-width="0.9" stroke-dasharray="2.4 2.8"/>
<text x="445.10" y="188.25" font-family="DejaVu Sans Condensed,DejaVu Sans,sans-serif" font-size="6.8" text-anchor="middle" fill="#111" stroke="#111" textLength="36.6" lengthAdjust="spacingAndGlyphs">Glucose level</text>
<line x1="431.20" y1="190.80" x2="462.60" y2="190.80" stroke="#111" stroke-width="0.9" stroke-dasharray="2.4 2.8"/>
<rect x="457.0" y="155.5" width="8.2" height="8.0" fill="#111"/>
<rect x="457.4" y="168.7" width="7.5" height="7.3" fill="#fff" stroke="#111" stroke-width="0.8"/>
<text x="469.70" y="161.35" font-family="DejaVu Sans Condensed,DejaVu Sans,sans-serif" font-size="6.8" text-anchor="start" fill="#111" stroke="#111" textLength="17.2" lengthAdjust="spacingAndGlyphs">DMSO</text>
<text x="470.40" y="175.05" font-family="DejaVu Sans Condensed,DejaVu Sans,sans-serif" font-size="6.8" text-anchor="start" fill="#111" stroke="#111" textLength="29.6" lengthAdjust="spacingAndGlyphs">Leelamine</text>
<text x="467.80" y="182.65" font-family="DejaVu Sans Condensed,DejaVu Sans,sans-serif" font-size="6.8" text-anchor="start" fill="#111" stroke="#111" textLength="34.8" lengthAdjust="spacingAndGlyphs">(10 mg/kg)</text>
<polygon points="458.8,258.1 462.8,256.1 462.8,260.1" fill="#111"/>
<text x="463.80" y="260.40" font-family="Liberation Sans,sans-serif" font-size="6.4" text-anchor="start" fill="#111" stroke="#111" textLength="36.8" lengthAdjust="spacingAndGlyphs">Normal range</text>
<text x="271.50" y="287.91" font-family="Liberation Sans,sans-serif" font-size="12.8" text-anchor="start" fill="#111" font-weight="bold" stroke="#111">E</text>
<g clip-path="url(#c00)"><rect x="272.0" y="297.9" width="35.50" height="25.90" fill="#6c6c6c" filter="url(#fliv)"/><ellipse cx="280.2" cy="305.09999999999997" rx="1.5" ry="1.3" fill="#e8e8e8"/><ellipse cx="273.0" cy="316.7" rx="2.2" ry="2.8" fill="#c8c8c8"/><path d="M300.4 314.5 q-1.4 2.6 -2.4 6.2 q-1.8 2.6 -3.6 3.4" stroke="#e2e2e2" stroke-width="1.6" fill="none" stroke-linecap="round"/></g>
<g clip-path="url(#c01)"><rect x="272.0" y="325.7" width="35.50" height="26.20" fill="#6c6c6c" filter="url(#fliv)"/><circle cx="278.5" cy="342.2" r="0.9" fill="#b5b5b5"/><circle cx="284.6" cy="347.7" r="0.9" fill="#b5b5b5"/><circle cx="294.8" cy="339.7" r="0.9" fill="#b5b5b5"/><circle cx="293.0" cy="346.3" r="0.9" fill="#b5b5b5"/></g>
<g clip-path="url(#c10)"><rect x="309.3" y="297.9" width="35.00" height="25.90" fill="#4e4e4e" filter="url(#fspl)"/><path d="M318.3 324.9 q6 -9 12 -11 q6 -3 10 -9" stroke="#8a8a8a" stroke-width="4" fill="none" opacity="0.42"/><path d="M311.3 304.9 q8 2 14 8" stroke="#888" stroke-width="3.5" fill="none" opacity="0.4"/></g>
<g clip-path="url(#c11)"><rect x="309.3" y="325.7" width="35.00" height="26.20" fill="#4e4e4e" filter="url(#fspl)"/><path d="M315.3 350.7 q4 -15 14 -16 q9 0 12 7 q2 5 0 10" stroke="#909090" stroke-width="3.6" fill="none" opacity="0.5"/><circle cx="319.8" cy="336.5" r="1.1" fill="#aaa"/></g>
<g clip-path="url(#c20)"><rect x="346.3" y="297.9" width="35.50" height="25.90" fill="#858585" filter="url(#fkid)"/></g>
<g clip-path="url(#c21)"><rect x="346.3" y="325.7" width="35.50" height="26.20" fill="#858585" filter="url(#fkid)"/></g>
<g clip-path="url(#c30)"><rect x="383.0" y="297.9" width="35.00" height="25.90" fill="#ececec"/><ellipse cx="418.9" cy="297.1" rx="4.0" ry="1.24" fill="#151515" transform="rotate(48 418.9 297.1)"/><ellipse cx="414.8" cy="295.5" rx="3.9" ry="1.05" fill="#151515" transform="rotate(45 414.8 295.5)"/><ellipse cx="419.3" cy="302.4" rx="4.1" ry="1.10" fill="#151515" transform="rotate(48 419.3 302.4)"/><ellipse cx="414.6" cy="299.9" rx="3.8" ry="1.20" fill="#151515" transform="rotate(54 414.6 299.9)"/><ellipse cx="419.2" cy="307.0" rx="4.0" ry="1.23" fill="#151515" transform="rotate(51 419.2 307.0)"/><ellipse cx="410.4" cy="298.1" rx="3.7" ry="1.20" fill="#151515" transform="rotate(48 410.4 298.1)"/><ellipse cx="414.4" cy="304.2" rx="3.7" ry="1.15" fill="#151515" transform="rotate(46 414.4 304.2)"/><ellipse cx="418.6" cy="310.7" rx="3.9" ry="1.20" fill="#151515" transform="rotate(50 418.6 310.7)"/><ellipse cx="405.8" cy="295.7" rx="4.0" ry="1.09" fill="#151515" transform="rotate(53 405.8 295.7)"/><ellipse cx="410.6" cy="303.0" rx="3.7" ry="1.13" fill="#151515" transform="rotate(48 410.6 303.0)"/><ellipse cx="414.6" cy="309.2" rx="3.8" ry="1.11" fill="#151515" transform="rotate(52 414.6 309.2)"/><ellipse cx="419.3" cy="316.5" rx="4.1" ry="1.07" fill="#151515" transform="rotate(51 419.3 316.5)"/><ellipse cx="406.5" cy="301.4" rx="4.1" ry="1.17" fill="#151515" transform="rotate(53 406.5 301.4)"/><ellipse cx="410.1" cy="307.0" rx="4.1" ry="1.05" fill="#151515" transform="rotate(51 410.1 307.0)"/><ellipse cx="415.0" cy="314.5" rx="3.9" ry="1.11" fill="#151515" transform="rotate(48 415.0 314.5)"/><ellipse cx="419.3" cy="321.2" rx="3.9" ry="1.06" fill="#151515" transform="rotate(48 419.3 321.2)"/><ellipse cx="402.0" cy="299.2" rx="3.9" ry="1.13" fill="#151515" transform="rotate(54 402.0 299.2)"/><ellipse cx="405.8" cy="305.0" rx="3.9" ry="1.22" fill="#151515" transform="rotate(57 405.8 305.0)"/><ellipse cx="410.6" cy="312.4" rx="3.7" ry="1.17" fill="#151515" transform="rotate(53 410.6 312.4)"/><ellipse cx="414.7" cy="318.8" rx="3.7" ry="1.09" fill="#151515" transform="rotate(47 414.7 318.8)"/><ellipse cx="418.7" cy="324.9" rx="3.9" ry="1.08" fill="#151515" transform="rotate(50 418.7 324.9)"/><ellipse cx="397.5" cy="297.0" rx="3.9" ry="1.12" fill="#151515" transform="rotate(56 397.5 297.0)"/><ellipse cx="401.8" cy="303.5" rx="4.0" ry="1.22" fill="#151515" transform="rotate(52 401.8 303.5)"/><ellipse cx="406.6" cy="310.9" rx="3.7" ry="1.10" fill="#151515" transform="rotate(52 406.6 310.9)"/><ellipse cx="410.1" cy="316.3" rx="3.7" ry="1.15" fill="#151515" transform="rotate(53 410.1 316.3)"/><ellipse cx="415.1" cy="324.0" rx="4.0" ry="1.20" fill="#151515" transform="rotate(51 415.1 324.0)"/><ellipse cx="393.3" cy="295.2" rx="4.1" ry="1.20" fill="#151515" transform="rotate(63 393.3 295.2)"/><ellipse cx="397.2" cy="301.1" rx="3.9" ry="1.07" fill="#151515" transform="rotate(53 397.2 301.1)"/><ellipse cx="401.6" cy="308.0" rx="4.1" ry="1.21" fill="#151515" transform="rotate(53 401.6 308.0)"/><ellipse cx="406.4" cy="315.4" rx="4.1" ry="1.09" fill="#151515" transform="rotate(57 406.4 315.4)"/><ellipse cx="410.9" cy="322.3" rx="4.0" ry="1.21" fill="#151515" transform="rotate(50 410.9 322.3)"/><ellipse cx="393.1" cy="299.6" rx="4.1" ry="1.16" fill="#151515" transform="rotate(61 393.1 299.6)"/><ellipse cx="397.7" cy="306.5" rx="3.9" ry="1.09" fill="#151515" transform="rotate(53 397.7 306.5)"/><ellipse cx="401.7" cy="312.8" rx="3.9" ry="1.11" fill="#151515" transform="rotate(54 401.7 312.8)"/><ellipse cx="406.4" cy="320.0" rx="3.6" ry="1.19" fill="#151515" transform="rotate(49 406.4 320.0)"/><ellipse cx="410.5" cy="326.3" rx="4.0" ry="1.16" fill="#151515" transform="rotate(56 410.5 326.3)"/><ellipse cx="388.8" cy="297.6" rx="3.9" ry="1.22" fill="#151515" transform="rotate(60 388.8 297.6)"/><ellipse cx="392.9" cy="303.9" rx="3.6" ry="1.15" fill="#151515" transform="rotate(56 392.9 303.9)"/><ellipse cx="397.6" cy="311.1" rx="3.8" ry="1.10" fill="#151515" transform="rotate(53 397.6 311.1)"/><ellipse cx="401.6" cy="317.3" rx="3.6" ry="1.08" fill="#151515" transform="rotate(55 401.6 317.3)"/><ellipse cx="406.0" cy="324.1" rx="3.9" ry="1.12" fill="#151515" transform="rotate(51 406.0 324.1)"/><ellipse cx="384.4" cy="295.5" rx="4.0" ry="1.22" fill="#151515" transform="rotate(66 384.4 295.5)"/><ellipse cx="389.4" cy="303.2" rx="4.1" ry="1.14" fill="#151515" transform="rotate(64 389.4 303.2)"/><ellipse cx="393.2" cy="309.1" rx="4.0" ry="1.13" fill="#151515" transform="rotate(60 393.2 309.1)"/><ellipse cx="398.0" cy="316.5" rx="3.8" ry="1.20" fill="#151515" transform="rotate(57 398.0 316.5)"/><ellipse cx="401.9" cy="322.5" rx="3.8" ry="1.20" fill="#151515" transform="rotate(54 401.9 322.5)"/><ellipse cx="380.7" cy="294.5" rx="4.1" ry="1.16" fill="#151515" transform="rotate(59 380.7 294.5)"/><ellipse cx="384.4" cy="300.1" rx="3.7" ry="1.24" fill="#151515" transform="rotate(63 384.4 300.1)"/><ellipse cx="388.9" cy="307.2" rx="3.6" ry="1.12" fill="#151515" transform="rotate(58 388.9 307.2)"/><ellipse cx="393.0" cy="313.5" rx="3.9" ry="1.18" fill="#151515" transform="rotate(59 393.0 313.5)"/><ellipse cx="397.6" cy="320.5" rx="3.9" ry="1.14" fill="#151515" transform="rotate(56 397.6 320.5)"/><ellipse cx="401.6" cy="326.6" rx="3.7" ry="1.20" fill="#151515" transform="rotate(52 401.6 326.6)"/><ellipse cx="380.4" cy="298.7" rx="4.0" ry="1.12" fill="#151515" transform="rotate(68 380.4 298.7)"/><ellipse cx="385.0" cy="305.8" rx="4.2" ry="1.21" fill="#151515" transform="rotate(65 385.0 305.8)"/><ellipse cx="388.7" cy="311.4" rx="4.0" ry="1.22" fill="#151515" transform="rotate(61 388.7 311.4)"/><ellipse cx="393.6" cy="319.0" rx="3.7" ry="1.14" fill="#151515" transform="rotate(62 393.6 319.0)"/><ellipse cx="397.4" cy="324.9" rx="4.2" ry="1.13" fill="#151515" transform="rotate(62 397.4 324.9)"/><ellipse cx="380.9" cy="304.1" rx="4.1" ry="1.06" fill="#151515" transform="rotate(60 380.9 304.1)"/><ellipse cx="384.6" cy="309.8" rx="3.9" ry="1.18" fill="#151515" transform="rotate(59 384.6 309.8)"/><ellipse cx="389.4" cy="317.2" rx="3.6" ry="1.15" fill="#151515" transform="rotate(62 389.4 317.2)"/><ellipse cx="393.7" cy="323.9" rx="3.7" ry="1.25" fill="#151515" transform="rotate(61 393.7 323.9)"/><ellipse cx="380.6" cy="308.4" rx="3.7" ry="1.08" fill="#151515" transform="rotate(68 380.6 308.4)"/><ellipse cx="384.9" cy="314.9" rx="4.1" ry="1.12" fill="#151515" transform="rotate(66 384.9 314.9)"/><ellipse cx="389.4" cy="322.0" rx="3.7" ry="1.23" fill="#151515" transform="rotate(62 389.4 322.0)"/><ellipse cx="380.4" cy="312.7" rx="4.0" ry="1.12" fill="#151515" transform="rotate(62 380.4 312.7)"/><ellipse cx="385.1" cy="320.1" rx="4.1" ry="1.22" fill="#151515" transform="rotate(65 385.1 320.1)"/><ellipse cx="389.4" cy="326.6" rx="3.8" ry="1.11" fill="#151515" transform="rotate(56 389.4 326.6)"/><ellipse cx="380.7" cy="318.0" rx="3.7" ry="1.18" fill="#151515" transform="rotate(67 380.7 318.0)"/><ellipse cx="384.9" cy="324.4" rx="4.0" ry="1.17" fill="#151515" transform="rotate(68 384.9 324.4)"/><ellipse cx="380.6" cy="322.4" rx="4.0" ry="1.18" fill="#151515" transform="rotate(64 380.6 322.4)"/><ellipse cx="380.1" cy="326.3" rx="3.9" ry="1.11" fill="#151515" transform="rotate(63 380.1 326.3)"/></g>
<g clip-path="url(#c31)"><rect x="383.0" y="325.7" width="35.00" height="26.20" fill="#f2f2f2"/><ellipse cx="378.7" cy="321.9" rx="3.3" ry="1.44" fill="#141414" transform="rotate(-20 378.7 321.9)"/><ellipse cx="386.5" cy="321.8" rx="3.4" ry="1.33" fill="#141414" transform="rotate(-14 386.5 321.8)"/><ellipse cx="394.7" cy="320.9" rx="3.4" ry="1.39" fill="#141414" transform="rotate(-14 394.7 320.9)"/><ellipse cx="402.7" cy="322.3" rx="3.2" ry="1.49" fill="#141414" transform="rotate(-11 402.7 322.3)"/><ellipse cx="409.6" cy="321.4" rx="3.3" ry="1.49" fill="#141414" transform="rotate(-10 409.6 321.4)"/><ellipse cx="417.4" cy="321.5" rx="3.4" ry="1.49" fill="#141414" transform="rotate(-3 417.4 321.5)"/><ellipse cx="425.2" cy="322.3" rx="3.5" ry="1.50" fill="#141414" transform="rotate(-9 425.2 322.3)"/><ellipse cx="433.3" cy="321.2" rx="3.4" ry="1.34" fill="#141414" transform="rotate(-3 433.3 321.2)"/><ellipse cx="375.5" cy="325.2" rx="3.4" ry="1.34" fill="#141414" transform="rotate(-21 375.5 325.2)"/><ellipse cx="382.8" cy="326.4" rx="3.3" ry="1.43" fill="#141414" transform="rotate(-14 382.8 326.4)"/><ellipse cx="391.2" cy="325.3" rx="3.5" ry="1.46" fill="#141414" transform="rotate(-16 391.2 325.3)"/><ellipse cx="398.1" cy="325.8" rx="3.4" ry="1.43" fill="#141414" transform="rotate(-15 398.1 325.8)"/><ellipse cx="405.8" cy="326.5" rx="3.4" ry="1.44" fill="#141414" transform="rotate(-12 405.8 326.5)"/><ellipse cx="413.7" cy="325.1" rx="3.4" ry="1.50" fill="#141414" transform="rotate(-9 413.7 325.1)"/><ellipse cx="421.5" cy="326.4" rx="3.3" ry="1.46" fill="#141414" transform="rotate(-5 421.5 326.4)"/><ellipse cx="428.8" cy="325.6" rx="3.5" ry="1.32" fill="#141414" transform="rotate(-7 428.8 325.6)"/><ellipse cx="379.0" cy="330.2" rx="3.5" ry="1.40" fill="#141414" transform="rotate(-17 379.0 330.2)"/><ellipse cx="387.1" cy="329.6" rx="3.3" ry="1.42" fill="#141414" transform="rotate(-14 387.1 329.6)"/><ellipse cx="394.1" cy="328.7" rx="3.2" ry="1.45" fill="#141414" transform="rotate(-12 394.1 328.7)"/><ellipse cx="402.7" cy="330.6" rx="3.3" ry="1.45" fill="#141414" transform="rotate(-6 402.7 330.6)"/><ellipse cx="409.8" cy="329.0" rx="3.3" ry="1.36" fill="#141414" transform="rotate(-10 409.8 329.0)"/><ellipse cx="417.2" cy="329.0" rx="3.5" ry="1.31" fill="#141414" transform="rotate(-4 417.2 329.0)"/><ellipse cx="425.1" cy="330.2" rx="3.4" ry="1.36" fill="#141414" transform="rotate(-8 425.1 330.2)"/><ellipse cx="433.0" cy="329.1" rx="3.4" ry="1.47" fill="#141414" transform="rotate(-6 433.0 329.1)"/><ellipse cx="375.3" cy="333.3" rx="3.3" ry="1.44" fill="#141414" transform="rotate(-17 375.3 333.3)"/><ellipse cx="382.6" cy="334.2" rx="3.4" ry="1.45" fill="#141414" transform="rotate(-13 382.6 334.2)"/><ellipse cx="390.9" cy="333.0" rx="3.2" ry="1.47" fill="#141414" transform="rotate(-17 390.9 333.0)"/><ellipse cx="398.3" cy="333.5" rx="3.3" ry="1.36" fill="#141414" transform="rotate(-12 398.3 333.5)"/><ellipse cx="406.3" cy="334.1" rx="3.3" ry="1.46" fill="#141414" transform="rotate(-7 406.3 334.1)"/><ellipse cx="414.1" cy="332.5" rx="3.4" ry="1.48" fill="#141414" transform="rotate(-8 414.1 332.5)"/><ellipse cx="421.2" cy="334.3" rx="3.3" ry="1.38" fill="#141414" transform="rotate(-2 421.2 334.3)"/><ellipse cx="429.1" cy="333.5" rx="3.3" ry="1.37" fill="#141414" transform="rotate(-3 429.1 333.5)"/><ellipse cx="379.0" cy="338.2" rx="3.2" ry="1.35" fill="#141414" transform="rotate(-16 379.0 338.2)"/><ellipse cx="386.8" cy="337.7" rx="3.5" ry="1.36" fill="#141414" transform="rotate(-18 386.8 337.7)"/><ellipse cx="394.1" cy="336.8" rx="3.3" ry="1.39" fill="#141414" transform="rotate(-17 394.1 336.8)"/><ellipse cx="401.8" cy="338.2" rx="3.4" ry="1.36" fill="#141414" transform="rotate(-7 401.8 338.2)"/><ellipse cx="410.0" cy="337.1" rx="3.4" ry="1.35" fill="#141414" transform="rotate(-7 410.0 337.1)"/><ellipse cx="418.0" cy="337.4" rx="3.3" ry="1.32" fill="#141414" transform="rotate(-4 418.0 337.4)"/><ellipse cx="425.0" cy="338.2" rx="3.4" ry="1.49" fill="#141414" transform="rotate(-4 425.0 338.2)"/><ellipse cx="433.1" cy="337.0" rx="3.3" ry="1.38" fill="#141414" transform="rotate(-4 433.1 337.0)"/><ellipse cx="375.4" cy="341.0" rx="3.3" ry="1.46" fill="#141414" transform="rotate(-19 375.4 341.0)"/><ellipse cx="383.2" cy="342.0" rx="3.5" ry="1.44" fill="#141414" transform="rotate(-18 383.2 342.0)"/><ellipse cx="391.2" cy="341.0" rx="3.2" ry="1.35" fill="#141414" transform="rotate(-14 391.2 341.0)"/><ellipse cx="398.9" cy="341.5" rx="3.2" ry="1.36" fill="#141414" transform="rotate(-15 398.9 341.5)"/><ellipse cx="406.0" cy="342.1" rx="3.3" ry="1.33" fill="#141414" transform="rotate(-13 406.0 342.1)"/><ellipse cx="414.1" cy="340.7" rx="3.3" ry="1.40" fill="#141414" transform="rotate(-5 414.1 340.7)"/><ellipse cx="421.9" cy="342.3" rx="3.4" ry="1.37" fill="#141414" transform="rotate(-8 421.9 342.3)"/><ellipse cx="428.8" cy="341.8" rx="3.2" ry="1.41" fill="#141414" transform="rotate(-2 428.8 341.8)"/><ellipse cx="379.0" cy="345.8" rx="3.3" ry="1.49" fill="#141414" transform="rotate(-16 379.0 345.8)"/><ellipse cx="387.2" cy="345.2" rx="3.4" ry="1.39" fill="#141414" transform="rotate(-16 387.2 345.2)"/><ellipse cx="394.9" cy="345.0" rx="3.5" ry="1.45" fill="#141414" transform="rotate(-10 394.9 345.0)"/><ellipse cx="402.2" cy="346.2" rx="3.4" ry="1.39" fill="#141414" transform="rotate(-13 402.2 346.2)"/><ellipse cx="410.0" cy="345.3" rx="3.5" ry="1.33" fill="#141414" transform="rotate(-9 410.0 345.3)"/><ellipse cx="417.4" cy="345.0" rx="3.5" ry="1.38" fill="#141414" transform="rotate(-7 417.4 345.0)"/><ellipse cx="425.1" cy="346.2" rx="3.4" ry="1.37" fill="#141414" transform="rotate(-8 425.1 346.2)"/><ellipse cx="432.8" cy="344.6" rx="3.5" ry="1.33" fill="#141414" transform="rotate(-3 432.8 344.6)"/><ellipse cx="374.9" cy="349.1" rx="3.3" ry="1.46" fill="#141414" transform="rotate(-18 374.9 349.1)"/><ellipse cx="382.6" cy="350.0" rx="3.4" ry="1.41" fill="#141414" transform="rotate(-17 382.6 350.0)"/><ellipse cx="390.6" cy="348.9" rx="3.3" ry="1.31" fill="#141414" transform="rotate(-14 390.6 348.9)"/><ellipse cx="398.2" cy="349.7" rx="3.4" ry="1.45" fill="#141414" transform="rotate(-15 398.2 349.7)"/><ellipse cx="406.3" cy="349.9" rx="3.5" ry="1.48" fill="#141414" transform="rotate(-9 406.3 349.9)"/><ellipse cx="413.9" cy="348.8" rx="3.3" ry="1.41" fill="#141414" transform="rotate(-4 413.9 348.8)"/><ellipse cx="421.6" cy="350.0" rx="3.5" ry="1.50" fill="#141414" transform="rotate(-7 421.6 350.0)"/><ellipse cx="428.8" cy="349.6" rx="3.2" ry="1.49" fill="#141414" transform="rotate(-5 428.8 349.6)"/><ellipse cx="379.2" cy="354.0" rx="3.5" ry="1.33" fill="#141414" transform="rotate(-17 379.2 354.0)"/><ellipse cx="386.5" cy="353.5" rx="3.2" ry="1.48" fill="#141414" transform="rotate(-17 386.5 353.5)"/><ellipse cx="394.4" cy="352.9" rx="3.4" ry="1.37" fill="#141414" transform="rotate(-13 394.4 352.9)"/><ellipse cx="402.4" cy="353.9" rx="3.2" ry="1.47" fill="#141414" transform="rotate(-13 402.4 353.9)"/><ellipse cx="410.2" cy="353.1" rx="3.4" ry="1.37" fill="#141414" transform="rotate(-5 410.2 353.1)"/><ellipse cx="417.9" cy="352.9" rx="3.5" ry="1.43" fill="#141414" transform="rotate(-7 417.9 352.9)"/><ellipse cx="425.0" cy="353.9" rx="3.4" ry="1.47" fill="#141414" transform="rotate(-6 425.0 353.9)"/><ellipse cx="432.7" cy="352.4" rx="3.3" ry="1.36" fill="#141414" transform="rotate(-9 432.7 352.4)"/><ellipse cx="375.1" cy="357.1" rx="3.2" ry="1.38" fill="#141414" transform="rotate(-17 375.1 357.1)"/><ellipse cx="382.7" cy="357.8" rx="3.2" ry="1.33" fill="#141414" transform="rotate(-13 382.7 357.8)"/><ellipse cx="391.1" cy="356.7" rx="3.5" ry="1.37" fill="#141414" transform="rotate(-16 391.1 356.7)"/><ellipse cx="398.8" cy="357.6" rx="3.5" ry="1.37" fill="#141414" transform="rotate(-12 398.8 357.6)"/><ellipse cx="406.3" cy="358.0" rx="3.2" ry="1.35" fill="#141414" transform="rotate(-13 406.3 358.0)"/><ellipse cx="413.9" cy="356.8" rx="3.4" ry="1.33" fill="#141414" transform="rotate(-5 413.9 356.8)"/><ellipse cx="421.6" cy="357.7" rx="3.5" ry="1.43" fill="#141414" transform="rotate(-5 421.6 357.7)"/><ellipse cx="429.0" cy="357.2" rx="3.3" ry="1.37" fill="#141414" transform="rotate(-7 429.0 357.2)"/></g>
<g clip-path="url(#c40)"><rect x="420.0" y="297.9" width="34.50" height="25.90" fill="#8c8c8c" filter="url(#flun)"/><circle cx="435.8" cy="320.6" r="0.5" fill="#f4f4f4"/><circle cx="429.7" cy="322.8" r="0.9" fill="#f4f4f4"/><circle cx="424.4" cy="306.9" r="1.1" fill="#f4f4f4"/><circle cx="435.2" cy="298.6" r="1.1" fill="#f4f4f4"/><circle cx="424.5" cy="314.5" r="0.9" fill="#f4f4f4"/><circle cx="435.9" cy="322.8" r="0.6" fill="#f4f4f4"/><circle cx="440.9" cy="300.8" r="1.1" fill="#f4f4f4"/><circle cx="425.0" cy="311.2" r="1.0" fill="#f4f4f4"/><circle cx="450.5" cy="300.4" r="1.1" fill="#f4f4f4"/><circle cx="449.1" cy="306.1" r="1.0" fill="#f4f4f4"/><circle cx="427.8" cy="301.9" r="0.6" fill="#f4f4f4"/><circle cx="430.7" cy="319.3" r="0.8" fill="#f4f4f4"/><circle cx="454.1" cy="321.1" r="0.6" fill="#f4f4f4"/><circle cx="435.0" cy="299.6" r="0.9" fill="#f4f4f4"/><circle cx="441.0" cy="313.1" r="0.6" fill="#f4f4f4"/><circle cx="441.1" cy="300.8" r="1.0" fill="#f4f4f4"/><circle cx="435.9" cy="300.5" r="1.1" fill="#f4f4f4"/><circle cx="452.6" cy="306.5" r="1.1" fill="#f4f4f4"/><circle cx="429.8" cy="311.7" r="0.9" fill="#f4f4f4"/><circle cx="447.3" cy="299.7" r="0.5" fill="#f4f4f4"/><circle cx="425.1" cy="307.9" r="1.0" fill="#f4f4f4"/><circle cx="445.0" cy="300.7" r="1.0" fill="#f4f4f4"/><circle cx="426.5" cy="298.4" r="0.8" fill="#f4f4f4"/><circle cx="451.4" cy="321.4" r="0.8" fill="#f4f4f4"/><circle cx="447.5" cy="302.9" r="0.6" fill="#f4f4f4"/><circle cx="453.1" cy="315.3" r="0.6" fill="#f4f4f4"/><circle cx="431.6" cy="317.9" r="0.5" fill="#f4f4f4"/><circle cx="426.4" cy="318.7" r="0.7" fill="#f4f4f4"/><circle cx="434.5" cy="309.0" r="0.8" fill="#f4f4f4"/><circle cx="430.7" cy="304.3" r="1.0" fill="#f4f4f4"/><circle cx="446.2" cy="322.4" r="0.5" fill="#f4f4f4"/><circle cx="425.4" cy="320.0" r="0.7" fill="#f4f4f4"/><circle cx="447.4" cy="305.8" r="0.8" fill="#f4f4f4"/><circle cx="443.1" cy="308.9" r="0.8" fill="#f4f4f4"/><circle cx="421.2" cy="320.0" r="0.9" fill="#f4f4f4"/><circle cx="428.8" cy="310.2" r="0.9" fill="#f4f4f4"/><circle cx="452.2" cy="298.5" r="1.1" fill="#f4f4f4"/><circle cx="440.3" cy="299.0" r="0.7" fill="#f4f4f4"/><path d="M423.4 311.5 q1 -4.5 6 -5.6 q3.5 -2 6 0.6 q1.5 2.5 -1.2 4.6 q-2.5 1.2 -4.2 3.6 q-4 2.4 -6.6 -3.2z" fill="#f2f2f2" stroke="#555" stroke-width="0.5"/><ellipse cx="447.5" cy="302.09999999999997" rx="3.0" ry="1.6" fill="#eee"/><ellipse cx="444.6" cy="311.5" rx="1.8" ry="2.4" fill="#eee"/><ellipse cx="434.6" cy="319.7" rx="2.0" ry="1.5" fill="#eee"/></g>
<g clip-path="url(#c41)"><rect x="420.0" y="325.7" width="34.50" height="26.20" fill="#8c8c8c" filter="url(#flun)"/><circle cx="433.1" cy="331.7" r="0.6" fill="#f4f4f4"/><circle cx="451.5" cy="340.8" r="0.9" fill="#f4f4f4"/><circle cx="439.1" cy="335.7" r="1.0" fill="#f4f4f4"/><circle cx="439.9" cy="346.2" r="0.9" fill="#f4f4f4"/><circle cx="449.0" cy="337.2" r="0.6" fill="#f4f4f4"/><circle cx="425.2" cy="344.6" r="0.6" fill="#f4f4f4"/><circle cx="442.6" cy="342.0" r="0.5" fill="#f4f4f4"/><circle cx="447.1" cy="326.6" r="1.1" fill="#f4f4f4"/><circle cx="449.0" cy="331.4" r="1.0" fill="#f4f4f4"/><circle cx="445.3" cy="329.0" r="0.9" fill="#f4f4f4"/><circle cx="424.3" cy="349.6" r="0.9" fill="#f4f4f4"/><circle cx="453.8" cy="327.1" r="0.7" fill="#f4f4f4"/><circle cx="441.4" cy="341.6" r="0.6" fill="#f4f4f4"/><circle cx="450.6" cy="347.9" r="0.7" fill="#f4f4f4"/><circle cx="425.0" cy="343.2" r="0.8" fill="#f4f4f4"/><circle cx="442.9" cy="338.6" r="0.8" fill="#f4f4f4"/><circle cx="420.7" cy="329.2" r="0.8" fill="#f4f4f4"/><circle cx="445.1" cy="336.9" r="1.0" fill="#f4f4f4"/><circle cx="438.6" cy="348.8" r="0.9" fill="#f4f4f4"/><circle cx="431.1" cy="329.3" r="0.5" fill="#f4f4f4"/><circle cx="421.4" cy="348.3" r="1.1" fill="#f4f4f4"/><circle cx="445.9" cy="328.6" r="0.9" fill="#f4f4f4"/><circle cx="424.4" cy="349.0" r="0.9" fill="#f4f4f4"/><circle cx="445.9" cy="341.7" r="0.8" fill="#f4f4f4"/><circle cx="449.3" cy="350.9" r="0.7" fill="#f4f4f4"/><circle cx="435.1" cy="344.9" r="0.9" fill="#f4f4f4"/><circle cx="434.2" cy="337.5" r="1.1" fill="#f4f4f4"/><circle cx="429.5" cy="331.2" r="0.9" fill="#f4f4f4"/><circle cx="429.6" cy="349.2" r="0.7" fill="#f4f4f4"/><circle cx="451.9" cy="335.7" r="1.1" fill="#f4f4f4"/><circle cx="445.9" cy="344.9" r="0.6" fill="#f4f4f4"/><circle cx="425.7" cy="326.5" r="0.6" fill="#f4f4f4"/><circle cx="443.0" cy="327.4" r="0.7" fill="#f4f4f4"/><circle cx="439.6" cy="329.8" r="0.7" fill="#f4f4f4"/><circle cx="427.9" cy="343.4" r="0.6" fill="#f4f4f4"/><circle cx="454.4" cy="341.4" r="1.0" fill="#f4f4f4"/><circle cx="439.1" cy="338.7" r="1.1" fill="#f4f4f4"/><circle cx="450.8" cy="347.2" r="0.5" fill="#f4f4f4"/><ellipse cx="428.6" cy="330.3" rx="3.0" ry="3.2" fill="#f6f6f6" stroke="#333" stroke-width="0.9"/><ellipse cx="453.9" cy="331.5" rx="1.3" ry="2.6" fill="#f2f2f2"/><ellipse cx="439.5" cy="341.9" rx="2.2" ry="1.4" fill="#eee"/></g>
<g clip-path="url(#c50)"><rect x="456.3" y="297.9" width="35.00" height="25.90" fill="#6c6c6c" filter="url(#fhea)"/><path d="M455.3 305.5 Q457.8 298.9 465.8 296.9" stroke="#f6f6f6" stroke-width="0.90" fill="none"/><path d="M455.3 310.1 Q459.3 300.4 492.3 298.5" stroke="#f6f6f6" stroke-width="1.15" fill="none"/><path d="M455.3 312.9 Q461.3 303.1 492.3 300.9" stroke="#f6f6f6" stroke-width="1.40" fill="none"/><path d="M455.3 317.1 Q464.3 306.9 492.3 303.7" stroke="#f6f6f6" stroke-width="0.90" fill="none"/><path d="M455.3 321.5 Q466.3 310.9 492.3 306.3" stroke="#f6f6f6" stroke-width="1.15" fill="none"/><path d="M461.8 325.4 Q472.3 314.4 492.3 309.9" stroke="#f6f6f6" stroke-width="1.40" fill="none"/><path d="M470.8 325.4 Q480.3 317.4 492.3 313.5" stroke="#f6f6f6" stroke-width="0.90" fill="none"/><path d="M479.8 325.4 Q486.3 320.9 492.3 318.1" stroke="#f6f6f6" stroke-width="1.15" fill="none"/><path d="M455.3 307.9 Q458.3 299.7 476.3 296.9" stroke="#f6f6f6" stroke-width="1.40" fill="none"/></g>
<g clip-path="url(#c51)"><rect x="456.3" y="325.7" width="35.00" height="26.20" fill="#6c6c6c" filter="url(#fhea)"/><path d="M450.3 324.7 Q451.5 338.8 455.3 352.9" stroke="#f2f2f2" stroke-width="0.60" fill="none"/><path d="M453.8 324.7 Q455.0 338.8 459.3 352.9" stroke="#f2f2f2" stroke-width="0.80" fill="none"/><path d="M457.3 324.7 Q458.5 338.8 462.8 352.9" stroke="#f2f2f2" stroke-width="1.00" fill="none"/><path d="M461.6 324.7 Q462.8 338.8 468.8 352.9" stroke="#f2f2f2" stroke-width="0.60" fill="none"/><path d="M465.3 324.7 Q466.5 338.8 472.8 352.9" stroke="#f2f2f2" stroke-width="0.80" fill="none"/><path d="M467.8 324.7 Q469.0 338.8 475.3 352.9" stroke="#f2f2f2" stroke-width="1.00" fill="none"/><path d="M469.8 324.7 Q471.0 338.8 477.8 352.9" stroke="#f2f2f2" stroke-width="0.60" fill="none"/><path d="M474.3 324.7 Q475.5 338.8 482.3 352.9" stroke="#f2f2f2" stroke-width="0.80" fill="none"/><path d="M478.3 324.7 Q479.5 338.8 487.3 352.9" stroke="#f2f2f2" stroke-width="1.00" fill="none"/><path d="M482.3 324.7 Q483.5 338.8 491.3 352.9" stroke="#f2f2f2" stroke-width="0.60" fill="none"/><path d="M486.8 324.7 Q488.0 338.8 495.3 352.9" stroke="#f2f2f2" stroke-width="0.80" fill="none"/><path d="M489.3 324.7 Q490.5 338.8 497.3 352.9" stroke="#f2f2f2" stroke-width="1.00" fill="none"/></g>
<text x="290.40" y="293.57" font-family="DejaVu Sans Condensed,DejaVu Sans,sans-serif" font-size="6.3" text-anchor="middle" fill="#111" stroke="#111" textLength="13.3" lengthAdjust="spacingAndGlyphs">Liver</text>
<rect x="272.0" y="295.1" width="35.50" height="1.5" fill="#111"/>
<text x="327.10" y="293.57" font-family="DejaVu Sans Condensed,DejaVu Sans,sans-serif" font-size="6.3" text-anchor="middle" fill="#111" stroke="#111" textLength="16.8" lengthAdjust="spacingAndGlyphs">Spleen</text>
<rect x="309.3" y="295.1" width="35.00" height="1.5" fill="#111"/>
<text x="364.60" y="293.57" font-family="DejaVu Sans Condensed,DejaVu Sans,sans-serif" font-size="6.3" text-anchor="middle" fill="#111" stroke="#111" textLength="18.3" lengthAdjust="spacingAndGlyphs">Kidney</text>
<rect x="346.3" y="295.1" width="35.50" height="1.5" fill="#111"/>
<text x="400.40" y="293.57" font-family="DejaVu Sans Condensed,DejaVu Sans,sans-serif" font-size="6.3" text-anchor="middle" fill="#111" stroke="#111" textLength="23.3" lengthAdjust="spacingAndGlyphs">Intestine</text>
<rect x="383.0" y="295.1" width="35.00" height="1.5" fill="#111"/>
<text x="435.30" y="293.57" font-family="DejaVu Sans Condensed,DejaVu Sans,sans-serif" font-size="6.3" text-anchor="middle" fill="#111" stroke="#111" textLength="13.0" lengthAdjust="spacingAndGlyphs">Lung</text>
<rect x="420.0" y="295.1" width="34.50" height="1.5" fill="#111"/>
<text x="475.00" y="293.57" font-family="DejaVu Sans Condensed,DejaVu Sans,sans-serif" font-size="6.3" text-anchor="middle" fill="#111" stroke="#111" textLength="15.0" lengthAdjust="spacingAndGlyphs">Heart</text>
<rect x="456.3" y="295.1" width="35.00" height="1.5" fill="#111"/>
<line x1="493.30" y1="296.10" x2="493.30" y2="323.80" stroke="#111" stroke-width="1.5"/>
<line x1="493.30" y1="325.60" x2="493.30" y2="351.80" stroke="#111" stroke-width="1.5"/>
<text x="497.50" y="311.52" font-family="Liberation Sans,sans-serif" font-size="5.6" text-anchor="middle" fill="#333" stroke="#333" textLength="13.3" lengthAdjust="spacingAndGlyphs" transform="rotate(-90 497.50 309.50)">DMSO</text>
<text x="497.50" y="340.12" font-family="Liberation Sans,sans-serif" font-size="5.9" text-anchor="middle" fill="#333" stroke="#333" textLength="23.4" lengthAdjust="spacingAndGlyphs" transform="rotate(-90 497.50 338.00)">Leelamine</text>
<text x="503.00" y="340.72" font-family="Liberation Sans,sans-serif" font-size="5.9" text-anchor="middle" fill="#333" stroke="#333" textLength="26.4" lengthAdjust="spacingAndGlyphs" transform="rotate(-90 503.00 338.60)">(10 mg/kg)</text>
<line x1="480.50" y1="352.80" x2="493.00" y2="352.80" stroke="#111" stroke-width="1.4"/>
<text x="487.30" y="358.40" font-family="Liberation Sans,sans-serif" font-size="5.0" text-anchor="middle" fill="#111" stroke="#111" textLength="11" lengthAdjust="spacingAndGlyphs">200X</text>
</g>
<rect x="0.5" y="0.5" width="519" height="371" fill="none" stroke="#6a6a6a" stroke-width="1.2"/>
</svg>
</body></html>
